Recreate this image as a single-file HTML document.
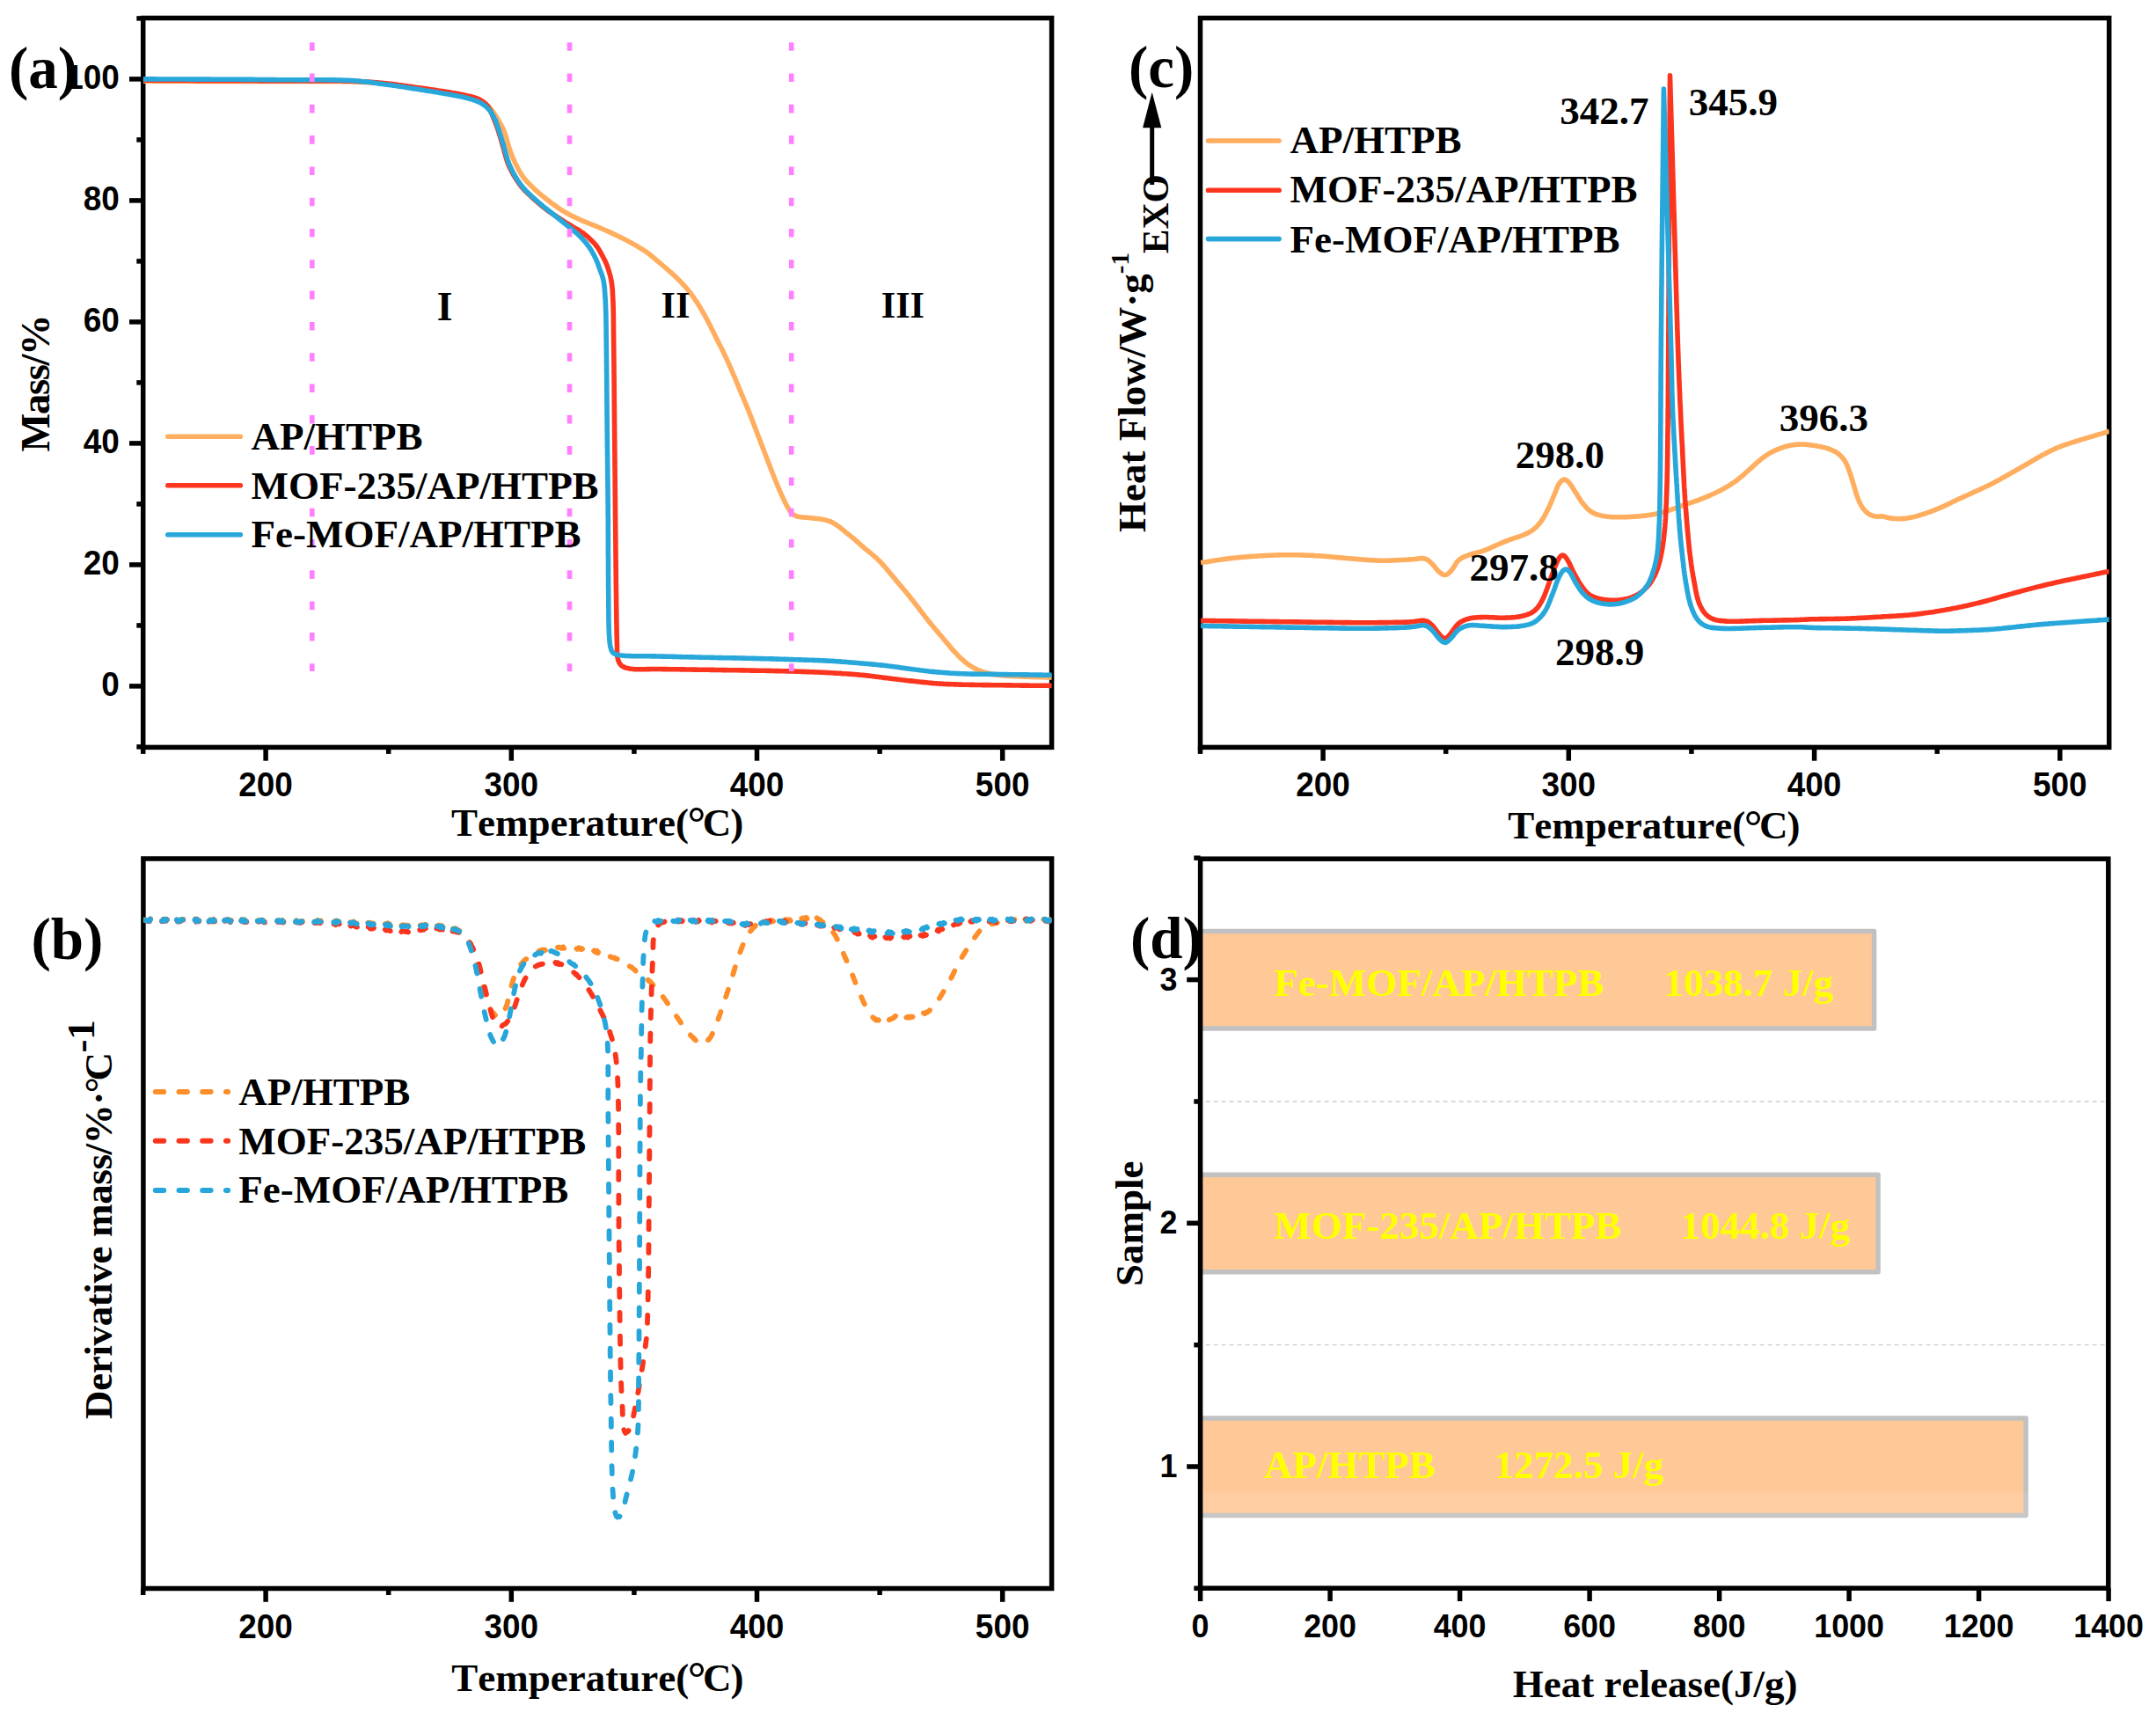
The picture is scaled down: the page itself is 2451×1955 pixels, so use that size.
<!DOCTYPE html>
<html lang="en"><head><meta charset="utf-8"><title>TG / DTG / DSC / heat release</title>
<style>
html,body{margin:0;padding:0;background:#fff}
svg{display:block}
.se{font-family:"Liberation Serif","Noto Serif CJK SC",serif;font-weight:bold;font-kerning:none}
.sa{font-family:"Liberation Sans",sans-serif;font-weight:bold;font-kerning:none}
</style></head>
<body>
<svg width="2451" height="1955" viewBox="0 0 2451 1955">
<rect width="2451" height="1955" fill="#fff"/>
<clipPath id="cd"><rect x="1364.6" y="900" width="1100" height="1000"/></clipPath>
<g id="pa">
<rect x="162.7" y="20.5" width="1032.9" height="828.9" fill="none" stroke="#000" stroke-width="5.5"/>
<line x1="302.1" y1="849.4" x2="302.1" y2="864.7" stroke="#000" stroke-width="5.5"/>
<line x1="581.3" y1="849.4" x2="581.3" y2="864.7" stroke="#000" stroke-width="5.5"/>
<line x1="860.5" y1="849.4" x2="860.5" y2="864.7" stroke="#000" stroke-width="5.5"/>
<line x1="1139.7" y1="849.4" x2="1139.7" y2="864.7" stroke="#000" stroke-width="5.5"/>
<line x1="441.7" y1="849.4" x2="441.7" y2="856.9" stroke="#000" stroke-width="5.5"/>
<line x1="720.9" y1="849.4" x2="720.9" y2="856.9" stroke="#000" stroke-width="5.5"/>
<line x1="1000.1" y1="849.4" x2="1000.1" y2="856.9" stroke="#000" stroke-width="5.5"/>
<text class="sa" transform="translate(302.1 905.0) scale(0.955 1)" font-size="38.7" text-anchor="middle">200</text>
<text class="sa" transform="translate(581.3 905.0) scale(0.955 1)" font-size="38.7" text-anchor="middle">300</text>
<text class="sa" transform="translate(860.5 905.0) scale(0.955 1)" font-size="38.7" text-anchor="middle">400</text>
<text class="sa" transform="translate(1139.7 905.0) scale(0.955 1)" font-size="38.7" text-anchor="middle">500</text>
<line x1="162.7" y1="849.4" x2="162.7" y2="856.9" stroke="#000" stroke-width="5.5"/>
<line x1="147.0" y1="779.9" x2="162.7" y2="779.9" stroke="#000" stroke-width="5.5"/>
<text class="sa" transform="translate(135.8 791.0) scale(0.955 1)" font-size="38.7" text-anchor="end">0</text>
<line x1="147.0" y1="641.9" x2="162.7" y2="641.9" stroke="#000" stroke-width="5.5"/>
<text class="sa" transform="translate(135.8 653.0) scale(0.955 1)" font-size="38.7" text-anchor="end">20</text>
<line x1="147.0" y1="503.9" x2="162.7" y2="503.9" stroke="#000" stroke-width="5.5"/>
<text class="sa" transform="translate(135.8 515.0) scale(0.955 1)" font-size="38.7" text-anchor="end">40</text>
<line x1="147.0" y1="365.9" x2="162.7" y2="365.9" stroke="#000" stroke-width="5.5"/>
<text class="sa" transform="translate(135.8 377.0) scale(0.955 1)" font-size="38.7" text-anchor="end">60</text>
<line x1="147.0" y1="227.9" x2="162.7" y2="227.9" stroke="#000" stroke-width="5.5"/>
<text class="sa" transform="translate(135.8 239.0) scale(0.955 1)" font-size="38.7" text-anchor="end">80</text>
<line x1="147.0" y1="89.9" x2="162.7" y2="89.9" stroke="#000" stroke-width="5.5"/>
<text class="sa" transform="translate(135.8 101.0) scale(0.955 1)" font-size="38.7" text-anchor="end">100</text>
<line x1="155.3" y1="848.9" x2="162.7" y2="848.9" stroke="#000" stroke-width="5.5"/>
<line x1="155.3" y1="710.9" x2="162.7" y2="710.9" stroke="#000" stroke-width="5.5"/>
<line x1="155.3" y1="572.9" x2="162.7" y2="572.9" stroke="#000" stroke-width="5.5"/>
<line x1="155.3" y1="434.9" x2="162.7" y2="434.9" stroke="#000" stroke-width="5.5"/>
<line x1="155.3" y1="296.9" x2="162.7" y2="296.9" stroke="#000" stroke-width="5.5"/>
<line x1="155.3" y1="158.9" x2="162.7" y2="158.9" stroke="#000" stroke-width="5.5"/>
<line x1="155.3" y1="20.9" x2="162.7" y2="20.9" stroke="#000" stroke-width="5.5"/>
<clipPath id="ca"><rect x="162.7" y="0" width="1032.8999999999999" height="900"/></clipPath>
<g clip-path="url(#ca)">
<path d="M162.6 92.3L164.6 92.3L166.6 92.3L168.6 92.3L170.6 92.3L172.6 92.3L174.6 92.3L176.6 92.3L178.6 92.3L180.6 92.3L182.6 92.3L184.6 92.3L186.6 92.3L188.6 92.3L190.6 92.3L192.6 92.3L194.6 92.3L196.6 92.3L198.6 92.3L200.6 92.3L202.6 92.3L204.6 92.3L206.6 92.3L208.6 92.3L210.6 92.3L212.6 92.3L214.6 92.3L216.6 92.4L218.6 92.4L220.6 92.4L222.6 92.4L224.6 92.4L226.6 92.4L228.6 92.4L230.6 92.4L232.6 92.4L234.6 92.4L236.6 92.4L238.6 92.4L240.6 92.4L242.6 92.4L244.6 92.4L246.6 92.4L248.6 92.4L250.6 92.4L252.6 92.4L254.6 92.4L256.6 92.4L258.6 92.4L260.6 92.4L262.6 92.4L264.6 92.4L266.6 92.4L268.6 92.4L270.6 92.4L272.6 92.4L274.6 92.4L276.6 92.4L278.6 92.4L280.6 92.4L282.6 92.4L284.6 92.4L286.6 92.4L288.6 92.4L290.6 92.4L292.6 92.4L294.6 92.4L296.6 92.4L298.6 92.4L300.6 92.4L302.6 92.4L304.6 92.4L306.6 92.4L308.6 92.5L310.6 92.5L312.6 92.5L314.6 92.5L316.6 92.5L318.6 92.5L320.6 92.5L322.6 92.5L324.6 92.5L326.6 92.5L328.6 92.5L330.6 92.5L332.6 92.5L334.6 92.5L336.6 92.5L338.6 92.5L340.6 92.5L342.6 92.5L344.6 92.5L346.6 92.5L348.6 92.5L350.6 92.5L352.6 92.5L354.6 92.5L356.6 92.5L358.6 92.5L360.6 92.4L362.6 92.4L364.6 92.4L366.6 92.4L368.6 92.4L370.6 92.4L372.6 92.4L374.6 92.4L376.6 92.4L378.6 92.4L380.6 92.4L382.6 92.5L384.6 92.5L386.6 92.5L388.6 92.5L390.6 92.6L392.6 92.6L394.6 92.6L396.6 92.7L398.6 92.8L400.6 92.8L402.6 92.9L404.6 93.0L406.6 93.1L408.6 93.1L410.6 93.2L412.6 93.3L414.6 93.4L416.6 93.6L418.6 93.7L420.6 93.8L422.6 93.9L424.6 94.1L426.6 94.2L428.5 94.4L430.5 94.6L432.5 94.8L434.5 94.9L436.5 95.1L438.5 95.3L440.5 95.6L442.5 95.8L444.5 96.0L446.4 96.3L448.4 96.5L450.4 96.8L452.4 97.1L454.4 97.3L456.4 97.6L458.3 97.9L460.3 98.2L462.3 98.5L464.3 98.8L466.2 99.1L468.2 99.4L470.2 99.7L472.2 100.0L474.2 100.3L476.1 100.6L478.1 100.8L480.1 101.1L482.1 101.4L484.1 101.7L486.0 102.0L488.0 102.3L490.0 102.6L492.0 102.9L493.9 103.2L495.9 103.5L497.9 103.8L499.9 104.1L501.9 104.4L503.8 104.7L505.8 105.0L507.8 105.4L509.7 105.7L511.7 106.0L513.7 106.4L515.7 106.7L517.6 107.0L519.6 107.4L521.6 107.7L523.5 108.1L525.5 108.5L527.5 108.9L529.4 109.3L531.4 109.8L533.3 110.3L535.2 110.7L537.2 111.2L539.1 111.8L541.0 112.4L542.9 113.1L544.7 113.9L546.5 114.8L548.3 115.7L550.0 116.8L551.6 117.9L553.2 119.1L554.7 120.4L556.2 121.8L557.5 123.2L558.8 124.8L560.0 126.4L561.2 128.0L562.3 129.7L563.3 131.3L564.4 133.0L565.5 134.7L566.5 136.4L567.5 138.2L568.5 139.9L569.5 141.6L570.4 143.4L571.3 145.2L572.2 147.0L573.0 148.8L573.7 150.7L574.3 152.6L574.9 154.5L575.5 156.4L576.0 158.4L576.5 160.3L577.0 162.2L577.6 164.1L578.2 166.1L578.8 167.9L579.5 169.8L580.1 171.7L580.8 173.6L581.5 175.5L582.2 177.3L583.0 179.2L583.8 181.0L584.6 182.9L585.4 184.7L586.3 186.5L587.2 188.3L588.1 190.1L589.0 191.8L590.0 193.6L591.0 195.3L592.0 197.0L593.1 198.7L594.2 200.3L595.4 202.0L596.6 203.5L597.9 205.1L599.2 206.6L600.6 208.0L602.0 209.4L603.4 210.9L604.9 212.3L606.3 213.6L607.8 215.0L609.2 216.4L610.7 217.7L612.2 219.0L613.8 220.3L615.3 221.6L616.8 222.8L618.4 224.1L620.0 225.3L621.6 226.6L623.1 227.8L624.7 229.0L626.3 230.2L627.9 231.4L629.5 232.6L631.2 233.8L632.8 234.9L634.4 236.1L636.1 237.2L637.7 238.3L639.4 239.4L641.1 240.4L642.9 241.4L644.6 242.4L646.4 243.3L648.1 244.3L649.9 245.2L651.7 246.1L653.5 246.9L655.3 247.8L657.1 248.6L658.9 249.5L660.8 250.3L662.6 251.1L664.4 251.9L666.3 252.6L668.2 253.4L670.0 254.1L671.9 254.8L673.8 255.5L675.6 256.3L677.5 257.0L679.3 257.8L681.2 258.6L683.0 259.4L684.8 260.2L686.7 261.0L688.5 261.8L690.3 262.6L692.1 263.4L694.0 264.3L695.8 265.1L697.6 265.9L699.4 266.8L701.2 267.7L703.0 268.5L704.8 269.4L706.6 270.3L708.4 271.2L710.2 272.1L711.9 273.0L713.7 273.9L715.5 274.9L717.2 275.8L719.0 276.8L720.7 277.8L722.5 278.7L724.2 279.7L725.9 280.8L727.6 281.8L729.3 282.8L731.0 283.9L732.7 285.0L734.4 286.1L736.0 287.3L737.6 288.5L739.2 289.7L740.7 291.0L742.3 292.2L743.8 293.5L745.3 294.8L746.8 296.1L748.4 297.4L749.9 298.7L751.4 300.0L752.9 301.3L754.5 302.6L756.0 303.9L757.5 305.2L759.0 306.5L760.5 307.8L762.1 309.1L763.5 310.4L765.0 311.8L766.5 313.1L767.9 314.5L769.4 315.9L770.8 317.3L772.2 318.7L773.6 320.2L775.0 321.6L776.4 323.1L777.7 324.5L779.1 326.0L780.4 327.5L781.7 329.1L782.9 330.6L784.2 332.2L785.4 333.8L786.6 335.4L787.7 337.0L788.9 338.6L790.0 340.3L791.1 341.9L792.2 343.6L793.3 345.3L794.4 347.0L795.5 348.7L796.5 350.4L797.5 352.1L798.5 353.8L799.5 355.6L800.5 357.3L801.5 359.1L802.4 360.8L803.4 362.6L804.3 364.3L805.2 366.1L806.1 367.9L807.1 369.7L808.0 371.5L808.8 373.3L809.7 375.0L810.6 376.8L811.5 378.6L812.4 380.4L813.3 382.2L814.2 384.0L815.1 385.8L816.0 387.6L816.9 389.4L817.8 391.2L818.7 392.9L819.6 394.7L820.5 396.5L821.4 398.3L822.2 400.1L823.1 401.9L824.0 403.7L824.8 405.5L825.7 407.3L826.5 409.1L827.3 411.0L828.2 412.8L829.0 414.6L829.8 416.4L830.6 418.3L831.4 420.1L832.2 421.9L833.0 423.8L833.8 425.6L834.6 427.4L835.4 429.3L836.1 431.1L836.9 433.0L837.7 434.8L838.4 436.7L839.2 438.5L839.9 440.4L840.7 442.2L841.5 444.1L842.2 445.9L843.0 447.8L843.8 449.6L844.6 451.4L845.3 453.3L846.1 455.1L846.9 457.0L847.7 458.8L848.4 460.7L849.2 462.5L850.0 464.4L850.7 466.2L851.5 468.1L852.2 469.9L852.9 471.8L853.7 473.7L854.4 475.5L855.1 477.4L855.8 479.3L856.5 481.1L857.2 483.0L857.9 484.9L858.6 486.7L859.4 488.6L860.1 490.5L860.8 492.3L861.5 494.2L862.2 496.1L862.9 497.9L863.7 499.8L864.4 501.7L865.1 503.5L865.8 505.4L866.5 507.3L867.2 509.1L868.0 511.0L868.7 512.9L869.4 514.7L870.1 516.6L870.8 518.5L871.5 520.3L872.2 522.2L873.0 524.1L873.7 526.0L874.4 527.8L875.1 529.7L875.8 531.6L876.5 533.4L877.2 535.3L878.0 537.2L878.7 539.0L879.5 540.9L880.2 542.7L880.9 544.6L881.7 546.4L882.4 548.3L883.2 550.1L884.0 552.0L884.7 553.8L885.5 555.7L886.3 557.5L887.1 559.4L887.9 561.2L888.7 563.0L889.6 564.8L890.4 566.6L891.3 568.4L892.1 570.2L893.0 572.0L893.9 573.8L894.9 575.6L895.9 577.3L896.9 579.0L897.9 580.7L899.1 582.3L900.5 583.8L902.0 585.0L903.8 585.9L905.6 586.7L907.5 587.2L909.5 587.6L911.5 587.9L913.5 588.0L915.4 588.2L917.4 588.3L919.4 588.5L921.4 588.7L923.4 588.9L925.4 589.1L927.4 589.3L929.4 589.5L931.4 589.8L933.3 590.1L935.3 590.4L937.3 590.8L939.2 591.2L941.1 591.8L943.0 592.4L944.9 593.2L946.7 594.1L948.4 595.1L950.1 596.2L951.7 597.3L953.4 598.4L955.0 599.6L956.5 600.9L958.1 602.1L959.6 603.4L961.1 604.7L962.7 606.0L964.3 607.2L965.8 608.4L967.4 609.7L969.0 610.9L970.5 612.2L972.0 613.5L973.5 614.8L975.0 616.1L976.5 617.5L978.0 618.9L979.4 620.2L980.9 621.5L982.5 622.8L984.0 624.1L985.6 625.4L987.1 626.6L988.7 627.9L990.2 629.1L991.8 630.4L993.3 631.7L994.8 633.0L996.3 634.3L997.7 635.7L999.2 637.1L1000.6 638.5L1002.0 640.0L1003.3 641.5L1004.6 642.9L1006.0 644.5L1007.3 646.0L1008.6 647.5L1009.8 649.0L1011.1 650.6L1012.4 652.1L1013.7 653.6L1015.0 655.2L1016.2 656.7L1017.5 658.2L1018.8 659.8L1020.1 661.3L1021.4 662.8L1022.7 664.4L1024.0 665.9L1025.3 667.4L1026.5 669.0L1027.8 670.5L1029.1 672.0L1030.4 673.6L1031.6 675.1L1032.9 676.7L1034.2 678.2L1035.4 679.8L1036.7 681.3L1037.9 682.9L1039.1 684.5L1040.4 686.1L1041.6 687.7L1042.8 689.2L1044.0 690.8L1045.2 692.4L1046.4 694.0L1047.6 695.6L1048.9 697.2L1050.1 698.8L1051.3 700.4L1052.5 701.9L1053.8 703.5L1055.0 705.1L1056.3 706.6L1057.5 708.2L1058.8 709.7L1060.1 711.3L1061.4 712.8L1062.6 714.4L1063.9 715.9L1065.2 717.4L1066.5 718.9L1067.8 720.5L1069.1 722.0L1070.4 723.5L1071.7 725.1L1072.9 726.6L1074.2 728.1L1075.5 729.6L1076.8 731.2L1078.1 732.7L1079.4 734.2L1080.7 735.8L1082.0 737.3L1083.3 738.8L1084.6 740.3L1086.0 741.7L1087.4 743.2L1088.7 744.6L1090.1 746.1L1091.6 747.5L1093.0 748.9L1094.5 750.2L1096.0 751.5L1097.6 752.8L1099.1 754.0L1100.7 755.2L1102.4 756.3L1104.1 757.4L1105.8 758.4L1107.5 759.4L1109.3 760.3L1111.1 761.2L1112.9 762.0L1114.8 762.7L1116.7 763.4L1118.6 764.0L1120.5 764.5L1122.4 765.0L1124.4 765.5L1126.3 765.9L1128.3 766.3L1130.3 766.6L1132.3 766.9L1134.2 767.2L1136.2 767.4L1138.2 767.6L1140.2 767.8L1142.2 768.0L1144.2 768.1L1146.2 768.2L1148.2 768.3L1150.2 768.4L1152.2 768.5L1154.2 768.7L1156.2 768.8L1158.2 768.9L1160.2 769.0L1162.2 769.0L1164.2 769.1L1166.2 769.2L1168.2 769.3L1170.2 769.3L1172.2 769.4L1174.2 769.5L1176.2 769.5L1178.2 769.6L1180.2 769.6L1182.2 769.7L1184.2 769.7L1186.2 769.8L1188.2 769.9L1190.2 769.9L1192.2 770.0L1194.2 770.0L1196.0 770.1" fill="none" stroke="#FFAE5F" stroke-width="5.6" stroke-linejoin="round"/>
<path d="M162.6 91.3L164.6 91.3L166.6 91.3L168.6 91.3L170.6 91.3L172.6 91.3L174.6 91.4L176.6 91.4L178.6 91.4L180.6 91.4L182.6 91.4L184.6 91.4L186.6 91.4L188.6 91.4L190.6 91.4L192.6 91.4L194.6 91.4L196.6 91.4L198.6 91.5L200.6 91.5L202.6 91.5L204.6 91.5L206.6 91.5L208.6 91.5L210.6 91.5L212.6 91.5L214.6 91.5L216.6 91.5L218.6 91.5L220.6 91.5L222.6 91.6L224.6 91.6L226.6 91.6L228.6 91.6L230.6 91.6L232.6 91.6L234.6 91.6L236.6 91.6L238.6 91.6L240.6 91.6L242.6 91.6L244.6 91.6L246.6 91.7L248.6 91.7L250.6 91.7L252.6 91.7L254.6 91.7L256.6 91.7L258.6 91.7L260.6 91.7L262.6 91.7L264.6 91.7L266.6 91.7L268.6 91.7L270.6 91.8L272.6 91.8L274.6 91.8L276.6 91.8L278.6 91.8L280.6 91.8L282.6 91.8L284.6 91.8L286.6 91.8L288.6 91.8L290.6 91.8L292.6 91.8L294.6 91.9L296.6 91.9L298.6 91.9L300.6 91.9L302.6 91.9L304.6 91.9L306.6 91.9L308.6 91.9L310.6 91.9L312.6 91.9L314.6 91.9L316.6 91.9L318.6 92.0L320.6 92.0L322.6 92.0L324.6 92.0L326.6 92.0L328.6 92.0L330.6 92.0L332.6 92.0L334.6 92.0L336.6 92.0L338.6 92.0L340.6 92.0L342.6 92.0L344.6 92.0L346.6 92.0L348.6 92.0L350.6 92.0L352.6 92.0L354.6 92.0L356.6 92.0L358.6 92.0L360.6 92.0L362.6 92.0L364.6 92.0L366.6 92.0L368.6 92.0L370.6 91.9L372.6 91.9L374.6 91.9L376.6 92.0L378.6 92.0L380.6 92.0L382.6 92.0L384.6 92.0L386.6 92.0L388.6 92.0L390.6 92.1L392.6 92.1L394.6 92.2L396.6 92.2L398.6 92.3L400.6 92.3L402.6 92.4L404.6 92.5L406.6 92.5L408.6 92.6L410.6 92.7L412.6 92.8L414.6 92.9L416.6 93.0L418.6 93.1L420.6 93.3L422.6 93.4L424.6 93.5L426.6 93.7L428.6 93.8L430.5 94.0L432.5 94.2L434.5 94.4L436.5 94.5L438.5 94.7L440.5 94.9L442.5 95.2L444.5 95.4L446.5 95.6L448.4 95.9L450.4 96.1L452.4 96.4L454.4 96.7L456.4 96.9L458.4 97.2L460.3 97.5L462.3 97.8L464.3 98.1L466.3 98.3L468.3 98.6L470.2 98.9L472.2 99.2L474.2 99.5L476.2 99.7L478.2 100.0L480.1 100.3L482.1 100.6L484.1 100.9L486.1 101.1L488.1 101.4L490.0 101.7L492.0 102.0L494.0 102.3L496.0 102.6L498.0 102.9L499.9 103.2L501.9 103.5L503.9 103.8L505.9 104.1L507.8 104.4L509.8 104.7L511.8 105.0L513.8 105.4L515.7 105.7L517.7 106.1L519.7 106.4L521.6 106.8L523.6 107.2L525.6 107.6L527.5 108.0L529.5 108.4L531.4 108.9L533.4 109.3L535.3 109.8L537.2 110.3L539.2 110.8L541.1 111.4L542.9 112.1L544.8 112.9L546.5 113.9L548.2 114.9L549.8 116.1L551.4 117.4L552.8 118.8L554.1 120.3L555.3 121.9L556.3 123.6L557.3 125.3L558.1 127.1L558.9 129.0L559.7 130.8L560.4 132.7L561.2 134.5L562.0 136.4L562.7 138.2L563.4 140.1L564.1 142.0L564.8 143.8L565.5 145.7L566.1 147.6L566.7 149.5L567.3 151.4L567.9 153.3L568.5 155.2L569.1 157.2L569.6 159.1L570.2 161.0L570.7 162.9L571.3 164.9L571.8 166.8L572.4 168.7L572.9 170.6L573.4 172.6L573.9 174.5L574.5 176.4L575.0 178.3L575.6 180.3L576.2 182.2L576.8 184.1L577.5 185.9L578.3 187.8L579.1 189.6L579.9 191.4L580.8 193.2L581.7 195.0L582.6 196.8L583.6 198.5L584.6 200.2L585.7 202.0L586.7 203.6L587.8 205.3L589.0 207.0L590.1 208.6L591.3 210.2L592.5 211.8L593.8 213.3L595.1 214.9L596.4 216.3L597.8 217.8L599.3 219.2L600.7 220.5L602.2 221.9L603.7 223.3L605.1 224.6L606.6 226.0L608.1 227.3L609.6 228.6L611.1 229.9L612.6 231.3L614.1 232.5L615.7 233.8L617.2 235.1L618.8 236.4L620.3 237.6L621.9 238.8L623.5 240.0L625.2 241.1L626.8 242.2L628.5 243.3L630.2 244.4L631.9 245.5L633.5 246.6L635.2 247.7L636.9 248.8L638.6 249.9L640.3 251.0L641.9 252.0L643.6 253.1L645.3 254.1L647.0 255.2L648.8 256.2L650.5 257.3L652.2 258.3L653.9 259.3L655.6 260.3L657.4 261.3L659.1 262.4L660.7 263.5L662.4 264.6L664.0 265.8L665.5 267.1L667.1 268.3L668.6 269.6L670.1 271.0L671.5 272.4L672.9 273.8L674.3 275.2L675.7 276.7L677.0 278.2L678.2 279.8L679.4 281.4L680.5 283.0L681.5 284.7L682.5 286.5L683.5 288.2L684.4 290.0L685.4 291.8L686.3 293.6L687.2 295.3L688.1 297.1L688.9 298.9L689.7 300.8L690.4 302.7L691.0 304.5L691.7 306.4L692.3 308.4L692.8 310.3L693.4 312.2L693.9 314.1L694.3 316.1L694.8 318.0L695.1 320.0L695.4 322.0L695.7 324.0L695.9 325.9L696.1 327.9L696.3 329.9L696.4 331.9L696.5 333.9L696.6 335.9L696.7 337.9L696.8 339.9L696.9 341.9L697.0 343.9L697.1 345.9L697.1 347.9L697.2 349.9L697.2 351.9L697.3 353.9L697.3 355.9L697.3 357.9L697.4 359.9L697.4 361.9L697.4 363.9L697.4 365.9L697.4 367.9L697.5 369.9L697.5 371.9L697.5 373.9L697.5 375.9L697.5 377.9L697.6 379.9L697.6 381.9L697.6 383.9L697.6 385.9L697.6 387.9L697.7 389.9L697.7 391.9L697.7 393.9L697.7 395.9L697.8 397.9L697.8 399.9L697.8 401.9L697.8 403.9L697.9 405.9L697.9 407.9L697.9 409.9L697.9 411.9L697.9 413.9L698.0 415.9L698.0 417.9L698.0 419.9L698.0 421.9L698.0 423.9L698.1 425.9L698.1 427.9L698.1 429.9L698.1 431.9L698.1 433.9L698.2 435.9L698.2 437.9L698.2 439.9L698.2 441.9L698.2 443.9L698.2 445.9L698.3 447.9L698.3 449.9L698.3 451.9L698.3 453.9L698.3 455.9L698.3 457.9L698.4 459.9L698.4 461.9L698.4 463.9L698.4 465.9L698.4 467.9L698.5 469.9L698.5 471.9L698.5 473.9L698.5 475.9L698.5 477.9L698.5 479.9L698.6 481.9L698.6 483.9L698.6 485.9L698.6 487.9L698.6 489.9L698.7 491.9L698.7 493.9L698.7 495.9L698.7 497.9L698.7 499.9L698.8 501.9L698.8 503.9L698.8 505.9L698.8 507.9L698.8 509.9L698.8 511.9L698.9 513.9L698.9 515.9L698.9 517.9L698.9 519.9L698.9 521.9L699.0 523.9L699.0 525.9L699.0 527.9L699.0 529.9L699.0 531.9L699.1 533.9L699.1 535.9L699.1 537.9L699.1 539.9L699.1 541.9L699.2 543.9L699.2 545.9L699.2 547.9L699.2 549.9L699.2 551.9L699.3 553.9L699.3 555.9L699.3 557.9L699.3 559.9L699.3 561.9L699.3 563.9L699.4 565.9L699.4 567.9L699.4 569.9L699.4 571.9L699.4 573.9L699.5 575.9L699.5 577.9L699.5 579.9L699.5 581.9L699.5 583.9L699.6 585.9L699.6 587.9L699.6 589.9L699.6 591.9L699.6 593.9L699.7 595.9L699.7 597.9L699.7 599.9L699.7 601.9L699.7 603.9L699.8 605.9L699.8 607.9L699.8 609.9L699.8 611.9L699.8 613.9L699.9 615.9L699.9 617.9L699.9 619.9L699.9 621.9L699.9 623.9L700.0 625.9L700.0 627.9L700.0 629.9L700.0 631.9L700.0 633.9L700.1 635.9L700.1 637.9L700.1 639.9L700.1 641.9L700.1 643.9L700.2 645.9L700.2 647.9L700.2 649.9L700.2 651.9L700.3 653.9L700.3 655.9L700.3 657.9L700.3 659.9L700.3 661.9L700.4 663.9L700.4 665.9L700.4 667.9L700.4 669.9L700.5 671.9L700.5 673.9L700.5 675.9L700.5 677.9L700.6 679.9L700.6 681.9L700.6 683.9L700.6 685.9L700.7 687.9L700.7 689.9L700.7 691.9L700.7 693.9L700.8 695.9L700.8 697.9L700.8 699.9L700.8 701.9L700.9 703.9L700.9 705.9L700.9 707.9L701.0 709.9L701.0 711.9L701.0 713.9L701.1 715.9L701.1 717.9L701.1 719.9L701.2 721.9L701.2 723.9L701.3 725.9L701.3 727.9L701.4 729.9L701.4 731.9L701.5 733.9L701.5 735.9L701.5 737.9L701.5 739.9L701.5 741.9L701.6 743.9L701.8 745.9L702.2 747.8L702.6 749.8L703.3 751.7L704.1 753.5L705.2 755.1L706.5 756.5L708.1 757.6L709.9 758.5L711.8 759.1L713.7 759.6L715.7 760.0L717.7 760.3L719.7 760.5L721.6 760.7L723.6 760.7L725.6 760.8L727.6 760.8L729.6 760.7L731.6 760.7L733.6 760.7L735.6 760.6L737.6 760.6L739.6 760.5L741.6 760.5L743.6 760.5L745.6 760.5L747.6 760.5L749.6 760.5L751.6 760.5L753.6 760.6L755.6 760.6L757.6 760.6L759.6 760.7L761.6 760.7L763.6 760.7L765.6 760.7L767.6 760.8L769.6 760.8L771.6 760.8L773.6 760.9L775.6 760.9L777.6 760.9L779.6 761.0L781.6 761.0L783.6 761.0L785.6 761.0L787.6 761.1L789.6 761.1L791.6 761.1L793.6 761.2L795.6 761.2L797.6 761.2L799.6 761.3L801.6 761.3L803.6 761.3L805.6 761.3L807.6 761.4L809.6 761.4L811.6 761.4L813.6 761.5L815.6 761.5L817.6 761.5L819.6 761.5L821.6 761.6L823.6 761.6L825.6 761.6L827.6 761.7L829.6 761.7L831.6 761.7L833.6 761.7L835.6 761.8L837.6 761.8L839.6 761.8L841.6 761.9L843.6 761.9L845.6 761.9L847.6 762.0L849.6 762.0L851.6 762.0L853.6 762.1L855.6 762.1L857.6 762.1L859.6 762.2L861.6 762.2L863.6 762.2L865.6 762.3L867.6 762.3L869.6 762.3L871.6 762.4L873.6 762.4L875.6 762.4L877.6 762.5L879.6 762.5L881.6 762.6L883.6 762.6L885.6 762.6L887.6 762.7L889.6 762.7L891.6 762.8L893.6 762.8L895.6 762.9L897.6 762.9L899.6 763.0L901.6 763.0L903.6 763.1L905.6 763.2L907.6 763.2L909.6 763.3L911.6 763.4L913.6 763.4L915.6 763.5L917.6 763.6L919.6 763.6L921.6 763.7L923.6 763.8L925.6 763.9L927.6 764.0L929.6 764.0L931.6 764.1L933.6 764.2L935.6 764.3L937.6 764.4L939.6 764.5L941.6 764.6L943.6 764.7L945.6 764.8L947.6 765.0L949.6 765.1L951.6 765.2L953.6 765.3L955.6 765.4L957.6 765.6L959.6 765.7L961.6 765.8L963.5 766.0L965.5 766.1L967.5 766.2L969.5 766.4L971.5 766.5L973.5 766.7L975.5 766.9L977.5 767.1L979.5 767.2L981.5 767.4L983.5 767.6L985.5 767.9L987.5 768.1L989.4 768.3L991.4 768.6L993.4 768.8L995.4 769.1L997.4 769.3L999.4 769.6L1001.3 769.8L1003.3 770.1L1005.3 770.4L1007.3 770.6L1009.3 770.8L1011.3 771.1L1013.2 771.3L1015.2 771.6L1017.2 771.8L1019.2 772.0L1021.2 772.3L1023.2 772.5L1025.2 772.8L1027.1 773.0L1029.1 773.2L1031.1 773.5L1033.1 773.7L1035.1 773.9L1037.1 774.1L1039.1 774.3L1041.1 774.6L1043.0 774.8L1045.0 775.0L1047.0 775.2L1049.0 775.4L1051.0 775.6L1053.0 775.8L1055.0 776.0L1057.0 776.2L1059.0 776.4L1061.0 776.6L1063.0 776.7L1064.9 776.9L1066.9 777.0L1068.9 777.1L1070.9 777.2L1072.9 777.4L1074.9 777.5L1076.9 777.6L1078.9 777.6L1080.9 777.7L1082.9 777.8L1084.9 777.9L1086.9 777.9L1088.9 778.0L1090.9 778.1L1092.9 778.1L1094.9 778.2L1096.9 778.2L1098.9 778.3L1100.9 778.3L1102.9 778.4L1104.9 778.4L1106.9 778.4L1108.9 778.5L1110.9 778.5L1112.9 778.5L1114.9 778.5L1116.9 778.6L1118.9 778.6L1120.9 778.6L1122.9 778.6L1124.9 778.6L1126.9 778.7L1128.9 778.7L1130.9 778.7L1132.9 778.8L1134.9 778.8L1136.9 778.8L1138.9 778.8L1140.9 778.8L1142.9 778.9L1144.9 778.9L1146.9 778.9L1148.9 778.9L1150.9 779.0L1152.9 779.0L1154.9 779.0L1156.9 779.0L1158.9 779.0L1160.9 779.1L1162.9 779.1L1164.9 779.1L1166.9 779.1L1168.9 779.1L1170.9 779.2L1172.9 779.2L1174.9 779.2L1176.9 779.2L1178.9 779.2L1180.9 779.2L1182.9 779.3L1184.9 779.3L1186.9 779.3L1188.9 779.3L1190.9 779.3L1192.9 779.4L1194.9 779.4L1196.0 779.4" fill="none" stroke="#FC351E" stroke-width="5.6" stroke-linejoin="round"/>
<path d="M162.6 89.9L164.6 89.9L166.6 89.9L168.6 89.9L170.6 89.9L172.6 89.9L174.6 89.9L176.6 89.9L178.6 90.0L180.6 90.0L182.6 90.0L184.6 90.0L186.6 90.0L188.6 90.0L190.6 90.0L192.6 90.0L194.6 90.0L196.6 90.0L198.6 90.0L200.6 90.0L202.6 90.0L204.6 90.0L206.6 90.0L208.6 90.0L210.6 90.0L212.6 90.0L214.6 90.1L216.6 90.1L218.6 90.1L220.6 90.1L222.6 90.1L224.6 90.1L226.6 90.1L228.6 90.1L230.6 90.1L232.6 90.1L234.6 90.1L236.6 90.1L238.6 90.1L240.6 90.2L242.6 90.2L244.6 90.2L246.6 90.2L248.6 90.2L250.6 90.2L252.6 90.2L254.6 90.2L256.6 90.2L258.6 90.2L260.6 90.3L262.6 90.3L264.6 90.3L266.6 90.3L268.6 90.3L270.6 90.3L272.6 90.3L274.6 90.4L276.6 90.4L278.6 90.4L280.6 90.4L282.6 90.4L284.6 90.4L286.6 90.4L288.6 90.4L290.6 90.5L292.6 90.5L294.6 90.5L296.6 90.5L298.6 90.5L300.6 90.5L302.6 90.6L304.6 90.6L306.6 90.6L308.6 90.6L310.6 90.6L312.6 90.6L314.6 90.7L316.6 90.7L318.6 90.7L320.6 90.7L322.6 90.7L324.6 90.7L326.6 90.8L328.6 90.8L330.6 90.8L332.6 90.8L334.6 90.8L336.6 90.8L338.6 90.8L340.6 90.9L342.6 90.9L344.6 90.9L346.6 90.9L348.6 90.8L350.6 90.8L352.6 90.8L354.6 90.8L356.6 90.8L358.6 90.8L360.6 90.8L362.6 90.8L364.6 90.8L366.6 90.8L368.6 90.8L370.6 90.8L372.6 90.9L374.6 90.9L376.6 90.9L378.6 90.9L380.6 90.9L382.6 91.0L384.6 91.0L386.6 91.1L388.6 91.1L390.6 91.2L392.6 91.2L394.6 91.3L396.6 91.4L398.6 91.5L400.6 91.6L402.6 91.8L404.6 91.9L406.6 92.1L408.6 92.3L410.5 92.4L412.5 92.7L414.5 92.9L416.5 93.1L418.5 93.3L420.5 93.6L422.5 93.8L424.5 94.1L426.4 94.3L428.4 94.6L430.4 94.9L432.4 95.2L434.4 95.4L436.3 95.7L438.3 96.0L440.3 96.2L442.3 96.5L444.3 96.8L446.2 97.1L448.2 97.3L450.2 97.6L452.2 97.9L454.2 98.2L456.1 98.5L458.1 98.8L460.1 99.1L462.1 99.5L464.0 99.8L466.0 100.1L468.0 100.4L470.0 100.7L471.9 101.0L473.9 101.3L475.9 101.6L477.9 101.9L479.8 102.3L481.8 102.6L483.8 102.9L485.8 103.2L487.8 103.5L489.7 103.8L491.7 104.1L493.7 104.5L495.7 104.8L497.6 105.1L499.6 105.4L501.6 105.8L503.5 106.1L505.5 106.4L507.5 106.8L509.5 107.1L511.4 107.5L513.4 107.8L515.4 108.2L517.3 108.5L519.3 108.9L521.3 109.3L523.2 109.7L525.2 110.1L527.1 110.5L529.1 111.0L531.0 111.5L532.9 112.0L534.9 112.6L536.8 113.2L538.7 113.8L540.6 114.4L542.4 115.1L544.3 115.9L546.0 116.8L547.8 117.8L549.5 118.9L551.1 120.0L552.7 121.3L554.1 122.6L555.5 124.1L556.7 125.6L557.9 127.2L559.0 128.9L560.0 130.6L561.0 132.4L561.9 134.2L562.8 136.0L563.6 137.8L564.3 139.7L565.0 141.5L565.6 143.4L566.3 145.3L566.9 147.2L567.5 149.1L568.1 151.0L568.7 152.9L569.3 154.9L569.9 156.8L570.4 158.7L571.0 160.6L571.6 162.5L572.1 164.4L572.7 166.4L573.3 168.3L573.8 170.2L574.3 172.1L574.9 174.1L575.4 176.0L576.0 177.9L576.5 179.8L577.1 181.7L577.8 183.6L578.4 185.5L579.2 187.4L580.0 189.2L580.8 191.0L581.6 192.8L582.5 194.6L583.5 196.4L584.4 198.2L585.4 199.9L586.4 201.6L587.5 203.3L588.6 205.0L589.7 206.6L590.9 208.3L592.0 209.9L593.3 211.5L594.5 213.0L595.8 214.5L597.2 216.0L598.5 217.5L600.0 218.9L601.4 220.2L602.9 221.6L604.3 223.0L605.8 224.3L607.3 225.7L608.8 227.0L610.3 228.4L611.8 229.7L613.3 231.0L614.8 232.3L616.4 233.5L617.9 234.8L619.5 236.1L621.0 237.3L622.6 238.5L624.2 239.8L625.7 241.0L627.3 242.3L628.9 243.5L630.4 244.8L632.0 246.0L633.6 247.3L635.1 248.5L636.7 249.8L638.2 251.0L639.8 252.3L641.3 253.5L642.9 254.8L644.5 256.0L646.0 257.3L647.6 258.5L649.2 259.7L650.7 261.0L652.3 262.3L653.8 263.6L655.3 264.9L656.8 266.2L658.2 267.6L659.7 269.0L661.1 270.4L662.4 271.9L663.8 273.4L665.1 274.9L666.4 276.4L667.6 278.0L668.8 279.6L670.0 281.2L671.1 282.9L672.1 284.6L673.2 286.3L674.1 288.0L675.1 289.8L676.0 291.6L676.9 293.4L677.7 295.2L678.5 297.0L679.3 298.9L680.0 300.7L680.6 302.6L681.3 304.5L682.0 306.4L682.7 308.3L683.4 310.1L684.1 312.0L684.7 313.9L685.3 315.8L685.8 317.8L686.2 319.7L686.5 321.7L686.8 323.7L687.0 325.7L687.3 327.6L687.4 329.6L687.6 331.6L687.7 333.6L687.8 335.6L687.9 337.6L688.1 339.6L688.2 341.6L688.3 343.6L688.4 345.6L688.5 347.6L688.5 349.6L688.6 351.6L688.7 353.6L688.8 355.6L688.8 357.6L688.9 359.6L688.9 361.6L688.9 363.6L689.0 365.6L689.0 367.6L689.0 369.6L689.1 371.6L689.1 373.6L689.1 375.6L689.1 377.6L689.1 379.6L689.2 381.6L689.2 383.6L689.2 385.6L689.2 387.6L689.3 389.6L689.3 391.6L689.3 393.6L689.3 395.6L689.4 397.6L689.4 399.6L689.4 401.6L689.4 403.6L689.5 405.6L689.5 407.6L689.5 409.6L689.5 411.6L689.5 413.6L689.6 415.6L689.6 417.6L689.6 419.6L689.6 421.6L689.6 423.6L689.7 425.6L689.7 427.6L689.7 429.6L689.7 431.6L689.7 433.6L689.8 435.6L689.8 437.6L689.8 439.6L689.8 441.6L689.8 443.6L689.8 445.6L689.9 447.6L689.9 449.6L689.9 451.6L689.9 453.6L689.9 455.6L689.9 457.6L690.0 459.6L690.0 461.6L690.0 463.6L690.0 465.6L690.0 467.6L690.0 469.6L690.1 471.6L690.1 473.6L690.1 475.6L690.1 477.6L690.1 479.6L690.2 481.6L690.2 483.6L690.2 485.6L690.2 487.6L690.2 489.6L690.3 491.6L690.3 493.6L690.3 495.6L690.3 497.6L690.3 499.6L690.4 501.6L690.4 503.6L690.4 505.6L690.4 507.6L690.5 509.6L690.5 511.6L690.5 513.6L690.5 515.6L690.6 517.6L690.6 519.6L690.6 521.6L690.6 523.6L690.6 525.6L690.7 527.6L690.7 529.6L690.7 531.6L690.7 533.6L690.8 535.6L690.8 537.6L690.8 539.6L690.8 541.6L690.9 543.6L690.9 545.6L690.9 547.6L690.9 549.6L690.9 551.6L691.0 553.6L691.0 555.6L691.0 557.6L691.0 559.6L691.0 561.6L691.1 563.6L691.1 565.6L691.1 567.6L691.1 569.6L691.1 571.6L691.2 573.6L691.2 575.6L691.2 577.6L691.2 579.6L691.2 581.6L691.2 583.6L691.2 585.6L691.3 587.6L691.3 589.6L691.3 591.6L691.3 593.6L691.3 595.6L691.3 597.6L691.3 599.6L691.3 601.6L691.3 603.6L691.4 605.6L691.4 607.6L691.4 609.6L691.4 611.6L691.4 613.6L691.4 615.6L691.4 617.6L691.4 619.6L691.4 621.6L691.4 623.6L691.4 625.6L691.4 627.6L691.4 629.6L691.4 631.6L691.5 633.6L691.5 635.6L691.5 637.6L691.5 639.6L691.5 641.6L691.5 643.6L691.5 645.6L691.5 647.6L691.5 649.6L691.5 651.6L691.5 653.6L691.5 655.6L691.6 657.6L691.6 659.6L691.6 661.6L691.6 663.6L691.6 665.6L691.6 667.6L691.7 669.6L691.7 671.6L691.7 673.6L691.7 675.6L691.7 677.6L691.8 679.6L691.8 681.6L691.8 683.6L691.8 685.6L691.8 687.6L691.8 689.6L691.8 691.6L691.9 693.6L691.9 695.6L691.9 697.6L691.9 699.6L691.9 701.6L692.0 703.6L692.0 705.6L692.0 707.6L692.1 709.6L692.1 711.6L692.2 713.6L692.3 715.6L692.3 717.6L692.4 719.6L692.5 721.6L692.6 723.6L692.8 725.6L692.9 727.6L693.1 729.5L693.3 731.5L693.6 733.5L694.0 735.5L694.5 737.4L695.1 739.3L696.0 741.0L697.3 742.4L699.0 743.4L700.8 744.0L702.8 744.4L704.7 744.8L706.7 745.0L708.7 745.2L710.7 745.4L712.7 745.5L714.7 745.5L716.7 745.6L718.7 745.7L720.7 745.7L722.7 745.7L724.7 745.7L726.7 745.8L728.7 745.8L730.7 745.8L732.7 745.8L734.7 745.8L736.7 745.8L738.7 745.8L740.7 745.9L742.7 745.9L744.7 745.9L746.7 746.0L748.7 746.0L750.7 746.0L752.7 746.1L754.7 746.1L756.7 746.2L758.7 746.2L760.7 746.3L762.7 746.3L764.7 746.4L766.7 746.4L768.7 746.5L770.7 746.5L772.7 746.6L774.7 746.6L776.7 746.7L778.7 746.7L780.7 746.8L782.7 746.8L784.7 746.9L786.7 746.9L788.7 746.9L790.7 747.0L792.7 747.0L794.7 747.1L796.7 747.1L798.7 747.2L800.7 747.2L802.7 747.3L804.7 747.3L806.7 747.3L808.7 747.4L810.7 747.4L812.7 747.5L814.7 747.5L816.7 747.6L818.7 747.6L820.7 747.6L822.7 747.7L824.7 747.7L826.7 747.8L828.7 747.8L830.7 747.8L832.7 747.9L834.7 747.9L836.7 747.9L838.7 748.0L840.7 748.0L842.7 748.0L844.7 748.1L846.7 748.1L848.7 748.2L850.7 748.2L852.7 748.3L854.7 748.3L856.7 748.4L858.7 748.4L860.7 748.5L862.7 748.5L864.7 748.6L866.7 748.6L868.7 748.7L870.7 748.7L872.7 748.8L874.7 748.8L876.7 748.9L878.7 748.9L880.7 749.0L882.7 749.1L884.7 749.1L886.7 749.2L888.7 749.2L890.7 749.3L892.7 749.4L894.7 749.4L896.7 749.5L898.6 749.6L900.6 749.6L902.6 749.7L904.6 749.7L906.6 749.8L908.6 749.9L910.6 749.9L912.6 750.0L914.6 750.1L916.6 750.1L918.6 750.2L920.6 750.2L922.6 750.3L924.6 750.4L926.6 750.5L928.6 750.5L930.6 750.6L932.6 750.7L934.6 750.8L936.6 750.9L938.6 751.0L940.6 751.1L942.6 751.2L944.6 751.3L946.6 751.4L948.6 751.5L950.6 751.7L952.6 751.8L954.6 751.9L956.6 752.1L958.6 752.2L960.6 752.4L962.6 752.5L964.6 752.7L966.6 752.9L968.6 753.0L970.5 753.2L972.5 753.3L974.5 753.5L976.5 753.7L978.5 753.9L980.5 754.0L982.5 754.2L984.5 754.4L986.5 754.5L988.5 754.7L990.5 754.9L992.5 755.1L994.5 755.3L996.4 755.5L998.4 755.7L1000.4 755.9L1002.4 756.1L1004.4 756.3L1006.4 756.5L1008.4 756.7L1010.4 757.0L1012.3 757.2L1014.3 757.5L1016.3 757.8L1018.3 758.0L1020.3 758.3L1022.3 758.6L1024.2 758.9L1026.2 759.2L1028.2 759.4L1030.2 759.7L1032.2 760.0L1034.1 760.3L1036.1 760.5L1038.1 760.8L1040.1 761.0L1042.1 761.3L1044.1 761.5L1046.0 761.8L1048.0 762.0L1050.0 762.3L1052.0 762.5L1054.0 762.7L1056.0 763.0L1058.0 763.2L1059.9 763.4L1061.9 763.6L1063.9 763.8L1065.9 764.0L1067.9 764.1L1069.9 764.3L1071.9 764.5L1073.9 764.6L1075.9 764.8L1077.9 764.9L1079.9 765.1L1081.9 765.2L1083.9 765.3L1085.9 765.4L1087.9 765.5L1089.9 765.6L1091.9 765.7L1093.9 765.8L1095.9 765.8L1097.9 765.9L1099.9 766.0L1101.9 766.0L1103.9 766.1L1105.9 766.1L1107.9 766.1L1109.9 766.2L1111.9 766.2L1113.9 766.2L1115.9 766.2L1117.9 766.3L1119.9 766.3L1121.9 766.3L1123.9 766.3L1125.9 766.4L1127.8 766.4L1129.8 766.4L1131.8 766.4L1133.8 766.5L1135.8 766.5L1137.8 766.5L1139.8 766.6L1141.8 766.6L1143.8 766.6L1145.8 766.6L1147.8 766.7L1149.8 766.7L1151.8 766.7L1153.8 766.8L1155.8 766.8L1157.8 766.8L1159.8 766.8L1161.8 766.9L1163.8 766.9L1165.8 766.9L1167.8 766.9L1169.8 767.0L1171.8 767.0L1173.8 767.0L1175.8 767.0L1177.8 767.1L1179.8 767.1L1181.8 767.1L1183.8 767.1L1185.8 767.2L1187.8 767.2L1189.8 767.2L1191.8 767.2L1193.8 767.3L1195.8 767.3L1196.0 767.3" fill="none" stroke="#28A7DB" stroke-width="5.6" stroke-linejoin="round"/>
</g>
<line x1="354.8" y1="48.2" x2="354.8" y2="763" stroke="#FF80FF" stroke-width="5.6" stroke-dasharray="9.6 25.7"/>
<line x1="647.5" y1="48.2" x2="647.5" y2="763" stroke="#FF80FF" stroke-width="5.6" stroke-dasharray="9.6 25.7"/>
<line x1="899.7" y1="48.2" x2="899.7" y2="763" stroke="#FF80FF" stroke-width="5.6" stroke-dasharray="9.6 25.7"/>
<text class="se" x="513.0" y="949.7" font-size="45">Temperature(<tspan font-size="52" dx="-1.35" dy="3.3">°</tspan><tspan dx="-3.55" dy="-3.3">C</tspan><tspan dx="-1">)</tspan></text>
<text class="se" transform="translate(55.9 513.6) rotate(-90)" font-size="46.5" textLength="156.2" lengthAdjust="spacing">Mass/%</text>
<text class="se" x="10.0" y="99.5" font-size="67">(a)</text>
<text class="se" x="505.5" y="363.6" font-size="45.5" text-anchor="middle">I</text>
<text class="se" x="768.0" y="360.8" font-size="42.3" text-anchor="middle">II</text>
<text class="se" x="1026.4" y="360.8" font-size="42.3" text-anchor="middle">III</text>
<line x1="190.8" y1="496.3" x2="273.3" y2="496.3" stroke="#FFAE5F" stroke-width="5.6" stroke-linecap="round"/>
<text class="se" x="285.6" y="511.0" font-size="45">AP/HTPB</text>
<line x1="190.8" y1="551.7" x2="273.3" y2="551.7" stroke="#FC351E" stroke-width="5.6" stroke-linecap="round"/>
<text class="se" x="285.6" y="567.0" font-size="45">MOF-235/AP/HTPB</text>
<line x1="190.8" y1="607.7" x2="273.3" y2="607.7" stroke="#28A7DB" stroke-width="5.6" stroke-linecap="round"/>
<text class="se" x="285.6" y="622.3" font-size="45">Fe-MOF/AP/HTPB</text>
</g>
<g id="pb">
<rect x="162.9" y="976.0" width="1032.7" height="829.5" fill="none" stroke="#000" stroke-width="5.5"/>
<line x1="302.1" y1="1805.5" x2="302.1" y2="1820.8" stroke="#000" stroke-width="5.5"/>
<line x1="581.3" y1="1805.5" x2="581.3" y2="1820.8" stroke="#000" stroke-width="5.5"/>
<line x1="860.5" y1="1805.5" x2="860.5" y2="1820.8" stroke="#000" stroke-width="5.5"/>
<line x1="1139.7" y1="1805.5" x2="1139.7" y2="1820.8" stroke="#000" stroke-width="5.5"/>
<line x1="441.7" y1="1805.5" x2="441.7" y2="1813.0" stroke="#000" stroke-width="5.5"/>
<line x1="720.9" y1="1805.5" x2="720.9" y2="1813.0" stroke="#000" stroke-width="5.5"/>
<line x1="1000.1" y1="1805.5" x2="1000.1" y2="1813.0" stroke="#000" stroke-width="5.5"/>
<text class="sa" transform="translate(302.1 1861.6) scale(0.955 1)" font-size="38.7" text-anchor="middle">200</text>
<text class="sa" transform="translate(581.3 1861.6) scale(0.955 1)" font-size="38.7" text-anchor="middle">300</text>
<text class="sa" transform="translate(860.5 1861.6) scale(0.955 1)" font-size="38.7" text-anchor="middle">400</text>
<text class="sa" transform="translate(1139.7 1861.6) scale(0.955 1)" font-size="38.7" text-anchor="middle">500</text>
<line x1="162.7" y1="1805.5" x2="162.7" y2="1813.0" stroke="#000" stroke-width="5.5"/>
<clipPath id="cb"><rect x="162.9" y="976.0" width="1032.6999999999998" height="829.5"/></clipPath>
<g clip-path="url(#cb)">
<path d="M163.9 1045.4L164.9 1045.7L165.9 1046.0L166.9 1046.1L167.9 1046.5L168.9 1046.0L169.9 1046.4L170.9 1044.3L171.9 1045.4L172.9 1046.5L173.9 1045.8L174.9 1046.4L175.9 1044.5L176.9 1045.4L177.9 1044.9L178.9 1045.6L179.9 1045.7L180.9 1044.3L181.9 1044.8L182.9 1045.0L183.9 1046.5L184.9 1046.2L185.9 1044.7L186.9 1046.2L187.9 1044.7L188.9 1045.8L189.9 1044.6L190.9 1044.4L191.9 1046.4L192.9 1044.9L193.9 1044.9L194.9 1046.7L195.9 1046.5L196.9 1045.1L197.9 1046.7L198.9 1045.7L199.9 1046.0L200.9 1044.9L201.9 1046.7L202.9 1046.1L203.9 1046.7L204.9 1046.6L205.9 1045.1L206.9 1045.3L207.9 1044.8L208.9 1044.8L209.9 1044.6L210.9 1045.2L211.9 1045.9L212.9 1044.5L213.9 1046.1L214.9 1045.3L215.9 1045.2L216.9 1046.4L217.9 1045.6L218.9 1045.2L219.9 1045.7L220.9 1046.2L221.9 1044.6L222.9 1046.9L223.9 1044.6L224.9 1046.3L225.9 1046.6L226.9 1044.6L227.9 1046.4L228.9 1045.4L229.9 1045.9L230.9 1044.6L231.9 1044.7L232.9 1045.0L233.9 1046.9L234.9 1045.1L235.9 1046.4L236.9 1046.8L237.9 1046.9L238.9 1045.4L239.9 1045.5L240.9 1045.9L241.9 1046.5L242.9 1044.9L243.9 1046.4L244.9 1046.6L245.9 1046.7L246.9 1044.7L247.9 1046.9L248.9 1044.9L249.9 1045.5L250.9 1046.2L251.9 1046.9L252.9 1045.5L253.9 1046.9L254.9 1046.0L255.9 1045.5L256.9 1045.5L257.9 1045.2L258.9 1044.9L259.9 1045.1L260.9 1046.4L261.9 1047.2L262.9 1045.2L263.9 1044.9L264.9 1047.2L265.9 1046.1L266.9 1045.8L267.9 1045.4L268.9 1046.2L269.9 1046.8L270.9 1045.9L271.9 1045.9L272.9 1045.0L273.9 1047.1L274.9 1045.0L275.9 1046.1L276.9 1046.9L277.9 1045.2L278.9 1046.7L279.9 1047.2L280.9 1046.4L281.9 1046.8L282.9 1045.2L283.9 1046.0L284.9 1045.3L285.9 1047.0L286.9 1045.7L287.9 1046.1L288.9 1047.4L289.9 1047.0L290.9 1047.3L291.9 1046.1L292.9 1046.2L293.9 1046.8L294.9 1046.2L295.9 1045.7L296.9 1046.0L297.9 1045.4L298.9 1046.0L299.9 1047.4L300.9 1047.4L301.9 1046.6L302.9 1046.3L303.9 1045.9L304.9 1045.3L305.9 1045.8L306.9 1047.0L307.9 1047.2L308.9 1046.0L309.9 1047.0L310.9 1047.0L311.9 1046.8L312.9 1046.8L313.9 1047.0L314.9 1046.1L315.9 1046.9L316.9 1045.9L317.9 1046.4L318.9 1047.1L319.9 1046.9L320.9 1046.0L321.9 1047.5L322.9 1046.8L323.9 1046.7L324.9 1045.3L325.9 1046.6L326.9 1045.9L327.9 1046.9L328.9 1046.4L329.9 1047.3L330.9 1046.9L331.9 1047.3L332.9 1046.2L333.9 1046.9L334.9 1047.2L335.9 1047.4L336.9 1046.3L337.9 1047.5L338.9 1047.5L339.9 1047.1L340.9 1047.8L341.9 1047.8L342.9 1046.8L343.9 1046.8L344.9 1045.9L345.9 1047.6L346.9 1047.8L347.9 1046.7L348.9 1047.3L349.9 1047.4L350.9 1047.4L351.9 1046.1L352.9 1047.6L353.9 1047.1L354.9 1047.3L355.9 1046.8L356.9 1047.3L357.9 1047.6L358.9 1047.3L359.9 1047.6L360.9 1045.9L361.9 1046.3L362.9 1047.0L363.9 1047.5L364.9 1046.5L365.9 1047.6L366.9 1047.5L367.9 1046.1L368.9 1047.2L369.9 1046.6L370.9 1046.2L371.9 1046.4L372.9 1046.9L373.9 1046.6L374.9 1046.7L375.9 1046.3L376.9 1047.4L377.9 1047.2L378.9 1047.8L379.9 1047.8L380.9 1046.9L381.9 1048.6L382.9 1046.4L383.9 1047.4L384.9 1047.2L385.9 1047.5L386.9 1046.9L387.9 1048.6L388.9 1047.5L389.9 1046.8L390.9 1048.2L391.9 1047.0L392.9 1048.1L393.9 1047.6L394.9 1048.3L395.9 1049.2L396.9 1048.9L397.9 1048.0L398.9 1049.0L399.9 1048.6L400.9 1048.0L401.9 1047.5L402.9 1048.6L403.9 1048.6L404.9 1049.6L405.9 1049.7L406.9 1048.8L407.9 1048.3L408.9 1049.6L409.9 1047.5L410.9 1047.8L411.9 1049.0L412.9 1049.2L413.9 1048.1L414.9 1049.3L415.9 1050.0L416.9 1048.8L417.8 1049.0L418.8 1048.6L419.8 1048.8L420.8 1050.5L421.8 1049.1L422.8 1050.6L423.8 1050.5L424.8 1049.8L425.8 1049.1L426.8 1050.8L427.8 1049.7L428.8 1049.6L429.8 1049.4L430.8 1051.1L431.8 1050.0L432.8 1049.5L433.8 1050.1L434.8 1049.3L435.8 1050.5L436.8 1050.2L437.8 1049.9L438.8 1051.1L439.8 1051.3L440.8 1049.4L441.8 1050.7L442.8 1050.2L443.8 1051.8L444.8 1051.5L445.8 1050.3L446.8 1050.4L447.8 1050.2L448.8 1052.3L449.8 1050.7L450.8 1051.6L451.8 1051.3L452.8 1051.8L453.8 1051.8L454.8 1052.2L455.8 1050.7L456.8 1052.4L457.8 1051.3L458.8 1051.9L459.8 1051.5L460.8 1051.4L461.8 1052.0L462.8 1051.9L463.8 1051.7L464.8 1052.6L465.8 1052.2L466.8 1050.9L467.8 1051.4L468.8 1051.8L469.8 1052.9L470.8 1052.8L471.8 1051.9L472.8 1050.6L473.8 1052.3L474.7 1051.5L475.7 1051.8L476.7 1052.1L477.7 1051.8L478.7 1051.5L479.7 1052.5L480.7 1051.2L481.7 1051.3L482.7 1052.4L483.7 1050.8L484.7 1051.1L485.7 1052.4L486.7 1050.6L487.7 1052.5L488.7 1052.3L489.7 1051.7L490.7 1051.4L491.7 1052.6L492.7 1053.0L493.7 1051.3L494.7 1052.1L495.7 1052.4L496.7 1052.4L497.7 1052.1L498.7 1051.7L499.7 1052.9L500.7 1053.5L501.7 1051.9L502.7 1052.4L503.7 1053.9L504.7 1053.9L505.7 1053.7L506.7 1052.3L507.7 1054.1L508.6 1054.8L509.6 1055.0L510.6 1054.4L511.6 1052.9L512.6 1055.0L513.6 1053.7L514.6 1054.9L515.5 1055.9L516.5 1055.7L517.4 1055.1L518.3 1055.6L519.2 1056.8L520.1 1056.4L521.0 1057.5L521.8 1057.8L522.6 1058.0L523.4 1059.2L524.2 1059.1L524.9 1059.9L525.6 1060.9L526.4 1061.7L527.0 1062.5L527.7 1063.2L528.4 1064.0L529.0 1064.8L529.6 1065.6L530.2 1066.4L530.7 1067.2L531.2 1068.1L531.7 1068.9L532.2 1069.8L532.6 1070.7L533.0 1071.6L533.4 1072.6L533.7 1073.5L534.1 1074.4L534.4 1075.4L534.8 1076.3L535.1 1077.3L535.4 1078.2L535.7 1079.2L536.0 1080.1L536.3 1081.1L536.7 1082.0L537.0 1082.9L537.3 1083.9L537.6 1084.8L538.0 1085.8L538.4 1086.7L538.7 1087.6L539.1 1088.6L539.5 1089.5L539.9 1090.4L540.2 1091.3L540.6 1092.3L541.0 1093.2L541.4 1094.1L541.7 1095.0L542.1 1096.0L542.4 1096.9L542.8 1097.9L543.1 1098.8L543.4 1099.7L543.8 1100.7L544.1 1101.6L544.4 1102.6L544.7 1103.6L544.9 1104.5L545.2 1105.5L545.5 1106.4L545.7 1107.4L545.9 1108.4L546.2 1109.4L546.4 1110.3L546.6 1111.3L546.9 1112.3L547.1 1113.2L547.3 1114.2L547.5 1115.2L547.7 1116.2L548.0 1117.2L548.2 1118.1L548.4 1119.1L548.6 1120.1L548.9 1121.0L549.1 1122.0L549.3 1123.0L549.6 1124.0L549.8 1124.9L550.1 1125.9L550.3 1126.9L550.6 1127.8L550.9 1128.8L551.2 1129.7L551.5 1130.7L551.7 1131.7L552.0 1132.6L552.3 1133.6L552.6 1134.5L552.9 1135.5L553.2 1136.4L553.5 1137.4L553.8 1138.3L554.2 1139.3L554.5 1140.2L554.8 1141.2L555.2 1142.1L555.5 1143.0L555.9 1144.0L556.3 1144.9L556.8 1145.8L557.2 1146.7L557.7 1147.5L558.2 1148.4L558.8 1149.2L559.4 1150.0L560.0 1150.8L560.6 1151.6L561.3 1151.8L562.0 1153.5L562.8 1153.5L563.6 1154.7L564.5 1154.9L565.4 1155.1L566.4 1154.5L567.3 1155.4L568.2 1153.5L569.0 1153.6L569.8 1152.5L570.5 1152.3L571.2 1151.4L571.9 1150.7L572.5 1149.9L573.0 1149.1L573.5 1148.2L574.0 1147.3L574.4 1146.4L574.9 1145.5L575.3 1144.6L575.6 1143.7L576.0 1142.7L576.3 1141.8L576.6 1140.8L576.8 1139.9L577.1 1138.9L577.3 1137.9L577.6 1136.9L577.8 1136.0L578.0 1135.0L578.2 1134.0L578.4 1133.0L578.6 1132.0L578.8 1131.1L579.0 1130.1L579.2 1129.1L579.5 1128.1L579.7 1127.2L579.9 1126.2L580.2 1125.2L580.5 1124.3L580.7 1123.3L581.0 1122.3L581.2 1121.4L581.5 1120.4L581.8 1119.4L582.0 1118.5L582.3 1117.5L582.6 1116.6L582.9 1115.6L583.2 1114.6L583.4 1113.7L583.7 1112.7L584.1 1111.8L584.4 1110.8L584.7 1109.9L585.1 1109.0L585.5 1108.0L585.8 1107.1L586.2 1106.2L586.7 1105.3L587.1 1104.4L587.6 1103.5L588.0 1102.6L588.5 1101.7L589.0 1100.9L589.5 1100.0L590.0 1099.2L590.6 1098.3L591.2 1097.5L591.8 1096.7L592.4 1095.9L593.0 1095.1L593.7 1094.4L594.3 1093.6L595.0 1092.9L595.7 1092.7L596.4 1091.3L597.2 1090.8L597.9 1090.6L598.7 1089.2L599.5 1088.5L600.3 1088.1L601.1 1087.3L601.9 1087.5L602.8 1087.0L603.6 1085.9L604.5 1085.1L605.3 1084.6L606.2 1084.3L607.1 1083.6L608.0 1083.6L608.9 1083.3L609.8 1082.5L610.7 1081.9L611.6 1082.3L612.6 1081.1L613.5 1080.6L614.4 1080.5L615.4 1080.4L616.4 1079.5L617.3 1080.0L618.3 1079.5L619.3 1080.4L620.3 1079.7L621.2 1080.4L622.2 1079.6L623.2 1079.7L624.2 1079.2L625.2 1078.7L626.2 1079.5L627.2 1078.9L628.2 1079.5L629.2 1078.8L630.2 1078.7L631.1 1077.5L632.1 1078.7L633.1 1077.6L634.1 1076.8L635.1 1076.6L636.1 1076.8L637.1 1076.9L638.1 1077.8L639.1 1076.8L640.1 1076.3L641.1 1077.9L642.1 1077.4L643.1 1076.1L644.1 1076.1L645.1 1076.3L646.1 1076.9L647.1 1078.1L648.1 1078.4L649.1 1077.6L650.1 1076.8L651.1 1077.3L652.1 1077.3L653.1 1077.3L654.1 1076.6L655.1 1078.1L656.1 1078.8L657.1 1078.7L658.1 1077.3L659.1 1078.4L660.1 1077.7L661.0 1079.1L662.0 1078.6L663.0 1080.0L664.0 1079.7L665.0 1078.3L666.0 1078.9L667.0 1080.5L668.0 1079.6L669.0 1079.6L669.9 1079.8L670.9 1080.8L671.9 1081.4L672.9 1080.6L673.9 1081.8L674.8 1081.1L675.8 1080.2L676.8 1082.1L677.8 1081.4L678.7 1080.8L679.7 1083.2L680.7 1081.2L681.6 1082.8L682.6 1082.9L683.5 1084.1L684.5 1083.2L685.5 1083.1L686.4 1083.6L687.3 1084.1L688.3 1084.9L689.2 1085.0L690.2 1085.8L691.1 1085.6L692.0 1086.0L692.9 1086.3L693.9 1087.6L694.8 1087.8L695.7 1088.2L696.6 1088.3L697.5 1088.5L698.5 1088.6L699.4 1089.8L700.3 1089.8L701.2 1089.7L702.1 1090.3L703.0 1090.7L703.8 1091.9L704.7 1092.6L705.6 1092.2L706.5 1093.4L707.4 1093.3L708.2 1094.2L709.1 1094.9L710.0 1095.1L710.8 1095.9L711.7 1095.9L712.6 1095.9L713.4 1097.1L714.3 1097.7L715.1 1097.7L716.0 1098.5L716.8 1098.9L717.6 1099.1L718.5 1100.0L719.3 1100.6L720.2 1101.3L721.0 1102.1L721.8 1102.3L722.6 1103.6L723.5 1104.0L724.3 1104.7L725.1 1105.0L725.9 1105.5L726.7 1105.9L727.6 1106.8L728.4 1106.9L729.2 1107.8L730.0 1108.5L730.8 1108.9L731.5 1109.2L732.3 1109.6L733.1 1110.2L733.9 1111.2L734.7 1112.1L735.4 1113.0L736.2 1113.6L736.9 1113.7L737.7 1115.2L738.4 1115.1L739.1 1116.3L739.8 1116.2L740.5 1117.4L741.2 1118.1L741.9 1118.9L742.6 1119.6L743.3 1120.3L744.0 1121.1L744.6 1121.8L745.3 1122.6L745.9 1123.3L746.6 1124.1L747.2 1124.8L747.9 1125.6L748.5 1126.4L749.1 1127.2L749.8 1127.9L750.4 1128.7L751.0 1129.5L751.6 1130.3L752.2 1131.1L752.8 1131.9L753.4 1132.7L754.0 1133.5L754.6 1134.3L755.2 1135.1L755.8 1135.9L756.4 1136.7L757.0 1137.5L757.5 1138.4L758.1 1139.2L758.7 1140.0L759.2 1140.8L759.8 1141.6L760.4 1142.5L760.9 1143.3L761.5 1144.1L762.1 1144.9L762.6 1145.8L763.2 1146.6L763.8 1147.4L764.3 1148.2L764.9 1149.1L765.5 1149.9L766.1 1150.7L766.6 1151.5L767.2 1152.3L767.8 1153.2L768.3 1154.0L768.9 1154.8L769.4 1155.6L770.0 1156.5L770.6 1157.3L771.1 1158.1L771.7 1159.0L772.2 1159.8L772.8 1160.6L773.4 1161.4L773.9 1162.3L774.5 1163.1L775.1 1163.9L775.6 1164.7L776.2 1165.6L776.8 1166.4L777.4 1167.2L778.0 1168.0L778.6 1168.8L779.2 1169.6L779.8 1170.4L780.4 1171.1L781.0 1171.9L781.7 1172.7L782.3 1173.5L782.9 1174.3L783.6 1175.0L784.2 1175.8L784.9 1176.5L785.5 1177.3L786.2 1178.0L786.9 1178.7L787.6 1179.0L788.4 1180.3L789.1 1180.3L789.9 1181.7L790.6 1182.3L791.5 1183.0L792.3 1183.5L793.2 1183.9L794.1 1184.6L795.0 1185.5L796.0 1184.9L797.0 1185.9L797.9 1183.9L798.9 1183.8L799.9 1183.6L800.9 1183.7L801.8 1184.0L802.7 1183.7L803.6 1183.5L804.4 1183.0L805.2 1181.6L805.9 1181.4L806.5 1180.6L807.1 1179.8L807.7 1179.0L808.2 1178.1L808.7 1177.3L809.1 1176.4L809.6 1175.5L810.0 1174.6L810.4 1173.7L810.8 1172.7L811.2 1171.8L811.6 1170.9L812.0 1170.0L812.4 1169.1L812.8 1168.2L813.2 1167.2L813.6 1166.3L814.0 1165.4L814.3 1164.5L814.7 1163.5L815.0 1162.6L815.4 1161.7L815.7 1160.7L816.1 1159.8L816.4 1158.8L816.7 1157.9L817.1 1156.9L817.4 1156.0L817.7 1155.0L818.0 1154.1L818.3 1153.2L818.7 1152.2L819.0 1151.3L819.3 1150.3L819.6 1149.4L819.9 1148.4L820.2 1147.5L820.6 1146.5L820.9 1145.6L821.2 1144.6L821.5 1143.7L821.8 1142.7L822.2 1141.8L822.5 1140.8L822.8 1139.9L823.1 1138.9L823.4 1138.0L823.8 1137.0L824.1 1136.1L824.4 1135.1L824.7 1134.2L825.1 1133.2L825.4 1132.3L825.7 1131.4L826.0 1130.4L826.3 1129.5L826.6 1128.5L827.0 1127.6L827.3 1126.6L827.6 1125.7L827.9 1124.7L828.2 1123.8L828.5 1122.8L828.8 1121.9L829.1 1120.9L829.5 1120.0L829.8 1119.0L830.1 1118.1L830.4 1117.1L830.7 1116.2L831.0 1115.2L831.3 1114.2L831.6 1113.3L831.9 1112.3L832.2 1111.4L832.4 1110.4L832.7 1109.5L833.0 1108.5L833.3 1107.5L833.6 1106.6L833.9 1105.6L834.1 1104.7L834.4 1103.7L834.7 1102.7L835.0 1101.8L835.3 1100.8L835.5 1099.9L835.8 1098.9L836.1 1097.9L836.4 1097.0L836.7 1096.0L837.0 1095.1L837.3 1094.1L837.6 1093.2L837.9 1092.2L838.2 1091.3L838.5 1090.3L838.9 1089.4L839.2 1088.4L839.5 1087.5L839.9 1086.6L840.2 1085.6L840.5 1084.7L840.9 1083.7L841.2 1082.8L841.6 1081.8L841.9 1080.9L842.3 1080.0L842.6 1079.0L843.0 1078.1L843.3 1077.2L843.7 1076.2L844.0 1075.3L844.4 1074.4L844.8 1073.5L845.2 1072.5L845.6 1071.6L846.0 1070.7L846.4 1069.8L846.8 1068.9L847.2 1068.0L847.7 1067.1L848.1 1066.2L848.6 1065.3L849.1 1064.4L849.6 1063.6L850.1 1062.7L850.7 1061.9L851.2 1061.1L851.8 1060.2L852.4 1059.4L853.0 1058.6L853.6 1057.8L854.2 1057.1L854.9 1056.3L855.5 1055.5L856.2 1054.8L856.9 1054.1L857.6 1053.3L858.3 1053.0L859.0 1051.4L859.8 1051.3L860.5 1050.1L861.4 1050.0L862.3 1049.5L863.2 1048.8L864.1 1048.6L865.1 1048.7L866.1 1049.0L867.1 1049.5L868.1 1048.1L869.1 1048.3L870.0 1048.6L871.0 1048.9L872.0 1048.8L873.0 1048.7L874.0 1046.9L875.0 1046.4L875.9 1048.1L876.9 1045.9L877.9 1046.6L878.9 1047.2L879.9 1046.6L880.9 1046.2L881.9 1047.4L882.9 1045.8L883.9 1046.4L884.9 1047.0L885.9 1045.3L886.9 1045.8L887.9 1046.1L888.9 1046.3L889.9 1045.4L890.9 1046.0L891.9 1045.0L892.9 1045.1L893.9 1045.7L894.9 1045.2L895.9 1047.2L896.9 1045.4L897.9 1045.5L898.9 1046.7L899.9 1046.5L900.9 1045.3L901.9 1046.7L902.9 1046.1L903.9 1045.5L904.9 1046.0L905.9 1045.0L906.9 1044.9L907.9 1046.3L908.9 1045.1L909.9 1046.1L910.8 1044.2L911.8 1043.9L912.8 1043.5L913.8 1045.0L914.8 1044.4L915.8 1042.9L916.7 1042.8L917.7 1044.5L918.7 1043.5L919.7 1044.3L920.7 1042.2L921.7 1043.5L922.7 1042.3L923.7 1043.8L924.7 1043.6L925.7 1043.7L926.6 1043.0L927.6 1045.0L928.6 1043.3L929.5 1044.1L930.4 1045.2L931.3 1044.9L932.2 1045.4L933.0 1046.3L933.9 1047.1L934.7 1047.9L935.6 1048.3L936.4 1048.1L937.2 1049.4L937.9 1050.2L938.7 1050.0L939.5 1051.5L940.2 1051.6L940.9 1052.6L941.6 1053.3L942.2 1054.0L942.9 1054.8L943.6 1055.5L944.2 1056.3L944.9 1057.0L945.5 1057.8L946.2 1058.5L946.8 1059.3L947.4 1060.1L948.0 1060.9L948.5 1061.8L949.1 1062.6L949.6 1063.5L950.1 1064.3L950.5 1065.2L951.0 1066.1L951.4 1067.0L951.9 1067.9L952.3 1068.8L952.7 1069.7L953.1 1070.6L953.5 1071.6L953.9 1072.5L954.3 1073.4L954.7 1074.3L955.1 1075.2L955.5 1076.2L955.9 1077.1L956.3 1078.0L956.7 1078.9L957.1 1079.8L957.5 1080.7L957.9 1081.7L958.3 1082.6L958.7 1083.5L959.1 1084.4L959.5 1085.3L959.9 1086.2L960.3 1087.2L960.7 1088.1L961.1 1089.0L961.5 1089.9L961.9 1090.8L962.3 1091.7L962.7 1092.7L963.1 1093.6L963.5 1094.5L963.8 1095.4L964.2 1096.3L964.6 1097.3L965.0 1098.2L965.4 1099.1L965.8 1100.0L966.2 1100.9L966.6 1101.9L967.0 1102.8L967.3 1103.7L967.7 1104.6L968.1 1105.6L968.5 1106.5L968.8 1107.4L969.2 1108.4L969.6 1109.3L969.9 1110.2L970.3 1111.1L970.6 1112.1L971.0 1113.0L971.4 1114.0L971.7 1114.9L972.1 1115.8L972.4 1116.8L972.8 1117.7L973.1 1118.6L973.5 1119.6L973.9 1120.5L974.2 1121.4L974.6 1122.3L975.0 1123.3L975.4 1124.2L975.7 1125.1L976.1 1126.0L976.5 1127.0L976.9 1127.9L977.3 1128.8L977.7 1129.7L978.1 1130.6L978.5 1131.6L978.9 1132.5L979.3 1133.4L979.7 1134.3L980.1 1135.2L980.5 1136.1L980.9 1137.1L981.3 1138.0L981.7 1138.9L982.1 1139.8L982.6 1140.7L983.0 1141.6L983.5 1142.5L983.9 1143.4L984.4 1144.3L984.8 1145.1L985.3 1146.0L985.8 1146.9L986.3 1147.8L986.8 1148.6L987.3 1149.5L987.8 1150.4L988.3 1151.2L988.8 1152.1L989.4 1152.9L989.9 1153.7L990.5 1154.5L991.1 1155.3L991.8 1156.1L992.5 1156.4L993.3 1157.6L994.1 1158.3L994.9 1158.1L995.8 1159.6L996.7 1159.0L997.6 1159.4L998.5 1159.1L999.5 1160.3L1000.5 1160.9L1001.5 1161.6L1002.5 1160.0L1003.5 1161.3L1004.4 1159.8L1005.4 1160.8L1006.4 1159.8L1007.4 1159.8L1008.3 1158.8L1009.3 1160.1L1010.2 1158.8L1011.2 1159.2L1012.1 1158.3L1013.0 1158.2L1013.9 1157.8L1014.8 1157.2L1015.6 1157.1L1016.5 1156.6L1017.3 1155.3L1018.1 1154.8L1018.9 1154.9L1019.7 1153.5L1020.6 1153.3L1021.6 1153.1L1022.5 1154.3L1023.5 1152.4L1024.4 1153.9L1025.4 1154.5L1026.3 1154.5L1027.2 1154.1L1028.1 1155.6L1029.0 1155.0L1030.0 1156.6L1031.0 1156.3L1031.9 1155.8L1032.9 1156.9L1033.9 1156.4L1034.9 1155.5L1035.9 1156.3L1036.9 1155.6L1037.9 1155.9L1038.8 1155.4L1039.8 1155.6L1040.8 1153.9L1041.8 1154.4L1042.7 1153.0L1043.7 1154.6L1044.6 1154.3L1045.6 1154.2L1046.6 1152.0L1047.5 1152.9L1048.5 1152.5L1049.5 1151.3L1050.4 1151.6L1051.3 1152.2L1052.3 1151.6L1053.2 1150.5L1054.1 1150.7L1054.9 1150.0L1055.8 1149.2L1056.6 1148.9L1057.3 1147.8L1058.1 1147.1L1058.8 1146.1L1059.5 1146.0L1060.2 1145.3L1060.8 1144.5L1061.5 1143.8L1062.1 1143.0L1062.7 1142.2L1063.4 1141.4L1064.0 1140.6L1064.5 1139.8L1065.1 1139.0L1065.7 1138.2L1066.2 1137.3L1066.8 1136.5L1067.3 1135.7L1067.9 1134.8L1068.4 1134.0L1068.9 1133.1L1069.4 1132.3L1070.0 1131.4L1070.5 1130.6L1071.0 1129.7L1071.5 1128.8L1072.0 1128.0L1072.5 1127.1L1073.0 1126.3L1073.5 1125.4L1074.0 1124.5L1074.5 1123.7L1075.1 1122.8L1075.6 1121.9L1076.1 1121.1L1076.6 1120.2L1077.0 1119.3L1077.5 1118.5L1078.0 1117.6L1078.5 1116.7L1079.0 1115.8L1079.5 1115.0L1079.9 1114.1L1080.4 1113.2L1080.9 1112.3L1081.4 1111.4L1081.8 1110.6L1082.3 1109.7L1082.7 1108.8L1083.2 1107.9L1083.6 1107.0L1084.0 1106.1L1084.5 1105.2L1084.9 1104.3L1085.3 1103.4L1085.8 1102.5L1086.2 1101.6L1086.6 1100.7L1087.1 1099.8L1087.5 1098.9L1088.0 1098.0L1088.4 1097.1L1088.9 1096.2L1089.3 1095.3L1089.8 1094.4L1090.3 1093.5L1090.8 1092.7L1091.3 1091.8L1091.8 1090.9L1092.3 1090.1L1092.8 1089.2L1093.3 1088.4L1093.8 1087.5L1094.3 1086.7L1094.9 1085.8L1095.4 1084.9L1095.9 1084.1L1096.4 1083.3L1097.0 1082.4L1097.5 1081.6L1098.0 1080.7L1098.6 1079.9L1099.1 1079.0L1099.7 1078.2L1100.2 1077.3L1100.7 1076.5L1101.3 1075.7L1101.8 1074.8L1102.4 1074.0L1102.9 1073.1L1103.4 1072.3L1104.0 1071.5L1104.6 1070.6L1105.1 1069.8L1105.7 1069.0L1106.2 1068.1L1106.8 1067.3L1107.4 1066.5L1108.0 1065.7L1108.6 1064.9L1109.2 1064.1L1109.7 1063.3L1110.3 1062.5L1110.9 1061.7L1111.5 1060.9L1112.1 1060.1L1112.7 1059.3L1113.4 1058.5L1114.0 1057.7L1114.7 1057.0L1115.4 1056.8L1116.2 1055.8L1116.9 1055.1L1117.7 1054.0L1118.6 1053.8L1119.4 1053.3L1120.3 1053.3L1121.2 1052.1L1122.1 1051.8L1123.0 1052.0L1124.0 1050.8L1124.9 1051.0L1125.8 1050.2L1126.8 1050.4L1127.7 1050.1L1128.7 1048.6L1129.6 1049.9L1130.6 1048.8L1131.5 1048.3L1132.5 1049.4L1133.5 1049.0L1134.5 1047.6L1135.4 1048.3L1136.4 1046.8L1137.4 1047.6L1138.4 1046.3L1139.4 1047.5L1140.4 1048.1L1141.4 1047.3L1142.4 1045.7L1143.4 1046.7L1144.3 1046.5L1145.3 1046.4L1146.3 1045.6L1147.3 1045.9L1148.3 1046.2L1149.3 1045.2L1150.3 1046.6L1151.3 1045.5L1152.3 1045.6L1153.3 1045.1L1154.3 1045.5L1155.3 1047.0L1156.3 1045.4L1157.3 1044.9L1158.3 1045.5L1159.3 1046.9L1160.3 1044.8L1161.3 1045.4L1162.3 1045.0L1163.3 1046.2L1164.3 1045.6L1165.3 1044.7L1166.3 1046.5L1167.3 1045.2L1168.3 1046.1L1169.3 1045.5L1170.3 1046.5L1171.3 1044.6L1172.3 1045.0L1173.3 1045.1L1174.3 1045.1L1175.3 1046.4L1176.3 1045.7L1177.3 1045.3L1178.3 1045.7L1179.3 1046.6L1180.3 1045.9L1181.3 1045.7L1182.3 1046.2L1183.3 1046.1L1184.3 1045.6L1185.3 1045.7L1186.3 1045.0L1187.3 1045.7L1188.3 1046.8L1189.3 1045.5L1190.3 1045.6L1191.3 1046.2L1192.3 1046.2L1193.3 1045.2L1193.8 1046.0" fill="none" stroke="#FD8E2A" stroke-width="5.8" stroke-linejoin="round" stroke-dasharray="9 17.7" stroke-linecap="round"/>
<path d="M163.9 1046.0L164.9 1046.3L165.9 1046.6L166.9 1046.7L167.9 1047.1L168.9 1046.6L169.9 1047.1L170.9 1044.9L171.9 1046.0L172.9 1047.1L173.9 1046.5L174.9 1047.1L175.9 1045.2L176.9 1046.0L177.9 1045.5L178.9 1046.2L179.9 1046.3L180.9 1045.0L181.9 1045.5L182.9 1045.6L183.9 1047.2L184.9 1046.8L185.9 1045.4L186.9 1046.9L187.9 1045.4L188.9 1046.5L189.9 1045.3L190.9 1045.1L191.9 1047.1L192.9 1045.6L193.9 1045.6L194.9 1047.4L195.9 1047.2L196.9 1045.8L197.9 1047.4L198.9 1046.4L199.9 1046.8L200.9 1045.6L201.9 1047.4L202.9 1046.8L203.9 1047.5L204.9 1047.3L205.9 1045.9L206.9 1046.1L207.9 1045.6L208.9 1045.6L209.9 1045.4L210.9 1045.9L211.9 1046.7L212.9 1045.3L213.9 1046.9L214.9 1046.1L215.9 1046.0L216.9 1047.2L217.9 1046.4L218.9 1046.1L219.9 1046.5L220.9 1047.0L221.9 1045.5L222.9 1047.7L223.9 1045.4L224.9 1047.2L225.9 1047.4L226.9 1045.4L227.9 1047.3L228.9 1046.3L229.9 1046.8L230.9 1045.4L231.9 1045.5L232.9 1045.9L233.9 1047.7L234.9 1045.9L235.9 1047.3L236.9 1047.7L237.9 1047.7L238.9 1046.3L239.9 1046.4L240.9 1046.8L241.9 1047.4L242.9 1045.8L243.9 1047.3L244.9 1047.5L245.9 1047.6L246.9 1045.7L247.9 1047.9L248.9 1045.8L249.9 1046.4L250.9 1047.1L251.9 1047.8L252.9 1046.5L253.9 1047.9L254.9 1047.0L255.9 1046.4L256.9 1046.4L257.9 1046.1L258.9 1045.9L259.9 1046.1L260.9 1047.4L261.9 1048.1L262.9 1046.1L263.9 1045.9L264.9 1048.2L265.9 1047.1L266.9 1046.8L267.9 1046.4L268.9 1047.3L269.9 1047.8L270.9 1047.0L271.9 1046.9L272.9 1046.0L273.9 1048.1L274.9 1046.0L275.9 1047.1L276.9 1047.9L277.9 1046.2L278.9 1047.7L279.9 1048.2L280.9 1047.5L281.9 1047.8L282.9 1046.2L283.9 1047.0L284.9 1046.3L285.9 1048.0L286.9 1046.7L287.9 1047.1L288.9 1048.4L289.9 1048.0L290.9 1048.3L291.9 1047.1L292.9 1047.2L293.9 1047.8L294.9 1047.2L295.9 1046.7L296.9 1047.0L297.9 1046.4L298.9 1047.0L299.9 1048.4L300.9 1048.4L301.9 1047.6L302.9 1047.3L303.9 1046.9L304.9 1046.3L305.9 1046.7L306.9 1048.0L307.9 1048.2L308.9 1047.0L309.9 1048.0L310.9 1048.0L311.9 1047.8L312.9 1047.7L313.9 1048.0L314.9 1047.0L315.9 1047.9L316.9 1046.9L317.9 1047.4L318.9 1048.1L319.9 1047.9L320.9 1046.9L321.9 1048.5L322.9 1047.8L323.9 1047.7L324.9 1046.3L325.9 1047.6L326.9 1046.9L327.9 1047.9L328.9 1047.5L329.9 1048.3L330.9 1047.9L331.9 1048.3L332.9 1047.2L333.9 1048.0L334.9 1048.2L335.9 1048.5L336.9 1047.3L337.9 1048.5L338.9 1048.6L339.9 1048.2L340.9 1048.9L341.9 1048.9L342.9 1047.9L343.9 1048.0L344.9 1047.1L345.9 1048.8L346.9 1049.0L347.9 1048.0L348.9 1048.5L349.9 1048.6L350.9 1048.7L351.9 1047.4L352.9 1048.9L353.9 1048.5L354.9 1048.7L355.9 1048.2L356.9 1048.7L357.9 1049.1L358.9 1048.8L359.9 1049.1L360.9 1047.5L361.9 1047.9L362.9 1048.6L363.9 1049.2L364.9 1048.2L365.9 1049.4L366.9 1049.3L367.9 1048.0L368.9 1049.1L369.9 1048.6L370.8 1048.2L371.8 1048.5L372.8 1049.0L373.8 1048.7L374.8 1048.9L375.8 1048.6L376.8 1049.7L377.8 1049.6L378.8 1050.2L379.8 1050.2L380.8 1049.5L381.8 1051.1L382.8 1049.1L383.8 1050.1L384.8 1049.9L385.8 1050.3L386.8 1049.7L387.8 1051.5L388.8 1050.5L389.8 1049.8L390.8 1051.3L391.8 1050.2L392.8 1051.3L393.8 1050.9L394.8 1051.6L395.7 1052.6L396.7 1052.4L397.7 1051.5L398.7 1052.6L399.7 1052.3L400.7 1051.7L401.7 1051.3L402.7 1052.5L403.7 1052.5L404.7 1053.6L405.7 1053.7L406.7 1053.0L407.7 1052.4L408.7 1053.9L409.7 1051.8L410.7 1052.2L411.7 1053.4L412.6 1053.6L413.6 1052.6L414.6 1053.9L415.6 1054.6L416.6 1053.5L417.6 1053.7L418.6 1053.4L419.6 1053.6L420.6 1055.4L421.6 1054.1L422.6 1055.6L423.6 1055.6L424.6 1055.0L425.6 1054.3L426.5 1056.2L427.5 1055.2L428.5 1055.1L429.5 1055.0L430.5 1056.7L431.5 1055.7L432.5 1055.3L433.5 1055.9L434.5 1055.2L435.5 1056.5L436.5 1056.2L437.4 1056.0L438.4 1057.3L439.4 1057.5L440.4 1055.7L441.4 1057.0L442.4 1056.5L443.4 1058.2L444.4 1058.0L445.4 1056.8L446.4 1057.0L447.4 1056.8L448.4 1058.9L449.4 1057.3L450.4 1058.2L451.4 1057.9L452.4 1058.4L453.4 1058.4L454.4 1058.8L455.4 1057.4L456.3 1059.1L457.3 1058.0L458.3 1058.7L459.3 1058.3L460.3 1058.3L461.3 1059.0L462.3 1058.9L463.3 1058.7L464.3 1059.7L465.3 1059.4L466.3 1058.1L467.3 1058.6L468.3 1059.1L469.3 1060.1L470.3 1059.9L471.3 1058.9L472.2 1057.3L473.2 1058.9L474.1 1057.8L475.0 1057.6L476.0 1057.6L476.9 1057.1L477.9 1056.5L478.8 1057.2L479.8 1055.8L480.8 1055.7L481.8 1056.6L482.8 1055.0L483.8 1055.1L484.8 1056.4L485.8 1054.5L486.8 1056.3L487.8 1055.9L488.8 1055.3L489.8 1055.0L490.8 1056.1L491.8 1056.5L492.8 1054.6L493.8 1055.5L494.8 1055.7L495.8 1055.6L496.8 1055.2L497.8 1054.9L498.8 1055.9L499.8 1056.5L500.8 1054.8L501.8 1055.2L502.8 1056.7L503.8 1056.7L504.8 1056.5L505.8 1055.0L506.8 1056.8L507.7 1057.5L508.7 1057.6L509.7 1057.0L510.7 1055.6L511.7 1057.7L512.7 1056.4L513.7 1057.6L514.6 1058.6L515.6 1058.3L516.5 1057.2L517.5 1058.2L518.4 1059.2L519.4 1058.7L520.3 1059.6L521.2 1059.8L522.1 1059.9L523.0 1060.9L523.9 1060.7L524.7 1061.3L525.6 1062.1L526.4 1062.3L527.2 1062.9L528.0 1064.1L528.8 1065.0L529.5 1065.8L530.2 1066.1L530.9 1066.8L531.5 1067.6L532.1 1068.3L532.7 1069.1L533.3 1070.0L533.8 1070.8L534.4 1071.7L534.9 1072.5L535.4 1073.4L535.8 1074.3L536.3 1075.2L536.7 1076.1L537.2 1077.0L537.6 1077.9L538.0 1078.8L538.4 1079.7L538.8 1080.6L539.2 1081.5L539.6 1082.4L540.0 1083.4L540.4 1084.3L540.8 1085.2L541.1 1086.1L541.5 1087.1L541.9 1088.0L542.2 1088.9L542.6 1089.9L542.9 1090.8L543.2 1091.8L543.5 1092.7L543.8 1093.7L544.1 1094.6L544.4 1095.6L544.7 1096.5L544.9 1097.5L545.2 1098.5L545.4 1099.4L545.7 1100.4L545.9 1101.4L546.2 1102.4L546.4 1103.3L546.6 1104.3L546.9 1105.3L547.1 1106.2L547.3 1107.2L547.6 1108.2L547.8 1109.2L548.0 1110.1L548.3 1111.1L548.5 1112.1L548.8 1113.0L549.0 1114.0L549.3 1115.0L549.5 1116.0L549.7 1116.9L550.0 1117.9L550.2 1118.9L550.5 1119.8L550.7 1120.8L550.9 1121.8L551.2 1122.8L551.4 1123.7L551.6 1124.7L551.9 1125.7L552.1 1126.6L552.3 1127.6L552.5 1128.6L552.8 1129.6L553.0 1130.5L553.2 1131.5L553.5 1132.5L553.7 1133.5L554.0 1134.4L554.2 1135.4L554.4 1136.4L554.7 1137.3L554.9 1138.3L555.2 1139.3L555.5 1140.2L555.7 1141.2L556.0 1142.2L556.2 1143.1L556.5 1144.1L556.8 1145.1L557.0 1146.0L557.3 1147.0L557.6 1148.0L557.8 1148.9L558.1 1149.9L558.4 1150.8L558.6 1151.8L558.9 1152.8L559.2 1153.7L559.5 1154.7L559.8 1155.6L560.2 1156.6L560.5 1157.5L560.9 1158.4L561.3 1159.3L561.7 1160.2L562.2 1161.1L562.6 1162.0L563.1 1162.9L563.6 1163.8L564.2 1164.6L564.8 1164.9L565.6 1165.5L566.5 1165.1L567.4 1165.8L568.3 1165.4L569.3 1166.0L570.2 1167.0L571.2 1165.4L572.0 1164.9L572.9 1164.6L573.8 1163.8L574.5 1163.8L575.3 1163.1L576.0 1162.1L576.6 1161.4L577.3 1160.6L577.8 1159.8L578.4 1158.9L578.9 1158.1L579.4 1157.2L579.9 1156.4L580.4 1155.5L580.9 1154.6L581.3 1153.7L581.7 1152.8L582.1 1151.9L582.5 1150.9L582.9 1150.0L583.3 1149.1L583.6 1148.2L584.0 1147.2L584.3 1146.3L584.7 1145.4L585.0 1144.4L585.3 1143.5L585.7 1142.5L586.0 1141.6L586.3 1140.6L586.6 1139.7L586.9 1138.7L587.2 1137.8L587.5 1136.8L587.8 1135.9L588.1 1134.9L588.4 1133.9L588.7 1133.0L589.0 1132.0L589.3 1131.1L589.7 1130.2L590.0 1129.2L590.4 1128.3L590.7 1127.3L591.1 1126.4L591.4 1125.5L591.8 1124.5L592.1 1123.6L592.5 1122.7L592.9 1121.7L593.2 1120.8L593.6 1119.9L594.0 1119.0L594.4 1118.0L594.8 1117.1L595.2 1116.2L595.6 1115.3L596.0 1114.4L596.4 1113.5L596.9 1112.6L597.4 1111.7L597.9 1110.9L598.4 1110.0L598.9 1109.1L599.4 1108.3L600.0 1107.5L600.6 1106.6L601.1 1105.8L601.8 1105.0L602.4 1104.3L603.1 1103.5L603.7 1102.8L604.5 1102.2L605.2 1101.1L606.0 1100.3L606.8 1100.4L607.6 1099.1L608.4 1098.7L609.2 1098.3L610.1 1097.9L611.0 1097.1L611.9 1097.0L612.8 1096.4L613.7 1096.6L614.6 1096.0L615.6 1096.0L616.5 1095.6L617.5 1095.6L618.4 1094.9L619.4 1094.3L620.4 1095.0L621.4 1094.4L622.4 1095.0L623.3 1094.4L624.3 1094.3L625.3 1093.2L626.3 1094.5L627.3 1093.5L628.3 1093.0L629.3 1093.0L630.3 1093.4L631.3 1093.9L632.3 1095.1L633.2 1094.4L634.2 1094.2L635.1 1096.1L636.1 1095.9L637.0 1095.6L637.9 1096.0L638.9 1096.5L639.8 1097.1L640.7 1098.2L641.6 1098.7L642.5 1098.7L643.4 1098.8L644.2 1099.5L645.1 1099.9L646.0 1100.4L646.8 1100.5L647.7 1101.7L648.5 1102.6L649.3 1103.1L650.1 1102.9L650.9 1104.0L651.7 1104.2L652.5 1105.5L653.2 1105.8L654.0 1107.1L654.7 1107.6L655.4 1107.5L656.1 1108.6L656.8 1109.3L657.5 1110.1L658.2 1110.8L658.9 1111.5L659.5 1112.3L660.2 1113.0L660.8 1113.8L661.5 1114.6L662.1 1115.4L662.7 1116.1L663.3 1116.9L664.0 1117.7L664.6 1118.5L665.2 1119.3L665.8 1120.1L666.4 1120.9L667.0 1121.7L667.5 1122.5L668.1 1123.3L668.7 1124.1L669.3 1125.0L669.8 1125.8L670.4 1126.6L670.9 1127.5L671.5 1128.3L672.0 1129.2L672.5 1130.0L673.0 1130.9L673.5 1131.7L674.0 1132.6L674.5 1133.5L675.0 1134.3L675.5 1135.2L676.0 1136.1L676.5 1137.0L676.9 1137.9L677.4 1138.7L677.9 1139.6L678.3 1140.5L678.8 1141.4L679.2 1142.3L679.7 1143.2L680.2 1144.1L680.6 1145.0L681.1 1145.8L681.5 1146.7L682.0 1147.6L682.5 1148.5L682.9 1149.4L683.4 1150.3L683.8 1151.2L684.3 1152.1L684.7 1153.0L685.2 1153.9L685.6 1154.8L686.0 1155.7L686.5 1156.6L686.9 1157.5L687.3 1158.4L687.7 1159.3L688.2 1160.2L688.6 1161.1L689.0 1162.0L689.4 1162.9L689.8 1163.9L690.1 1164.8L690.5 1165.7L690.9 1166.6L691.2 1167.6L691.6 1168.5L691.9 1169.4L692.3 1170.4L692.6 1171.3L693.0 1172.3L693.3 1173.2L693.6 1174.2L693.9 1175.1L694.2 1176.1L694.5 1177.0L694.8 1178.0L695.1 1178.9L695.4 1179.9L695.7 1180.8L696.0 1181.8L696.2 1182.8L696.5 1183.7L696.8 1184.7L697.0 1185.7L697.3 1186.6L697.5 1187.6L697.7 1188.6L698.0 1189.5L698.2 1190.5L698.4 1191.5L698.6 1192.5L698.8 1193.5L699.0 1194.4L699.1 1195.4L699.3 1196.4L699.5 1197.4L699.6 1198.4L699.8 1199.4L699.9 1200.4L700.0 1201.4L700.2 1202.4L700.3 1203.3L700.4 1204.3L700.5 1205.3L700.6 1206.3L700.7 1207.3L700.8 1208.3L700.9 1209.3L701.0 1210.3L701.1 1211.3L701.1 1212.3L701.2 1213.3L701.3 1214.3L701.4 1215.3L701.4 1216.3L701.5 1217.3L701.6 1218.3L701.7 1219.3L701.7 1220.3L701.8 1221.3L701.9 1222.3L702.0 1223.3L702.0 1224.3L702.1 1225.3L702.1 1226.3L702.2 1227.3L702.2 1228.3L702.3 1229.3L702.3 1230.3L702.4 1231.3L702.4 1232.3L702.5 1233.3L702.5 1234.3L702.5 1235.3L702.6 1236.3L702.6 1237.3L702.6 1238.3L702.6 1239.3L702.7 1240.3L702.7 1241.3L702.7 1242.3L702.7 1243.3L702.8 1244.3L702.8 1245.3L702.8 1246.3L702.8 1247.3L702.9 1248.3L702.9 1249.3L702.9 1250.3L702.9 1251.3L702.9 1252.3L703.0 1253.3L703.0 1254.3L703.0 1255.3L703.0 1256.3L703.0 1257.3L703.0 1258.3L703.1 1259.3L703.1 1260.3L703.1 1261.3L703.1 1262.3L703.1 1263.3L703.1 1264.3L703.1 1265.3L703.1 1266.3L703.1 1267.3L703.2 1268.3L703.2 1269.3L703.2 1270.3L703.2 1271.3L703.2 1272.3L703.2 1273.3L703.2 1274.3L703.2 1275.3L703.2 1276.3L703.2 1277.3L703.2 1278.3L703.2 1279.3L703.2 1280.3L703.2 1281.3L703.2 1282.3L703.2 1283.3L703.3 1284.3L703.3 1285.3L703.3 1286.3L703.3 1287.3L703.3 1288.3L703.3 1289.3L703.3 1290.3L703.3 1291.3L703.3 1292.3L703.3 1293.3L703.3 1294.3L703.3 1295.3L703.3 1296.3L703.3 1297.3L703.3 1298.3L703.3 1299.3L703.3 1300.3L703.3 1301.3L703.3 1302.3L703.3 1303.3L703.3 1304.3L703.3 1305.3L703.3 1306.3L703.3 1307.3L703.3 1308.3L703.3 1309.3L703.3 1310.3L703.3 1311.3L703.3 1312.3L703.3 1313.3L703.3 1314.3L703.3 1315.3L703.3 1316.3L703.3 1317.3L703.3 1318.3L703.3 1319.3L703.3 1320.3L703.3 1321.3L703.3 1322.3L703.3 1323.3L703.3 1324.3L703.3 1325.3L703.3 1326.3L703.3 1327.3L703.3 1328.3L703.3 1329.3L703.3 1330.3L703.3 1331.3L703.3 1332.3L703.3 1333.3L703.3 1334.3L703.3 1335.3L703.3 1336.3L703.3 1337.3L703.3 1338.3L703.3 1339.3L703.3 1340.3L703.3 1341.3L703.4 1342.3L703.4 1343.3L703.4 1344.3L703.4 1345.3L703.4 1346.3L703.4 1347.3L703.4 1348.3L703.4 1349.3L703.4 1350.3L703.4 1351.3L703.4 1352.3L703.4 1353.3L703.4 1354.3L703.4 1355.3L703.4 1356.3L703.4 1357.3L703.4 1358.3L703.4 1359.3L703.4 1360.3L703.4 1361.3L703.4 1362.3L703.4 1363.3L703.4 1364.3L703.4 1365.3L703.4 1366.3L703.4 1367.3L703.4 1368.3L703.4 1369.3L703.4 1370.3L703.4 1371.3L703.4 1372.3L703.4 1373.3L703.4 1374.3L703.4 1375.3L703.4 1376.3L703.4 1377.3L703.4 1378.3L703.4 1379.3L703.4 1380.3L703.5 1381.3L703.5 1382.3L703.5 1383.3L703.5 1384.3L703.5 1385.3L703.5 1386.3L703.5 1387.3L703.5 1388.3L703.5 1389.3L703.5 1390.3L703.5 1391.3L703.5 1392.3L703.5 1393.3L703.5 1394.3L703.5 1395.3L703.5 1396.3L703.6 1397.3L703.6 1398.3L703.6 1399.3L703.6 1400.3L703.6 1401.3L703.6 1402.3L703.6 1403.3L703.6 1404.3L703.6 1405.3L703.6 1406.3L703.6 1407.3L703.7 1408.3L703.7 1409.2L703.7 1410.2L703.7 1411.2L703.7 1412.2L703.7 1413.2L703.7 1414.2L703.7 1415.2L703.7 1416.2L703.7 1417.2L703.7 1418.2L703.8 1419.2L703.8 1420.2L703.8 1421.2L703.8 1422.2L703.8 1423.2L703.8 1424.2L703.8 1425.2L703.8 1426.2L703.8 1427.2L703.8 1428.2L703.9 1429.2L703.9 1430.2L703.9 1431.2L703.9 1432.2L703.9 1433.2L703.9 1434.2L703.9 1435.2L703.9 1436.2L703.9 1437.2L703.9 1438.2L704.0 1439.2L704.0 1440.2L704.0 1441.2L704.0 1442.2L704.0 1443.2L704.0 1444.2L704.0 1445.2L704.0 1446.2L704.0 1447.2L704.0 1448.2L704.1 1449.2L704.1 1450.2L704.1 1451.2L704.1 1452.2L704.1 1453.2L704.1 1454.2L704.1 1455.2L704.1 1456.2L704.1 1457.2L704.1 1458.2L704.2 1459.2L704.2 1460.2L704.2 1461.2L704.2 1462.2L704.2 1463.2L704.2 1464.2L704.2 1465.2L704.2 1466.2L704.2 1467.2L704.3 1468.2L704.3 1469.2L704.3 1470.2L704.3 1471.2L704.3 1472.2L704.3 1473.2L704.3 1474.2L704.3 1475.2L704.4 1476.2L704.4 1477.2L704.4 1478.2L704.4 1479.2L704.4 1480.2L704.4 1481.2L704.4 1482.2L704.4 1483.2L704.4 1484.2L704.5 1485.2L704.5 1486.2L704.5 1487.2L704.5 1488.2L704.5 1489.2L704.5 1490.2L704.5 1491.2L704.5 1492.2L704.6 1493.2L704.6 1494.2L704.6 1495.2L704.6 1496.2L704.6 1497.2L704.6 1498.2L704.6 1499.2L704.7 1500.2L704.7 1501.2L704.7 1502.2L704.7 1503.2L704.7 1504.2L704.7 1505.2L704.7 1506.2L704.7 1507.2L704.8 1508.2L704.8 1509.2L704.8 1510.2L704.8 1511.2L704.8 1512.2L704.8 1513.2L704.8 1514.2L704.9 1515.2L704.9 1516.2L704.9 1517.2L704.9 1518.2L704.9 1519.2L704.9 1520.2L705.0 1521.2L705.0 1522.2L705.0 1523.2L705.0 1524.2L705.0 1525.2L705.0 1526.2L705.1 1527.2L705.1 1528.2L705.1 1529.2L705.1 1530.2L705.1 1531.2L705.1 1532.2L705.2 1533.2L705.2 1534.2L705.2 1535.2L705.2 1536.2L705.2 1537.2L705.2 1538.2L705.3 1539.2L705.3 1540.2L705.3 1541.2L705.3 1542.2L705.3 1543.2L705.4 1544.2L705.4 1545.2L705.4 1546.2L705.4 1547.2L705.5 1548.2L705.5 1549.2L705.5 1550.2L705.5 1551.2L705.5 1552.2L705.6 1553.2L705.6 1554.2L705.6 1555.2L705.6 1556.2L705.7 1557.2L705.7 1558.2L705.7 1559.2L705.7 1560.2L705.8 1561.2L705.8 1562.2L705.8 1563.2L705.9 1564.2L705.9 1565.2L705.9 1566.2L706.0 1567.2L706.0 1568.2L706.0 1569.2L706.1 1570.2L706.1 1571.2L706.1 1572.2L706.2 1573.2L706.2 1574.2L706.3 1575.2L706.3 1576.2L706.3 1577.2L706.4 1578.2L706.4 1579.2L706.5 1580.2L706.5 1581.2L706.6 1582.2L706.6 1583.2L706.7 1584.2L706.7 1585.2L706.8 1586.2L706.9 1587.2L706.9 1588.2L707.0 1589.2L707.0 1590.2L707.1 1591.2L707.1 1592.2L707.2 1593.2L707.3 1594.2L707.3 1595.2L707.4 1596.2L707.4 1597.2L707.5 1598.2L707.5 1599.2L707.6 1600.2L707.6 1601.2L707.7 1602.2L707.7 1603.2L707.7 1604.2L707.7 1605.2L707.8 1606.2L707.8 1607.2L707.8 1608.2L707.8 1609.2L707.9 1610.2L707.9 1611.2L707.9 1612.2L708.0 1613.2L708.0 1614.2L708.0 1615.2L708.1 1616.2L708.1 1617.2L708.2 1618.2L708.3 1619.2L708.4 1620.2L708.5 1621.2L708.7 1622.1L708.9 1623.1L709.1 1624.1L709.3 1625.1L709.7 1626.0L710.0 1626.9L710.5 1627.7L711.1 1628.9L711.8 1627.7L712.5 1627.7L713.1 1627.5L713.8 1627.3L714.3 1626.5L714.9 1625.6L715.3 1624.8L715.8 1623.9L716.2 1622.9L716.5 1622.0L716.9 1621.1L717.2 1620.1L717.5 1619.2L717.8 1618.2L718.1 1617.3L718.4 1616.3L718.6 1615.3L718.9 1614.4L719.1 1613.4L719.4 1612.4L719.6 1611.5L719.8 1610.5L720.1 1609.5L720.3 1608.5L720.5 1607.6L720.7 1606.6L720.9 1605.6L721.1 1604.6L721.3 1603.7L721.5 1602.7L721.7 1601.7L721.9 1600.7L722.1 1599.7L722.3 1598.8L722.5 1597.8L722.7 1596.8L722.9 1595.8L723.1 1594.8L723.3 1593.9L723.5 1592.9L723.7 1591.9L723.9 1590.9L724.1 1589.9L724.3 1588.9L724.4 1588.0L724.6 1587.0L724.8 1586.0L725.0 1585.0L725.1 1584.0L725.3 1583.0L725.5 1582.1L725.7 1581.1L725.8 1580.1L726.0 1579.1L726.2 1578.1L726.3 1577.1L726.5 1576.1L726.7 1575.2L726.8 1574.2L727.0 1573.2L727.2 1572.2L727.3 1571.2L727.5 1570.2L727.7 1569.2L727.8 1568.3L728.0 1567.3L728.2 1566.3L728.3 1565.3L728.5 1564.3L728.7 1563.3L728.8 1562.3L729.0 1561.4L729.2 1560.4L729.3 1559.4L729.5 1558.4L729.6 1557.4L729.8 1556.4L730.0 1555.4L730.1 1554.4L730.3 1553.5L730.4 1552.5L730.6 1551.5L730.8 1550.5L730.9 1549.5L731.1 1548.5L731.2 1547.5L731.4 1546.5L731.5 1545.6L731.7 1544.6L731.8 1543.6L731.9 1542.6L732.1 1541.6L732.2 1540.6L732.4 1539.6L732.5 1538.6L732.7 1537.6L732.8 1536.6L733.0 1535.7L733.1 1534.7L733.3 1533.7L733.4 1532.7L733.5 1531.7L733.7 1530.7L733.8 1529.7L733.9 1528.7L734.1 1527.7L734.2 1526.7L734.3 1525.7L734.4 1524.8L734.5 1523.8L734.6 1522.8L734.8 1521.8L734.9 1520.8L734.9 1519.8L735.0 1518.8L735.1 1517.8L735.2 1516.8L735.3 1515.8L735.4 1514.8L735.4 1513.8L735.5 1512.8L735.6 1511.8L735.6 1510.8L735.7 1509.8L735.7 1508.8L735.8 1507.8L735.8 1506.8L735.9 1505.8L735.9 1504.8L736.0 1503.8L736.0 1502.8L736.0 1501.8L736.1 1500.8L736.1 1499.8L736.1 1498.8L736.2 1497.8L736.2 1496.8L736.2 1495.8L736.2 1494.8L736.3 1493.8L736.3 1492.8L736.3 1491.8L736.3 1490.8L736.4 1489.8L736.4 1488.8L736.4 1487.8L736.4 1486.8L736.5 1485.8L736.5 1484.8L736.5 1483.8L736.5 1482.8L736.5 1481.8L736.5 1480.8L736.6 1479.8L736.6 1478.8L736.6 1477.8L736.6 1476.8L736.6 1475.8L736.7 1474.8L736.7 1473.8L736.7 1472.8L736.7 1471.8L736.7 1470.8L736.8 1469.8L736.8 1468.8L736.8 1467.8L736.8 1466.8L736.8 1465.8L736.9 1464.8L736.9 1463.8L736.9 1462.8L736.9 1461.8L736.9 1460.8L737.0 1459.8L737.0 1458.8L737.0 1457.8L737.0 1456.8L737.0 1455.8L737.0 1454.8L737.1 1453.8L737.1 1452.8L737.1 1451.8L737.1 1450.8L737.1 1449.8L737.1 1448.8L737.1 1447.8L737.1 1446.8L737.2 1445.8L737.2 1444.8L737.2 1443.8L737.2 1442.8L737.2 1441.8L737.2 1440.8L737.2 1439.8L737.2 1438.8L737.3 1437.8L737.3 1436.8L737.3 1435.8L737.3 1434.8L737.3 1433.8L737.3 1432.8L737.3 1431.8L737.3 1430.8L737.3 1429.8L737.3 1428.8L737.4 1427.8L737.4 1426.8L737.4 1425.8L737.4 1424.8L737.4 1423.8L737.4 1422.8L737.4 1421.8L737.4 1420.8L737.4 1419.8L737.4 1418.8L737.4 1417.8L737.4 1416.8L737.5 1415.8L737.5 1414.8L737.5 1413.8L737.5 1412.8L737.5 1411.8L737.5 1410.8L737.5 1409.8L737.5 1408.8L737.5 1407.8L737.5 1406.8L737.5 1405.8L737.5 1404.8L737.5 1403.8L737.5 1402.8L737.6 1401.8L737.6 1400.8L737.6 1399.8L737.6 1398.8L737.6 1397.8L737.6 1396.8L737.6 1395.8L737.6 1394.8L737.6 1393.8L737.6 1392.8L737.6 1391.8L737.6 1390.8L737.6 1389.8L737.6 1388.8L737.7 1387.8L737.7 1386.8L737.7 1385.8L737.7 1384.8L737.7 1383.8L737.7 1382.8L737.7 1381.8L737.7 1380.8L737.7 1379.8L737.7 1378.8L737.7 1377.8L737.7 1376.8L737.8 1375.8L737.8 1374.8L737.8 1373.8L737.8 1372.8L737.8 1371.8L737.8 1370.8L737.8 1369.8L737.8 1368.8L737.8 1367.8L737.8 1366.8L737.8 1365.8L737.8 1364.8L737.9 1363.8L737.9 1362.8L737.9 1361.8L737.9 1360.8L737.9 1359.8L737.9 1358.8L737.9 1357.8L737.9 1356.8L737.9 1355.8L737.9 1354.8L737.9 1353.8L738.0 1352.8L738.0 1351.8L738.0 1350.8L738.0 1349.8L738.0 1348.8L738.0 1347.8L738.0 1346.8L738.0 1345.8L738.0 1344.8L738.0 1343.8L738.0 1342.8L738.0 1341.8L738.0 1340.8L738.1 1339.8L738.1 1338.8L738.1 1337.8L738.1 1336.8L738.1 1335.8L738.1 1334.8L738.1 1333.8L738.1 1332.8L738.1 1331.8L738.1 1330.8L738.1 1329.8L738.1 1328.8L738.2 1327.8L738.2 1326.8L738.2 1325.8L738.2 1324.8L738.2 1323.8L738.2 1322.8L738.2 1321.8L738.2 1320.8L738.2 1319.8L738.2 1318.8L738.2 1317.8L738.2 1316.8L738.2 1315.8L738.3 1314.8L738.3 1313.8L738.3 1312.8L738.3 1311.8L738.3 1310.8L738.3 1309.8L738.3 1308.8L738.3 1307.8L738.3 1306.8L738.3 1305.8L738.3 1304.8L738.3 1303.8L738.3 1302.8L738.4 1301.8L738.4 1300.8L738.4 1299.8L738.4 1298.8L738.4 1297.8L738.4 1296.8L738.4 1295.8L738.4 1294.8L738.4 1293.8L738.4 1292.8L738.4 1291.8L738.4 1290.8L738.4 1289.8L738.4 1288.8L738.5 1287.8L738.5 1286.8L738.5 1285.8L738.5 1284.8L738.5 1283.8L738.5 1282.8L738.5 1281.8L738.5 1280.8L738.5 1279.8L738.5 1278.8L738.5 1277.8L738.5 1276.8L738.5 1275.8L738.6 1274.8L738.6 1273.8L738.6 1272.8L738.6 1271.8L738.6 1270.8L738.6 1269.8L738.6 1268.8L738.6 1267.8L738.6 1266.8L738.6 1265.8L738.6 1264.8L738.6 1263.8L738.6 1262.8L738.6 1261.8L738.7 1260.8L738.7 1259.8L738.7 1258.8L738.7 1257.8L738.7 1256.8L738.7 1255.8L738.7 1254.8L738.7 1253.8L738.7 1252.8L738.7 1251.8L738.7 1250.8L738.7 1249.8L738.7 1248.8L738.7 1247.8L738.8 1246.8L738.8 1245.8L738.8 1244.8L738.8 1243.8L738.8 1242.8L738.8 1241.8L738.8 1240.8L738.8 1239.8L738.8 1238.8L738.8 1237.8L738.8 1236.8L738.8 1235.8L738.8 1234.8L738.8 1233.8L738.8 1232.8L738.9 1231.8L738.9 1230.8L738.9 1229.8L738.9 1228.8L738.9 1227.8L738.9 1226.8L738.9 1225.8L738.9 1224.8L738.9 1223.8L738.9 1222.8L738.9 1221.8L738.9 1220.8L738.9 1219.8L738.9 1218.8L738.9 1217.8L738.9 1216.8L738.9 1215.8L738.9 1214.8L738.9 1213.8L738.9 1212.8L738.9 1211.8L738.9 1210.8L738.9 1209.8L739.0 1208.8L739.0 1207.8L739.0 1206.8L739.0 1205.8L739.0 1204.8L739.0 1203.8L739.0 1202.8L739.0 1201.8L739.0 1200.8L739.0 1199.8L739.0 1198.8L739.0 1197.8L739.1 1196.8L739.1 1195.8L739.1 1194.8L739.1 1193.8L739.1 1192.8L739.1 1191.8L739.1 1190.8L739.1 1189.8L739.2 1188.8L739.2 1187.8L739.2 1186.8L739.2 1185.8L739.2 1184.8L739.2 1183.8L739.3 1182.8L739.3 1181.8L739.3 1180.8L739.3 1179.8L739.3 1178.8L739.3 1177.8L739.4 1176.8L739.4 1175.8L739.4 1174.8L739.4 1173.8L739.4 1172.8L739.5 1171.8L739.5 1170.8L739.5 1169.8L739.5 1168.8L739.5 1167.8L739.6 1166.8L739.6 1165.8L739.6 1164.8L739.6 1163.8L739.7 1162.8L739.7 1161.8L739.7 1160.8L739.7 1159.8L739.7 1158.8L739.8 1157.8L739.8 1156.8L739.8 1155.8L739.8 1154.8L739.9 1153.8L739.9 1152.8L739.9 1151.8L739.9 1150.8L740.0 1149.8L740.0 1148.8L740.0 1147.8L740.0 1146.8L740.1 1145.8L740.1 1144.8L740.1 1143.8L740.1 1142.8L740.2 1141.8L740.2 1140.8L740.2 1139.9L740.3 1138.9L740.3 1137.9L740.3 1136.9L740.3 1135.9L740.4 1134.9L740.4 1133.9L740.4 1132.9L740.5 1131.9L740.5 1130.9L740.5 1129.9L740.6 1128.9L740.6 1127.9L740.6 1126.9L740.7 1125.9L740.7 1124.9L740.7 1123.9L740.8 1122.9L740.8 1121.9L740.8 1120.9L740.9 1119.9L740.9 1118.9L740.9 1117.9L741.0 1116.9L741.0 1115.9L741.0 1114.9L741.1 1113.9L741.1 1112.9L741.1 1111.9L741.2 1110.9L741.2 1109.9L741.3 1108.9L741.3 1107.9L741.3 1106.9L741.4 1105.9L741.4 1104.9L741.5 1103.9L741.5 1102.9L741.5 1101.9L741.6 1100.9L741.6 1099.9L741.7 1098.9L741.7 1097.9L741.8 1096.9L741.8 1095.9L741.8 1094.9L741.9 1093.9L741.9 1092.9L742.0 1091.9L742.0 1090.9L742.1 1089.9L742.1 1088.9L742.1 1087.9L742.2 1086.9L742.2 1085.9L742.2 1084.9L742.3 1083.9L742.3 1082.9L742.3 1081.9L742.3 1080.9L742.3 1079.9L742.3 1078.9L742.4 1077.9L742.4 1076.9L742.4 1075.9L742.4 1074.9L742.5 1073.9L742.5 1072.9L742.5 1071.9L742.6 1070.9L742.6 1069.9L742.7 1068.9L742.8 1067.9L742.9 1066.9L743.0 1065.9L743.1 1064.9L743.3 1063.9L743.5 1063.0L743.7 1062.0L743.9 1061.0L744.2 1060.0L744.5 1059.1L744.8 1058.1L745.2 1057.2L745.6 1056.3L746.0 1055.4L746.4 1054.5L746.9 1053.6L747.4 1052.8L748.0 1051.9L748.6 1051.1L749.2 1049.9L750.0 1049.4L750.7 1049.7L751.6 1048.8L752.5 1048.3L753.4 1048.4L754.4 1048.1L755.4 1047.6L756.4 1047.1L757.4 1046.4L758.4 1046.1L759.4 1046.2L760.4 1046.8L761.4 1045.7L762.4 1047.3L763.4 1046.4L764.4 1046.1L765.4 1046.3L766.4 1046.7L767.4 1046.0L768.4 1047.5L769.4 1046.6L770.4 1045.6L771.4 1045.6L772.4 1047.5L773.4 1046.8L774.4 1046.1L775.4 1047.1L776.4 1045.5L777.4 1047.5L778.4 1047.6L779.4 1047.0L780.4 1045.5L781.4 1046.4L782.4 1047.4L783.4 1046.8L784.4 1045.9L785.4 1046.0L786.4 1045.6L787.4 1046.7L788.4 1045.9L789.4 1046.6L790.4 1047.7L791.4 1047.7L792.4 1046.7L793.4 1047.5L794.4 1045.9L795.4 1047.9L796.4 1047.7L797.4 1046.8L798.4 1047.8L799.3 1046.4L800.3 1048.1L801.3 1046.6L802.3 1048.0L803.3 1047.9L804.3 1048.1L805.3 1047.7L806.3 1046.1L807.3 1046.7L808.3 1047.6L809.3 1048.3L810.3 1047.8L811.3 1046.3L812.3 1047.1L813.3 1047.1L814.3 1046.8L815.3 1047.0L816.3 1047.7L817.3 1047.5L818.3 1047.3L819.3 1047.7L820.3 1049.1L821.3 1048.3L822.3 1048.7L823.3 1049.3L824.3 1047.2L825.3 1049.3L826.3 1047.5L827.3 1047.8L828.3 1049.2L829.3 1049.3L830.3 1049.1L831.3 1048.9L832.3 1049.6L833.3 1049.0L834.3 1048.6L835.2 1048.8L836.2 1048.7L837.2 1048.6L838.2 1051.0L839.2 1051.2L840.2 1049.9L841.2 1050.2L842.2 1050.0L843.1 1051.4L844.1 1050.8L845.1 1050.1L846.1 1051.9L847.1 1052.0L848.1 1049.9L849.1 1050.8L850.1 1050.2L851.1 1051.2L852.1 1050.4L853.1 1050.2L854.1 1050.1L855.1 1050.7L856.1 1050.4L857.1 1050.2L858.1 1050.5L859.1 1049.9L860.1 1050.9L861.1 1049.5L862.0 1050.2L863.0 1050.4L864.0 1049.5L865.0 1049.3L866.0 1049.6L867.0 1049.3L868.0 1047.9L869.0 1048.4L870.0 1047.6L871.0 1047.1L871.9 1048.6L872.9 1047.6L873.9 1047.3L874.9 1046.6L875.9 1046.4L876.9 1047.9L877.9 1047.1L878.9 1047.2L879.9 1047.7L880.9 1048.3L881.9 1047.8L882.9 1046.6L883.9 1048.5L884.9 1046.6L885.9 1047.6L886.9 1047.8L887.9 1047.0L888.9 1048.5L889.9 1047.9L890.9 1048.2L891.9 1046.8L892.9 1048.6L893.9 1047.3L894.9 1048.2L895.9 1048.6L896.9 1047.6L897.9 1047.6L898.9 1047.8L899.9 1049.4L900.9 1048.8L901.9 1048.4L902.9 1048.7L903.8 1049.0L904.8 1048.1L905.8 1047.8L906.8 1048.0L907.8 1049.2L908.8 1049.3L909.8 1050.3L910.8 1049.6L911.8 1050.2L912.8 1050.6L913.8 1049.6L914.8 1049.5L915.8 1049.7L916.8 1049.6L917.8 1050.6L918.8 1050.3L919.8 1049.3L920.8 1051.4L921.8 1050.5L922.8 1051.1L923.7 1050.8L924.7 1051.0L925.7 1051.1L926.7 1050.1L927.7 1050.3L928.7 1051.8L929.7 1051.1L930.7 1050.7L931.7 1052.5L932.7 1052.5L933.6 1052.7L934.6 1051.9L935.6 1051.5L936.6 1053.1L937.6 1052.0L938.6 1053.3L939.6 1053.5L940.6 1052.6L941.5 1052.2L942.5 1053.7L943.5 1054.4L944.5 1054.1L945.5 1055.2L946.5 1053.5L947.5 1054.9L948.4 1054.3L949.4 1054.8L950.4 1054.3L951.4 1054.3L952.4 1055.2L953.4 1055.5L954.4 1056.4L955.4 1055.9L956.3 1055.8L957.3 1056.3L958.3 1056.5L959.3 1056.1L960.3 1056.0L961.2 1057.2L962.2 1056.7L963.2 1056.0L964.2 1056.6L965.2 1057.3L966.1 1058.3L967.1 1058.5L968.0 1058.4L969.0 1059.4L970.0 1058.6L970.9 1058.9L971.8 1060.2L972.8 1060.4L973.7 1060.1L974.7 1061.5L975.6 1059.8L976.6 1061.4L977.5 1062.5L978.5 1062.8L979.4 1061.5L980.4 1063.3L981.3 1062.9L982.3 1064.1L983.3 1062.9L984.2 1064.0L985.2 1064.1L986.2 1065.1L987.2 1063.8L988.2 1064.0L989.1 1063.5L990.1 1065.0L991.1 1063.6L992.1 1065.6L993.1 1064.0L994.1 1064.2L995.1 1066.1L996.1 1065.1L997.1 1065.7L998.1 1064.8L999.1 1064.6L1000.1 1064.9L1001.1 1066.4L1002.1 1064.6L1003.1 1066.3L1004.1 1066.3L1005.1 1065.8L1006.1 1064.8L1007.1 1066.0L1008.1 1066.4L1009.1 1065.6L1010.1 1064.7L1011.1 1065.6L1012.1 1066.5L1013.1 1065.5L1014.1 1064.5L1015.1 1064.5L1016.1 1065.5L1017.1 1064.1L1018.1 1063.9L1019.1 1064.8L1020.1 1064.4L1021.1 1065.0L1022.1 1063.9L1023.1 1065.0L1024.1 1065.2L1025.1 1064.3L1026.1 1064.9L1027.1 1064.8L1028.1 1065.4L1029.1 1064.8L1030.1 1065.0L1031.1 1064.8L1032.1 1065.4L1033.1 1063.6L1034.1 1063.6L1035.1 1065.4L1036.1 1065.3L1037.1 1063.3L1038.1 1065.4L1039.1 1064.7L1040.1 1065.2L1041.1 1064.7L1042.1 1063.8L1043.1 1063.1L1044.1 1064.5L1045.0 1064.2L1046.0 1063.4L1047.0 1062.8L1048.0 1062.8L1048.9 1063.9L1049.9 1062.5L1050.9 1061.7L1051.8 1063.3L1052.8 1063.0L1053.8 1060.8L1054.7 1060.5L1055.7 1061.5L1056.6 1060.4L1057.6 1060.3L1058.6 1060.5L1059.5 1059.2L1060.5 1059.7L1061.4 1058.5L1062.4 1058.2L1063.3 1058.7L1064.3 1058.1L1065.2 1058.9L1066.2 1056.8L1067.1 1058.4L1068.1 1056.5L1069.0 1056.4L1070.0 1055.5L1070.9 1055.7L1071.9 1057.0L1072.8 1055.1L1073.8 1056.0L1074.7 1056.0L1075.7 1055.0L1076.6 1053.4L1077.6 1053.7L1078.5 1052.8L1079.5 1052.6L1080.4 1052.5L1081.4 1051.8L1082.3 1052.8L1083.3 1052.1L1084.2 1051.2L1085.2 1050.9L1086.1 1050.3L1087.1 1049.9L1088.1 1050.4L1089.0 1049.2L1090.0 1050.0L1090.9 1049.1L1091.9 1050.0L1092.8 1048.6L1093.8 1049.7L1094.8 1049.7L1095.7 1049.4L1096.7 1047.5L1097.7 1048.9L1098.7 1047.6L1099.6 1048.4L1100.6 1047.3L1101.6 1047.3L1102.6 1046.5L1103.6 1047.6L1104.6 1046.5L1105.6 1047.7L1106.6 1047.2L1107.6 1046.5L1108.6 1045.5L1109.6 1046.0L1110.6 1046.3L1111.6 1046.2L1112.6 1046.7L1113.6 1045.3L1114.6 1046.4L1115.6 1047.4L1116.6 1047.6L1117.6 1046.9L1118.6 1046.9L1119.6 1046.7L1120.6 1047.7L1121.6 1047.2L1122.6 1046.4L1123.6 1046.5L1124.6 1047.6L1125.6 1046.8L1126.6 1046.9L1127.6 1046.3L1128.6 1047.2L1129.6 1046.9L1130.6 1048.0L1131.6 1048.2L1132.6 1048.3L1133.6 1048.2L1134.6 1046.1L1135.6 1046.2L1136.6 1046.9L1137.6 1048.1L1138.6 1047.4L1139.6 1046.7L1140.6 1046.3L1141.6 1046.6L1142.6 1046.3L1143.6 1046.2L1144.6 1047.6L1145.5 1046.1L1146.5 1046.0L1147.5 1046.9L1148.5 1045.6L1149.5 1047.2L1150.5 1046.6L1151.5 1047.0L1152.5 1046.5L1153.5 1046.4L1154.5 1045.1L1155.5 1045.4L1156.5 1045.2L1157.4 1045.1L1158.4 1046.2L1159.4 1045.0L1160.4 1045.8L1161.4 1045.3L1162.4 1043.9L1163.4 1044.2L1164.4 1045.1L1165.4 1045.7L1166.4 1044.4L1167.4 1044.6L1168.4 1045.0L1169.4 1045.4L1170.4 1045.4L1171.4 1046.8L1172.3 1046.2L1173.3 1045.6L1174.3 1045.9L1175.3 1046.4L1176.3 1045.6L1177.3 1046.3L1178.3 1045.5L1179.3 1047.0L1180.3 1047.5L1181.3 1047.6L1182.3 1046.9L1183.3 1046.4L1184.3 1046.8L1185.3 1046.8L1186.3 1045.8L1187.3 1046.7L1188.3 1046.6L1189.3 1045.8L1190.3 1046.4L1191.3 1047.3L1192.3 1046.9L1193.3 1046.1L1193.8 1046.5" fill="none" stroke="#FA351C" stroke-width="5.8" stroke-linejoin="round" stroke-dasharray="9 17.7" stroke-linecap="round"/>
<path d="M163.9 1045.7L164.9 1046.0L165.9 1046.3L166.9 1046.4L167.9 1046.8L168.9 1046.3L169.9 1046.8L170.9 1044.6L171.9 1045.7L172.9 1046.8L173.9 1046.1L174.9 1046.7L175.9 1044.9L176.9 1045.7L177.9 1045.2L178.9 1045.9L179.9 1046.0L180.9 1044.6L181.9 1045.1L182.9 1045.3L183.9 1046.8L184.9 1046.5L185.9 1045.0L186.9 1046.6L187.9 1045.0L188.9 1046.1L189.9 1045.0L190.9 1044.7L191.9 1046.8L192.9 1045.2L193.9 1045.2L194.9 1047.1L195.9 1046.8L196.9 1045.4L197.9 1047.0L198.9 1046.0L199.9 1046.4L200.9 1045.2L201.9 1047.0L202.9 1046.4L203.9 1047.1L204.9 1046.9L205.9 1045.5L206.9 1045.6L207.9 1045.2L208.9 1045.1L209.9 1044.9L210.9 1045.5L211.9 1046.2L212.9 1044.8L213.9 1046.4L214.9 1045.6L215.9 1045.6L216.9 1046.8L217.9 1046.0L218.9 1045.6L219.9 1046.0L220.9 1046.5L221.9 1045.0L222.9 1047.2L223.9 1044.9L224.9 1046.7L225.9 1046.9L226.9 1044.9L227.9 1046.8L228.9 1045.8L229.9 1046.3L230.9 1044.9L231.9 1045.0L232.9 1045.4L233.9 1047.2L234.9 1045.4L235.9 1046.8L236.9 1047.2L237.9 1047.2L238.9 1045.8L239.9 1045.8L240.9 1046.3L241.9 1046.9L242.9 1045.3L243.9 1046.8L244.9 1046.9L245.9 1047.1L246.9 1045.1L247.9 1047.3L248.9 1045.3L249.9 1045.9L250.9 1046.5L251.9 1047.3L252.9 1045.9L253.9 1047.3L254.9 1046.4L255.9 1045.9L256.9 1045.9L257.9 1045.6L258.9 1045.3L259.9 1045.5L260.9 1046.8L261.9 1047.6L262.9 1045.6L263.9 1045.3L264.9 1047.6L265.9 1046.5L266.9 1046.2L267.9 1045.8L268.9 1046.7L269.9 1047.2L270.9 1046.3L271.9 1046.3L272.9 1045.4L273.9 1047.5L274.9 1045.4L275.9 1046.5L276.9 1047.3L277.9 1045.6L278.9 1047.1L279.9 1047.6L280.9 1046.8L281.9 1047.2L282.9 1045.6L283.9 1046.4L284.9 1045.7L285.9 1047.4L286.9 1046.1L287.9 1046.5L288.9 1047.8L289.9 1047.5L290.9 1047.8L291.9 1046.5L292.9 1046.6L293.9 1047.2L294.9 1046.6L295.9 1046.2L296.9 1046.4L297.9 1045.8L298.9 1046.4L299.9 1047.9L300.9 1047.8L301.9 1047.0L302.9 1046.7L303.9 1046.3L304.9 1045.8L305.9 1046.2L306.9 1047.4L307.9 1047.6L308.9 1046.4L309.9 1047.5L310.9 1047.5L311.9 1047.3L312.9 1047.2L313.9 1047.4L314.9 1046.5L315.9 1047.3L316.9 1046.3L317.9 1046.8L318.9 1047.5L319.9 1047.3L320.9 1046.4L321.9 1048.0L322.9 1047.3L323.9 1047.1L324.9 1045.8L325.9 1047.1L326.9 1046.4L327.9 1047.4L328.9 1046.9L329.9 1047.8L330.9 1047.4L331.9 1047.7L332.9 1046.7L333.9 1047.4L334.9 1047.6L335.9 1047.9L336.9 1046.7L337.9 1047.9L338.9 1048.0L339.9 1047.6L340.9 1048.3L341.9 1048.3L342.9 1047.2L343.9 1047.3L344.9 1046.4L345.9 1048.0L346.9 1048.3L347.9 1047.2L348.9 1047.8L349.9 1047.8L350.9 1047.9L351.9 1046.6L352.9 1048.0L353.9 1047.6L354.9 1047.8L355.9 1047.2L356.9 1047.8L357.9 1048.1L358.9 1047.8L359.9 1048.1L360.9 1046.4L361.9 1046.8L362.9 1047.5L363.9 1048.0L364.9 1047.0L365.9 1048.1L366.9 1048.0L367.9 1046.6L368.9 1047.7L369.9 1047.1L370.9 1046.8L371.9 1047.0L372.9 1047.4L373.9 1047.2L374.9 1047.2L375.9 1046.9L376.9 1047.9L377.9 1047.8L378.9 1048.4L379.9 1048.3L380.9 1047.5L381.9 1049.2L382.9 1047.0L383.9 1048.0L384.9 1047.8L385.9 1048.1L386.9 1047.5L387.9 1049.2L388.9 1048.2L389.9 1047.4L390.9 1048.8L391.9 1047.6L392.9 1048.7L393.9 1048.3L394.9 1048.9L395.9 1049.9L396.9 1049.6L397.9 1048.7L398.9 1049.6L399.9 1049.3L400.9 1048.7L401.9 1048.2L402.9 1049.3L403.9 1049.3L404.9 1050.3L405.9 1050.4L406.9 1049.6L407.9 1049.0L408.9 1050.3L409.9 1048.3L410.8 1048.6L411.8 1049.7L412.8 1049.9L413.8 1048.8L414.8 1050.1L415.8 1050.8L416.8 1049.6L417.8 1049.8L418.8 1049.4L419.8 1049.6L420.8 1051.3L421.8 1050.0L422.8 1051.4L423.8 1051.4L424.8 1050.7L425.8 1049.9L426.8 1051.8L427.8 1050.7L428.8 1050.5L429.8 1050.4L430.8 1052.0L431.8 1050.9L432.8 1050.5L433.8 1051.0L434.8 1050.3L435.8 1051.5L436.8 1051.2L437.8 1050.9L438.8 1052.1L439.8 1052.3L440.8 1050.4L441.8 1051.7L442.8 1051.2L443.8 1052.8L444.8 1052.5L445.8 1051.3L446.8 1051.4L447.8 1051.2L448.8 1053.3L449.8 1051.7L450.8 1052.5L451.8 1052.3L452.7 1052.8L453.7 1052.7L454.7 1053.1L455.7 1051.7L456.7 1053.3L457.7 1052.2L458.7 1052.8L459.7 1052.4L460.7 1052.4L461.7 1052.9L462.7 1052.8L463.7 1052.6L464.7 1053.5L465.7 1053.1L466.7 1051.7L467.7 1052.2L468.7 1052.6L469.7 1053.7L470.7 1053.6L471.7 1052.7L472.7 1051.3L473.7 1053.1L474.7 1052.2L475.7 1052.5L476.7 1052.8L477.7 1052.6L478.7 1052.2L479.7 1053.2L480.7 1051.9L481.7 1052.0L482.7 1053.1L483.7 1051.5L484.7 1051.8L485.7 1053.1L486.7 1051.3L487.7 1053.2L488.7 1053.0L489.7 1052.4L490.7 1052.1L491.7 1053.4L492.7 1053.8L493.7 1052.0L494.7 1052.9L495.7 1053.2L496.7 1053.1L497.7 1052.8L498.7 1052.5L499.7 1053.7L500.7 1054.3L501.7 1052.7L502.6 1053.2L503.6 1054.7L504.6 1054.7L505.6 1054.5L506.6 1053.1L507.6 1054.9L508.6 1055.6L509.6 1055.8L510.6 1055.2L511.6 1053.7L512.6 1055.8L513.6 1054.5L514.5 1055.7L515.5 1056.7L516.4 1056.5L517.4 1055.8L518.3 1056.4L519.2 1057.6L520.1 1057.2L520.9 1058.2L521.8 1058.5L522.6 1058.8L523.4 1060.0L524.1 1059.9L524.9 1060.6L525.6 1061.7L526.3 1062.5L527.0 1063.2L527.7 1064.0L528.3 1064.7L529.0 1065.5L529.6 1066.3L530.1 1067.1L530.7 1068.0L531.2 1068.8L531.7 1069.7L532.1 1070.6L532.6 1071.5L533.0 1072.4L533.3 1073.3L533.7 1074.3L534.0 1075.2L534.4 1076.2L534.7 1077.1L535.0 1078.1L535.3 1079.0L535.6 1080.0L535.8 1080.9L536.1 1081.9L536.4 1082.8L536.7 1083.8L537.0 1084.8L537.3 1085.7L537.6 1086.7L537.8 1087.6L538.1 1088.6L538.4 1089.6L538.7 1090.5L538.9 1091.5L539.2 1092.5L539.4 1093.4L539.6 1094.4L539.9 1095.4L540.1 1096.3L540.3 1097.3L540.6 1098.3L540.8 1099.3L541.0 1100.2L541.2 1101.2L541.4 1102.2L541.6 1103.2L541.8 1104.1L542.0 1105.1L542.3 1106.1L542.5 1107.1L542.6 1108.1L542.8 1109.0L543.0 1110.0L543.2 1111.0L543.4 1112.0L543.6 1113.0L543.7 1114.0L543.9 1115.0L544.1 1115.9L544.3 1116.9L544.4 1117.9L544.6 1118.9L544.8 1119.9L544.9 1120.9L545.1 1121.8L545.3 1122.8L545.5 1123.8L545.6 1124.8L545.8 1125.8L546.0 1126.8L546.2 1127.8L546.4 1128.7L546.6 1129.7L546.8 1130.7L546.9 1131.7L547.1 1132.7L547.3 1133.6L547.5 1134.6L547.7 1135.6L547.9 1136.6L548.1 1137.6L548.3 1138.5L548.5 1139.5L548.7 1140.5L548.9 1141.5L549.1 1142.5L549.3 1143.4L549.5 1144.4L549.7 1145.4L549.9 1146.4L550.1 1147.4L550.3 1148.3L550.5 1149.3L550.7 1150.3L550.9 1151.3L551.1 1152.3L551.4 1153.2L551.6 1154.2L551.8 1155.2L552.0 1156.2L552.3 1157.1L552.5 1158.1L552.7 1159.1L553.0 1160.0L553.2 1161.0L553.4 1162.0L553.6 1163.0L553.8 1163.9L554.1 1164.9L554.3 1165.9L554.5 1166.9L554.8 1167.8L555.0 1168.8L555.2 1169.8L555.5 1170.7L555.8 1171.7L556.0 1172.7L556.3 1173.6L556.6 1174.6L557.0 1175.5L557.3 1176.5L557.7 1177.4L558.1 1178.3L558.5 1179.2L558.9 1180.1L559.4 1181.0L559.8 1181.9L560.3 1182.8L560.8 1183.7L561.3 1184.5L561.8 1185.4L562.4 1186.1L563.1 1186.3L563.8 1186.9L564.7 1188.5L565.5 1187.6L566.4 1186.5L567.2 1187.2L567.9 1187.1L568.6 1185.8L569.3 1185.1L569.9 1184.3L570.4 1183.5L571.0 1182.6L571.5 1181.8L572.0 1180.9L572.5 1180.1L573.0 1179.2L573.4 1178.3L573.7 1177.3L574.1 1176.4L574.4 1175.4L574.7 1174.5L575.0 1173.5L575.3 1172.6L575.5 1171.6L575.8 1170.6L576.0 1169.7L576.3 1168.7L576.5 1167.7L576.8 1166.8L577.0 1165.8L577.2 1164.8L577.5 1163.8L577.7 1162.9L577.9 1161.9L578.1 1160.9L578.3 1159.9L578.5 1159.0L578.7 1158.0L578.9 1157.0L579.1 1156.0L579.3 1155.0L579.5 1154.0L579.6 1153.1L579.8 1152.1L580.0 1151.1L580.2 1150.1L580.4 1149.1L580.6 1148.1L580.7 1147.2L580.9 1146.2L581.1 1145.2L581.3 1144.2L581.5 1143.2L581.7 1142.3L581.9 1141.3L582.1 1140.3L582.3 1139.3L582.5 1138.3L582.6 1137.3L582.8 1136.4L583.0 1135.4L583.2 1134.4L583.4 1133.4L583.6 1132.4L583.7 1131.4L583.9 1130.5L584.1 1129.5L584.3 1128.5L584.5 1127.5L584.7 1126.5L584.9 1125.6L585.1 1124.6L585.3 1123.6L585.5 1122.6L585.8 1121.7L586.0 1120.7L586.2 1119.7L586.4 1118.7L586.7 1117.8L586.9 1116.8L587.1 1115.8L587.4 1114.8L587.6 1113.9L587.8 1112.9L588.1 1111.9L588.4 1111.0L588.6 1110.0L588.9 1109.0L589.2 1108.1L589.6 1107.1L589.9 1106.2L590.3 1105.3L590.6 1104.4L591.0 1103.4L591.5 1102.5L591.9 1101.6L592.3 1100.7L592.8 1099.9L593.3 1099.0L593.8 1098.1L594.3 1097.3L594.9 1096.4L595.4 1095.6L596.0 1094.8L596.6 1094.0L597.3 1093.2L597.9 1092.5L598.6 1091.9L599.4 1091.5L600.1 1090.7L600.9 1089.3L601.6 1089.2L602.5 1088.2L603.3 1088.3L604.1 1087.4L605.0 1087.5L605.8 1086.8L606.7 1085.5L607.6 1085.2L608.5 1085.5L609.4 1084.5L610.3 1084.1L611.2 1083.7L612.1 1083.7L613.1 1083.6L614.0 1082.8L615.0 1083.6L615.9 1082.4L616.9 1081.0L617.9 1082.5L618.9 1081.4L619.8 1080.4L620.8 1082.5L621.8 1080.2L622.8 1081.5L623.8 1081.3L624.8 1082.3L625.8 1081.2L626.8 1080.9L627.8 1081.2L628.8 1081.3L629.7 1082.4L630.7 1082.4L631.6 1083.3L632.5 1083.1L633.3 1083.7L634.2 1084.2L635.0 1085.6L635.8 1086.0L636.6 1086.6L637.4 1086.9L638.3 1087.2L639.1 1087.5L639.9 1088.9L640.7 1089.0L641.6 1089.0L642.4 1089.7L643.3 1090.1L644.1 1091.4L645.0 1092.2L645.8 1091.8L646.7 1093.1L647.5 1093.1L648.4 1094.1L649.2 1094.8L650.0 1095.1L650.8 1095.9L651.6 1096.0L652.4 1096.1L653.2 1097.4L654.0 1098.1L654.8 1098.2L655.5 1099.1L656.3 1099.7L657.0 1100.0L657.7 1101.1L658.4 1101.9L659.1 1102.7L659.8 1103.4L660.5 1104.1L661.2 1104.9L661.9 1105.6L662.6 1106.3L663.2 1107.1L663.9 1107.8L664.6 1108.6L665.2 1109.4L665.8 1110.1L666.5 1110.9L667.1 1111.7L667.7 1112.5L668.3 1113.3L668.9 1114.1L669.5 1114.9L670.0 1115.7L670.6 1116.6L671.1 1117.4L671.7 1118.2L672.2 1119.1L672.7 1119.9L673.2 1120.8L673.7 1121.7L674.2 1122.5L674.7 1123.4L675.1 1124.3L675.6 1125.2L676.0 1126.1L676.4 1127.0L676.8 1127.9L677.2 1128.9L677.6 1129.8L678.0 1130.7L678.4 1131.6L678.8 1132.5L679.1 1133.5L679.5 1134.4L679.9 1135.3L680.2 1136.3L680.5 1137.2L680.9 1138.2L681.2 1139.1L681.6 1140.0L681.9 1141.0L682.2 1141.9L682.5 1142.9L682.8 1143.8L683.2 1144.8L683.5 1145.7L683.8 1146.7L684.0 1147.6L684.3 1148.6L684.6 1149.6L684.9 1150.5L685.2 1151.5L685.4 1152.5L685.7 1153.4L685.9 1154.4L686.2 1155.4L686.4 1156.3L686.7 1157.3L686.9 1158.3L687.1 1159.2L687.3 1160.2L687.6 1161.2L687.8 1162.2L688.0 1163.2L688.2 1164.1L688.4 1165.1L688.5 1166.1L688.7 1167.1L688.9 1168.1L689.1 1169.1L689.2 1170.0L689.4 1171.0L689.5 1172.0L689.7 1173.0L689.8 1174.0L689.9 1175.0L690.0 1176.0L690.1 1177.0L690.2 1178.0L690.3 1179.0L690.3 1180.0L690.4 1181.0L690.5 1182.0L690.5 1183.0L690.6 1184.0L690.6 1185.0L690.7 1186.0L690.7 1187.0L690.8 1188.0L690.8 1189.0L690.9 1190.0L690.9 1191.0L691.0 1192.0L691.0 1193.0L691.0 1194.0L691.1 1195.0L691.1 1196.0L691.1 1197.0L691.2 1198.0L691.2 1199.0L691.2 1199.9L691.2 1200.9L691.3 1201.9L691.3 1202.9L691.3 1203.9L691.3 1204.9L691.3 1205.9L691.3 1206.9L691.3 1207.9L691.3 1208.9L691.3 1209.9L691.3 1210.9L691.3 1211.9L691.3 1212.9L691.3 1213.9L691.3 1214.9L691.3 1215.9L691.3 1216.9L691.3 1217.9L691.3 1218.9L691.3 1219.9L691.3 1220.9L691.3 1221.9L691.3 1222.9L691.3 1223.9L691.3 1224.9L691.3 1225.9L691.3 1226.9L691.3 1227.9L691.3 1228.9L691.3 1229.9L691.3 1230.9L691.3 1231.9L691.3 1232.9L691.3 1233.9L691.3 1234.9L691.3 1235.9L691.3 1236.9L691.3 1237.9L691.3 1238.9L691.3 1239.9L691.3 1240.9L691.3 1241.9L691.3 1242.9L691.3 1243.9L691.3 1244.9L691.3 1245.9L691.3 1246.9L691.3 1247.9L691.3 1248.9L691.3 1249.9L691.3 1250.9L691.3 1251.9L691.3 1252.9L691.3 1253.9L691.3 1254.9L691.3 1255.9L691.3 1256.9L691.4 1257.9L691.4 1258.9L691.4 1259.9L691.4 1260.9L691.4 1261.9L691.4 1262.9L691.4 1263.9L691.4 1264.9L691.4 1265.9L691.4 1266.9L691.4 1267.9L691.4 1268.9L691.4 1269.9L691.4 1270.9L691.5 1271.9L691.5 1272.9L691.5 1273.9L691.5 1274.9L691.5 1275.9L691.5 1276.9L691.5 1277.9L691.5 1278.9L691.5 1279.9L691.5 1280.9L691.5 1281.9L691.5 1282.9L691.5 1283.9L691.5 1284.9L691.6 1285.9L691.6 1286.9L691.6 1287.9L691.6 1288.9L691.6 1289.9L691.6 1290.9L691.6 1291.9L691.6 1292.9L691.6 1293.9L691.6 1294.9L691.6 1295.9L691.6 1296.9L691.6 1297.9L691.7 1298.9L691.7 1299.9L691.7 1300.9L691.7 1301.9L691.7 1302.9L691.7 1303.9L691.7 1304.9L691.7 1305.9L691.7 1306.9L691.7 1307.9L691.7 1308.9L691.7 1309.9L691.7 1310.9L691.8 1311.9L691.8 1312.9L691.8 1313.9L691.8 1314.9L691.8 1315.9L691.8 1316.9L691.8 1317.9L691.8 1318.9L691.8 1319.9L691.8 1320.9L691.8 1321.9L691.8 1322.9L691.8 1323.9L691.9 1324.9L691.9 1325.9L691.9 1326.9L691.9 1327.9L691.9 1328.9L691.9 1329.9L691.9 1330.9L691.9 1331.9L691.9 1332.9L691.9 1333.9L691.9 1334.9L691.9 1335.9L692.0 1336.9L692.0 1337.9L692.0 1338.9L692.0 1339.9L692.0 1340.9L692.0 1341.9L692.0 1342.9L692.0 1343.9L692.0 1344.9L692.0 1345.9L692.0 1346.9L692.0 1347.9L692.1 1348.9L692.1 1349.9L692.1 1350.9L692.1 1351.9L692.1 1352.9L692.1 1353.9L692.1 1354.9L692.1 1355.9L692.1 1356.9L692.1 1357.9L692.1 1358.9L692.1 1359.9L692.2 1360.9L692.2 1361.9L692.2 1362.9L692.2 1363.9L692.2 1364.9L692.2 1365.9L692.2 1366.9L692.2 1367.9L692.2 1368.9L692.2 1369.9L692.2 1370.9L692.2 1371.9L692.3 1372.9L692.3 1373.9L692.3 1374.9L692.3 1375.9L692.3 1376.9L692.3 1377.9L692.3 1378.9L692.3 1379.9L692.3 1380.9L692.3 1381.9L692.3 1382.9L692.3 1383.9L692.4 1384.9L692.4 1385.9L692.4 1386.9L692.4 1387.9L692.4 1388.9L692.4 1389.9L692.4 1390.9L692.4 1391.9L692.4 1392.9L692.4 1393.9L692.4 1394.9L692.4 1395.9L692.5 1396.9L692.5 1397.9L692.5 1398.9L692.5 1399.9L692.5 1400.9L692.5 1401.9L692.5 1402.9L692.5 1403.9L692.5 1404.9L692.5 1405.9L692.5 1406.9L692.6 1407.9L692.6 1408.9L692.6 1409.9L692.6 1410.9L692.6 1411.9L692.6 1412.9L692.6 1413.9L692.6 1414.9L692.6 1415.9L692.6 1416.9L692.6 1417.9L692.6 1418.9L692.7 1419.9L692.7 1420.9L692.7 1421.9L692.7 1422.9L692.7 1423.9L692.7 1424.9L692.7 1425.9L692.7 1426.9L692.7 1427.9L692.7 1428.9L692.7 1429.9L692.8 1430.9L692.8 1431.9L692.8 1432.9L692.8 1433.9L692.8 1434.9L692.8 1435.9L692.8 1436.9L692.8 1437.9L692.8 1438.9L692.8 1439.9L692.9 1440.9L692.9 1441.9L692.9 1442.9L692.9 1443.9L692.9 1444.9L692.9 1445.9L692.9 1446.9L692.9 1447.9L692.9 1448.9L692.9 1449.9L692.9 1450.9L692.9 1451.9L693.0 1452.9L693.0 1453.9L693.0 1454.9L693.0 1455.9L693.0 1456.9L693.0 1457.9L693.0 1458.9L693.0 1459.9L693.0 1460.9L693.0 1461.9L693.0 1462.9L693.1 1463.9L693.1 1464.9L693.1 1465.9L693.1 1466.9L693.1 1467.9L693.1 1468.9L693.1 1469.9L693.1 1470.9L693.1 1471.9L693.1 1472.9L693.1 1473.9L693.1 1474.9L693.2 1475.9L693.2 1476.9L693.2 1477.9L693.2 1478.9L693.2 1479.9L693.2 1480.9L693.2 1481.9L693.2 1482.9L693.2 1483.9L693.2 1484.9L693.2 1485.9L693.3 1486.9L693.3 1487.9L693.3 1488.9L693.3 1489.9L693.3 1490.9L693.3 1491.9L693.3 1492.9L693.3 1493.9L693.3 1494.9L693.3 1495.9L693.3 1496.9L693.4 1497.9L693.4 1498.9L693.4 1499.9L693.4 1500.9L693.4 1501.9L693.4 1502.9L693.4 1503.9L693.4 1504.9L693.4 1505.9L693.4 1506.9L693.4 1507.9L693.4 1508.9L693.5 1509.9L693.5 1510.9L693.5 1511.9L693.5 1512.9L693.5 1513.9L693.5 1514.9L693.5 1515.9L693.5 1516.9L693.5 1517.9L693.5 1518.9L693.6 1519.9L693.6 1520.9L693.6 1521.9L693.6 1522.9L693.6 1523.9L693.6 1524.9L693.6 1525.9L693.6 1526.9L693.6 1527.9L693.6 1528.9L693.6 1529.9L693.7 1530.9L693.7 1531.9L693.7 1532.9L693.7 1533.9L693.7 1534.9L693.7 1535.9L693.7 1536.9L693.7 1537.9L693.7 1538.9L693.7 1539.9L693.8 1540.9L693.8 1541.9L693.8 1542.9L693.8 1543.9L693.8 1544.9L693.8 1545.9L693.8 1546.9L693.8 1547.9L693.8 1548.9L693.9 1549.9L693.9 1550.9L693.9 1551.9L693.9 1552.9L693.9 1553.9L693.9 1554.9L693.9 1555.9L693.9 1556.9L693.9 1557.9L694.0 1558.9L694.0 1559.9L694.0 1560.9L694.0 1561.9L694.0 1562.9L694.0 1563.9L694.0 1564.9L694.0 1565.9L694.1 1566.9L694.1 1567.9L694.1 1568.9L694.1 1569.9L694.1 1570.9L694.1 1571.9L694.1 1572.9L694.1 1573.9L694.2 1574.9L694.2 1575.9L694.2 1576.9L694.2 1577.9L694.2 1578.9L694.2 1579.9L694.2 1580.9L694.3 1581.9L694.3 1582.9L694.3 1583.9L694.3 1584.9L694.3 1585.9L694.3 1586.9L694.3 1587.9L694.4 1588.9L694.4 1589.9L694.4 1590.9L694.4 1591.9L694.4 1592.9L694.4 1593.9L694.4 1594.9L694.5 1595.9L694.5 1596.9L694.5 1597.9L694.5 1598.9L694.5 1599.9L694.5 1600.9L694.6 1601.9L694.6 1602.9L694.6 1603.9L694.6 1604.9L694.6 1605.9L694.6 1606.9L694.6 1607.9L694.7 1608.9L694.7 1609.9L694.7 1610.9L694.7 1611.9L694.7 1612.9L694.7 1613.9L694.7 1614.9L694.8 1615.9L694.8 1616.9L694.8 1617.9L694.8 1618.9L694.8 1619.9L694.8 1620.9L694.8 1621.9L694.9 1622.9L694.9 1623.9L694.9 1624.9L694.9 1625.9L694.9 1626.9L694.9 1627.9L694.9 1628.9L694.9 1629.9L695.0 1630.9L695.0 1631.9L695.0 1632.9L695.0 1633.9L695.0 1634.9L695.0 1635.9L695.0 1636.9L695.1 1637.9L695.1 1638.9L695.1 1639.9L695.1 1640.9L695.1 1641.9L695.1 1642.9L695.1 1643.9L695.2 1644.9L695.2 1645.9L695.2 1646.9L695.2 1647.9L695.2 1648.9L695.2 1649.9L695.3 1650.9L695.3 1651.9L695.3 1652.9L695.3 1653.9L695.3 1654.9L695.3 1655.9L695.4 1656.9L695.4 1657.9L695.4 1658.9L695.4 1659.9L695.4 1660.9L695.5 1661.9L695.5 1662.9L695.5 1663.9L695.5 1664.9L695.5 1665.9L695.6 1666.9L695.6 1667.9L695.6 1668.9L695.6 1669.9L695.7 1670.9L695.7 1671.9L695.7 1672.9L695.7 1673.9L695.8 1674.9L695.8 1675.9L695.8 1676.9L695.9 1677.9L695.9 1678.9L695.9 1679.9L696.0 1680.9L696.0 1681.9L696.0 1682.9L696.1 1683.9L696.1 1684.9L696.2 1685.9L696.2 1686.9L696.2 1687.9L696.3 1688.9L696.3 1689.9L696.4 1690.9L696.5 1691.9L696.5 1692.9L696.6 1693.9L696.6 1694.9L696.7 1695.9L696.8 1696.9L696.8 1697.9L696.9 1698.9L697.0 1699.9L697.0 1700.9L697.1 1701.9L697.2 1702.9L697.3 1703.9L697.4 1704.9L697.4 1705.9L697.5 1706.9L697.6 1707.9L697.7 1708.9L697.8 1709.9L697.9 1710.8L698.1 1711.8L698.2 1712.8L698.3 1713.8L698.5 1714.8L698.7 1715.8L698.9 1716.8L699.1 1717.8L699.3 1718.7L699.5 1719.7L699.8 1720.7L700.1 1721.6L700.4 1722.6L700.8 1723.4L701.3 1723.7L701.9 1724.5L702.7 1723.8L703.5 1723.9L704.2 1724.0L704.9 1723.2L705.5 1722.5L706.0 1721.6L706.5 1720.8L706.9 1719.9L707.3 1718.9L707.6 1718.0L708.0 1717.0L708.2 1716.1L708.5 1715.1L708.8 1714.2L709.0 1713.2L709.3 1712.2L709.5 1711.3L709.8 1710.3L710.0 1709.3L710.2 1708.3L710.5 1707.4L710.7 1706.4L710.9 1705.4L711.1 1704.4L711.4 1703.5L711.6 1702.5L711.8 1701.5L712.1 1700.6L712.3 1699.6L712.6 1698.6L712.8 1697.7L713.1 1696.7L713.4 1695.7L713.6 1694.8L713.9 1693.8L714.1 1692.8L714.4 1691.9L714.6 1690.9L714.9 1689.9L715.2 1689.0L715.4 1688.0L715.7 1687.0L715.9 1686.0L716.1 1685.1L716.4 1684.1L716.6 1683.1L716.9 1682.2L717.1 1681.2L717.3 1680.2L717.6 1679.3L717.8 1678.3L718.0 1677.3L718.2 1676.3L718.4 1675.3L718.7 1674.4L718.9 1673.4L719.1 1672.4L719.3 1671.4L719.4 1670.4L719.6 1669.5L719.8 1668.5L720.0 1667.5L720.2 1666.5L720.4 1665.5L720.5 1664.5L720.7 1663.6L720.9 1662.6L721.0 1661.6L721.2 1660.6L721.4 1659.6L721.5 1658.6L721.7 1657.6L721.8 1656.7L722.0 1655.7L722.1 1654.7L722.2 1653.7L722.4 1652.7L722.5 1651.7L722.6 1650.7L722.8 1649.7L722.9 1648.7L723.0 1647.7L723.2 1646.7L723.3 1645.8L723.4 1644.8L723.5 1643.8L723.6 1642.8L723.7 1641.8L723.9 1640.8L724.0 1639.8L724.1 1638.8L724.2 1637.8L724.3 1636.8L724.4 1635.8L724.5 1634.8L724.5 1633.8L724.6 1632.8L724.7 1631.8L724.8 1630.8L724.9 1629.8L724.9 1628.8L725.0 1627.8L725.1 1626.8L725.1 1625.8L725.2 1624.8L725.3 1623.8L725.3 1622.8L725.4 1621.8L725.4 1620.8L725.5 1619.8L725.5 1618.9L725.5 1617.9L725.6 1616.9L725.6 1615.9L725.7 1614.9L725.7 1613.9L725.7 1612.9L725.7 1611.9L725.8 1610.9L725.8 1609.9L725.8 1608.9L725.8 1607.9L725.8 1606.9L725.9 1605.9L725.9 1604.9L725.9 1603.9L725.9 1602.9L725.9 1601.9L725.9 1600.9L725.9 1599.9L725.9 1598.9L725.9 1597.9L725.9 1596.9L726.0 1595.9L726.0 1594.9L726.0 1593.9L726.0 1592.9L726.0 1591.9L726.0 1590.9L726.0 1589.9L726.0 1588.9L726.0 1587.9L726.0 1586.9L726.0 1585.9L726.0 1584.9L726.0 1583.9L726.0 1582.9L726.0 1581.9L726.0 1580.9L726.0 1579.9L726.0 1578.9L726.0 1577.9L726.0 1576.9L726.0 1575.9L726.0 1574.9L726.0 1573.9L726.0 1572.9L726.1 1571.9L726.1 1570.9L726.1 1569.9L726.1 1568.9L726.1 1567.9L726.1 1566.9L726.1 1565.9L726.1 1564.9L726.1 1563.9L726.1 1562.9L726.1 1561.9L726.1 1560.9L726.2 1559.9L726.2 1558.9L726.2 1557.9L726.2 1556.9L726.2 1555.9L726.2 1554.9L726.2 1553.9L726.2 1552.9L726.2 1551.9L726.2 1550.9L726.2 1549.9L726.3 1548.9L726.3 1547.9L726.3 1546.9L726.3 1545.9L726.3 1544.9L726.3 1543.9L726.3 1542.9L726.3 1541.9L726.3 1540.9L726.3 1539.9L726.3 1538.9L726.3 1537.9L726.3 1536.9L726.4 1535.9L726.4 1534.9L726.4 1533.9L726.4 1532.9L726.4 1531.9L726.4 1530.9L726.4 1529.9L726.4 1528.9L726.4 1527.9L726.4 1526.9L726.4 1525.9L726.4 1524.9L726.4 1523.9L726.5 1522.9L726.5 1521.9L726.5 1520.9L726.5 1519.9L726.5 1518.9L726.5 1517.9L726.5 1516.9L726.5 1515.9L726.5 1514.9L726.5 1513.9L726.5 1512.9L726.5 1511.9L726.5 1510.9L726.5 1509.9L726.5 1508.9L726.6 1507.9L726.6 1506.9L726.6 1505.9L726.6 1504.9L726.6 1503.9L726.6 1502.9L726.6 1501.9L726.6 1500.9L726.6 1499.9L726.6 1498.9L726.6 1497.9L726.6 1496.9L726.6 1495.9L726.6 1494.9L726.6 1493.9L726.7 1492.9L726.7 1491.9L726.7 1490.9L726.7 1489.9L726.7 1488.9L726.7 1487.9L726.7 1486.9L726.7 1485.9L726.7 1484.9L726.7 1483.9L726.7 1482.9L726.7 1481.9L726.7 1480.9L726.7 1479.9L726.7 1478.9L726.7 1477.9L726.8 1476.9L726.8 1475.9L726.8 1474.9L726.8 1473.9L726.8 1472.9L726.8 1471.9L726.8 1470.9L726.8 1469.9L726.8 1468.9L726.8 1467.9L726.8 1466.9L726.8 1465.9L726.8 1464.9L726.8 1463.9L726.8 1462.9L726.8 1461.9L726.8 1460.9L726.9 1459.9L726.9 1458.9L726.9 1457.9L726.9 1456.9L726.9 1455.9L726.9 1454.9L726.9 1453.9L726.9 1452.9L726.9 1451.9L726.9 1450.9L726.9 1449.9L726.9 1448.9L726.9 1447.9L726.9 1446.9L726.9 1445.9L726.9 1444.9L726.9 1443.9L727.0 1442.9L727.0 1441.9L727.0 1440.9L727.0 1439.9L727.0 1438.9L727.0 1437.9L727.0 1436.9L727.0 1435.9L727.0 1434.9L727.0 1433.9L727.0 1432.9L727.0 1431.9L727.0 1430.9L727.0 1429.9L727.0 1428.9L727.0 1427.9L727.0 1426.9L727.1 1425.9L727.1 1424.9L727.1 1423.9L727.1 1422.9L727.1 1421.9L727.1 1420.9L727.1 1419.9L727.1 1418.9L727.1 1417.9L727.1 1416.9L727.1 1415.9L727.1 1414.9L727.1 1413.9L727.1 1412.9L727.1 1411.9L727.1 1410.9L727.1 1409.9L727.1 1408.9L727.1 1407.9L727.1 1406.9L727.2 1405.9L727.2 1404.9L727.2 1403.9L727.2 1402.9L727.2 1401.9L727.2 1400.9L727.2 1399.9L727.2 1398.9L727.2 1397.9L727.2 1396.9L727.2 1395.9L727.2 1394.9L727.2 1393.9L727.2 1392.9L727.2 1391.9L727.2 1390.9L727.2 1389.9L727.2 1388.9L727.2 1387.9L727.2 1386.9L727.2 1385.9L727.2 1384.9L727.2 1383.9L727.2 1382.9L727.2 1381.9L727.3 1380.9L727.3 1379.9L727.3 1378.9L727.3 1377.9L727.3 1376.9L727.3 1375.9L727.3 1374.9L727.3 1373.9L727.3 1372.9L727.3 1371.9L727.3 1370.9L727.3 1369.9L727.3 1368.9L727.3 1367.9L727.3 1366.9L727.3 1365.9L727.3 1364.9L727.3 1363.9L727.3 1362.9L727.3 1361.9L727.3 1360.9L727.3 1359.9L727.3 1358.9L727.3 1357.9L727.3 1356.9L727.3 1355.9L727.3 1354.9L727.4 1353.9L727.4 1352.9L727.4 1351.9L727.4 1350.9L727.4 1349.9L727.4 1348.9L727.4 1347.9L727.4 1346.9L727.4 1345.9L727.4 1344.9L727.4 1343.9L727.4 1342.9L727.4 1341.9L727.4 1340.9L727.4 1339.9L727.4 1338.9L727.4 1337.9L727.4 1336.9L727.4 1335.9L727.4 1334.9L727.4 1333.9L727.4 1332.9L727.4 1331.9L727.4 1330.9L727.4 1329.9L727.4 1328.9L727.5 1327.9L727.5 1326.9L727.5 1325.9L727.5 1324.9L727.5 1323.9L727.5 1322.9L727.5 1321.9L727.5 1320.9L727.5 1319.9L727.5 1318.9L727.5 1317.9L727.5 1316.9L727.5 1315.9L727.5 1314.9L727.5 1313.9L727.5 1312.9L727.5 1311.9L727.5 1310.9L727.5 1309.9L727.5 1308.9L727.5 1307.9L727.5 1306.9L727.5 1305.9L727.5 1304.9L727.6 1303.9L727.6 1302.9L727.6 1301.9L727.6 1300.9L727.6 1299.9L727.6 1298.9L727.6 1297.9L727.6 1296.9L727.6 1295.9L727.6 1294.9L727.6 1293.9L727.6 1292.9L727.6 1291.9L727.6 1290.9L727.6 1289.9L727.6 1288.9L727.6 1287.9L727.6 1286.9L727.6 1285.9L727.6 1284.9L727.7 1283.9L727.7 1282.9L727.7 1281.9L727.7 1280.9L727.7 1279.9L727.7 1278.9L727.7 1277.9L727.7 1276.9L727.7 1275.9L727.7 1274.9L727.7 1273.9L727.7 1272.9L727.7 1271.9L727.7 1270.9L727.7 1269.9L727.7 1268.9L727.8 1267.9L727.8 1266.9L727.8 1265.9L727.8 1264.9L727.8 1263.9L727.8 1262.9L727.8 1261.9L727.8 1260.9L727.8 1259.9L727.8 1258.9L727.8 1257.9L727.8 1256.9L727.8 1255.9L727.9 1254.9L727.9 1253.9L727.9 1252.9L727.9 1251.9L727.9 1250.9L727.9 1249.9L727.9 1248.9L727.9 1247.9L727.9 1246.9L727.9 1245.9L727.9 1244.9L728.0 1243.9L728.0 1242.9L728.0 1241.9L728.0 1240.9L728.0 1239.9L728.0 1238.9L728.0 1237.9L728.0 1236.9L728.1 1235.9L728.1 1234.9L728.1 1233.9L728.1 1232.9L728.1 1231.9L728.1 1230.9L728.1 1229.9L728.2 1228.9L728.2 1227.9L728.2 1226.9L728.2 1225.9L728.2 1224.9L728.2 1223.9L728.3 1222.9L728.3 1221.9L728.3 1220.9L728.3 1219.9L728.3 1218.9L728.4 1217.9L728.4 1216.9L728.4 1215.9L728.4 1214.9L728.5 1213.9L728.5 1212.9L728.5 1211.9L728.5 1210.9L728.5 1209.9L728.6 1208.9L728.6 1207.9L728.6 1206.9L728.6 1205.9L728.7 1204.9L728.7 1203.9L728.7 1202.9L728.7 1201.9L728.7 1200.9L728.8 1199.9L728.8 1198.9L728.8 1197.9L728.8 1196.9L728.8 1195.9L728.9 1194.9L728.9 1193.9L728.9 1192.9L728.9 1191.9L728.9 1190.9L729.0 1189.9L729.0 1188.9L729.0 1187.9L729.0 1186.9L729.0 1185.9L729.0 1184.9L729.0 1183.9L729.1 1182.9L729.1 1181.9L729.1 1180.9L729.1 1179.9L729.1 1178.9L729.1 1177.9L729.1 1176.9L729.2 1175.9L729.2 1174.9L729.2 1173.9L729.2 1172.9L729.2 1171.9L729.2 1170.9L729.2 1169.9L729.2 1168.9L729.3 1167.9L729.3 1166.9L729.3 1165.9L729.3 1164.9L729.3 1163.9L729.3 1162.9L729.4 1161.9L729.4 1160.9L729.4 1159.9L729.4 1158.9L729.4 1157.9L729.4 1156.9L729.5 1155.9L729.5 1154.9L729.5 1153.9L729.5 1152.9L729.5 1151.9L729.5 1150.9L729.6 1149.9L729.6 1148.9L729.6 1147.9L729.6 1146.9L729.7 1145.9L729.7 1144.9L729.7 1143.9L729.7 1142.9L729.8 1141.9L729.8 1140.9L729.8 1139.9L729.8 1138.9L729.9 1137.9L729.9 1136.9L729.9 1135.9L730.0 1134.9L730.0 1133.9L730.0 1132.9L730.0 1131.9L730.1 1130.9L730.1 1129.9L730.1 1128.9L730.2 1127.9L730.2 1126.9L730.2 1125.9L730.3 1124.9L730.3 1123.9L730.3 1122.9L730.3 1121.9L730.4 1120.9L730.4 1119.9L730.4 1118.9L730.5 1117.9L730.5 1116.9L730.5 1115.9L730.6 1114.9L730.6 1113.9L730.6 1112.9L730.7 1111.9L730.7 1110.9L730.7 1109.9L730.8 1108.9L730.8 1107.9L730.8 1106.9L730.9 1105.9L730.9 1104.9L730.9 1103.9L730.9 1102.9L731.0 1101.9L731.0 1100.9L731.0 1099.9L731.0 1098.9L731.1 1097.9L731.1 1096.9L731.1 1095.9L731.2 1094.9L731.2 1093.9L731.2 1092.9L731.3 1091.9L731.3 1090.9L731.4 1089.9L731.4 1088.9L731.5 1087.9L731.6 1086.9L731.6 1085.9L731.7 1084.9L731.7 1083.9L731.8 1082.9L731.9 1081.9L731.9 1080.9L732.0 1079.9L732.1 1078.9L732.1 1077.9L732.2 1076.9L732.3 1075.9L732.3 1074.9L732.4 1073.9L732.5 1072.9L732.5 1071.9L732.6 1070.9L732.7 1070.0L732.8 1069.0L732.9 1068.0L733.0 1067.0L733.2 1066.0L733.3 1065.0L733.4 1064.0L733.6 1063.0L733.8 1062.0L734.0 1061.1L734.2 1060.1L734.5 1059.1L734.8 1058.2L735.1 1057.2L735.5 1056.3L735.8 1055.4L736.3 1054.4L736.7 1053.6L737.2 1052.7L737.8 1051.9L738.4 1051.1L739.1 1050.2L739.8 1050.3L740.6 1048.7L741.4 1049.1L742.3 1048.6L743.2 1048.0L744.2 1046.9L745.1 1047.7L746.1 1048.0L747.1 1047.1L748.1 1046.1L749.1 1047.0L750.1 1047.8L751.1 1046.9L752.1 1045.9L753.1 1046.0L754.1 1047.1L755.1 1045.7L756.1 1045.6L757.1 1046.5L758.1 1046.2L759.1 1046.8L760.1 1045.7L761.1 1046.9L762.1 1047.1L763.1 1046.3L764.1 1046.9L765.1 1046.7L766.1 1047.3L767.1 1046.8L768.1 1046.9L769.1 1046.8L770.1 1047.4L771.1 1045.6L772.1 1045.6L773.1 1047.4L774.1 1047.3L775.1 1045.3L776.1 1047.4L777.1 1046.7L778.1 1047.3L779.1 1046.9L780.1 1046.1L781.1 1045.5L782.1 1047.1L783.1 1046.9L784.1 1046.3L785.1 1045.9L786.1 1046.1L787.1 1047.4L788.1 1046.3L789.1 1045.7L790.1 1047.5L791.1 1047.5L792.1 1045.6L793.1 1045.7L794.1 1046.9L795.1 1046.1L796.1 1046.3L797.1 1046.9L798.1 1045.9L799.1 1046.7L800.1 1045.8L801.1 1045.8L802.1 1046.6L803.1 1046.4L804.1 1047.5L805.1 1045.7L806.1 1047.6L807.1 1046.1L808.1 1046.3L809.1 1045.8L810.1 1046.3L811.1 1048.0L812.1 1046.5L813.1 1047.7L814.1 1048.1L815.1 1047.4L816.1 1046.3L817.1 1046.9L818.1 1046.3L819.1 1046.6L820.1 1046.9L821.1 1046.5L822.1 1047.8L823.1 1047.5L824.1 1047.0L825.1 1047.0L826.1 1046.8L827.1 1046.8L828.1 1047.7L829.0 1046.9L830.0 1048.1L831.0 1047.5L832.0 1048.9L833.0 1047.8L834.0 1049.3L835.0 1049.7L836.0 1049.8L837.0 1048.3L838.0 1050.2L838.9 1049.3L839.9 1050.5L840.9 1049.7L841.9 1050.0L842.9 1049.5L843.9 1050.8L844.9 1050.0L845.8 1051.3L846.8 1051.0L847.8 1050.3L848.8 1049.3L849.8 1049.9L850.8 1050.2L851.8 1050.0L852.8 1050.5L853.8 1049.0L854.8 1050.0L855.8 1050.9L856.8 1050.9L857.8 1050.2L858.8 1050.0L859.8 1049.7L860.8 1050.5L861.8 1049.9L862.8 1048.9L863.7 1048.9L864.7 1049.8L865.7 1048.8L866.7 1048.7L867.7 1047.9L868.7 1048.7L869.7 1048.1L870.7 1049.1L871.7 1049.2L872.7 1049.0L873.7 1048.8L874.7 1046.5L875.7 1046.5L876.7 1047.1L877.7 1048.2L878.7 1047.5L879.7 1046.7L880.7 1046.4L881.7 1046.7L882.7 1046.5L883.7 1046.6L884.7 1048.1L885.7 1046.8L886.7 1046.8L887.6 1048.0L888.6 1046.9L889.6 1048.7L890.6 1048.3L891.6 1049.0L892.6 1048.7L893.6 1048.8L894.6 1047.8L895.6 1048.3L896.6 1048.3L897.6 1048.4L898.6 1049.7L899.6 1048.7L900.6 1049.6L901.6 1049.3L902.6 1048.1L903.6 1048.5L904.6 1049.5L905.6 1050.0L906.6 1048.8L907.6 1048.9L908.6 1049.3L909.6 1049.5L910.6 1049.5L911.6 1050.8L912.6 1050.1L913.6 1049.4L914.6 1049.6L915.5 1050.0L916.5 1049.3L917.5 1049.9L918.5 1049.2L919.5 1050.7L920.5 1051.3L921.5 1051.4L922.5 1050.8L923.5 1050.3L924.5 1050.8L925.5 1050.9L926.5 1050.1L927.5 1051.1L928.5 1051.1L929.5 1050.4L930.5 1051.1L931.5 1052.2L932.5 1051.8L933.5 1051.1L934.5 1051.0L935.5 1052.1L936.5 1052.0L937.5 1051.5L938.5 1052.0L939.4 1052.0L940.4 1052.6L941.4 1053.3L942.4 1052.2L943.4 1052.7L944.4 1052.9L945.4 1053.3L946.4 1052.4L947.4 1052.5L948.4 1054.3L949.4 1052.5L950.4 1053.9L951.4 1053.1L952.4 1053.7L953.3 1053.8L954.3 1053.4L955.3 1053.4L956.3 1055.4L957.3 1053.3L958.3 1053.7L959.3 1055.3L960.3 1054.5L961.3 1054.2L962.3 1055.8L963.3 1056.4L964.2 1054.7L965.2 1056.0L966.2 1055.4L967.2 1057.0L968.2 1056.1L969.2 1057.0L970.2 1056.6L971.2 1055.4L972.2 1056.3L973.2 1057.1L974.1 1055.9L975.1 1055.9L976.1 1058.2L977.1 1058.2L978.1 1057.7L979.1 1056.4L980.1 1058.0L981.1 1058.9L982.1 1058.5L983.1 1058.5L984.1 1057.9L985.1 1058.5L986.0 1059.3L987.0 1058.4L988.0 1057.5L989.0 1057.7L990.0 1059.8L991.0 1059.3L992.0 1059.9L993.0 1058.1L994.0 1058.1L995.0 1059.6L996.0 1059.1L997.0 1059.2L998.0 1058.7L999.0 1060.1L1000.0 1060.2L1001.0 1060.1L1002.0 1059.5L1003.0 1059.7L1004.0 1059.5L1005.0 1059.7L1006.0 1059.4L1007.0 1059.8L1008.0 1061.0L1009.0 1060.6L1010.0 1059.0L1011.0 1060.3L1012.0 1060.6L1013.0 1059.5L1014.0 1060.8L1015.0 1060.9L1016.0 1058.7L1017.0 1060.0L1018.0 1059.4L1019.0 1059.6L1020.0 1059.7L1021.0 1060.4L1022.0 1059.8L1023.0 1060.3L1024.0 1058.7L1025.0 1059.9L1026.0 1058.8L1027.0 1058.2L1027.9 1059.6L1028.9 1059.0L1029.9 1058.0L1030.9 1059.5L1031.9 1058.4L1032.9 1058.7L1033.9 1059.3L1034.9 1057.6L1035.9 1058.0L1036.9 1057.8L1037.9 1057.1L1038.8 1057.5L1039.8 1058.4L1040.8 1057.6L1041.8 1056.4L1042.8 1057.2L1043.8 1056.8L1044.8 1056.1L1045.7 1056.6L1046.7 1055.7L1047.7 1056.5L1048.7 1055.3L1049.7 1056.2L1050.6 1054.7L1051.6 1054.2L1052.6 1054.3L1053.6 1053.6L1054.5 1055.2L1055.5 1055.2L1056.5 1053.5L1057.4 1052.9L1058.4 1054.1L1059.3 1053.8L1060.3 1052.0L1061.3 1051.9L1062.2 1052.1L1063.2 1050.9L1064.1 1050.8L1065.1 1051.0L1066.1 1050.0L1067.0 1049.8L1068.0 1050.7L1069.0 1049.7L1069.9 1050.9L1070.9 1050.8L1071.9 1049.9L1072.8 1048.7L1073.8 1049.6L1074.8 1048.4L1075.8 1049.4L1076.7 1048.1L1077.7 1048.5L1078.7 1048.5L1079.7 1048.1L1080.6 1048.0L1081.6 1046.8L1082.6 1046.2L1083.6 1046.5L1084.6 1047.8L1085.5 1045.4L1086.5 1045.8L1087.5 1045.7L1088.5 1045.9L1089.5 1046.8L1090.5 1045.0L1091.5 1044.7L1092.5 1044.5L1093.5 1045.2L1094.5 1046.0L1095.5 1045.3L1096.5 1045.8L1097.5 1045.4L1098.5 1045.0L1099.5 1045.2L1100.5 1044.3L1101.5 1046.5L1102.5 1046.0L1103.5 1044.5L1104.5 1044.7L1105.5 1046.2L1106.5 1045.5L1107.5 1046.1L1108.5 1046.2L1109.5 1044.7L1110.5 1046.4L1111.5 1044.9L1112.5 1044.8L1113.5 1046.3L1114.5 1046.4L1115.5 1045.2L1116.5 1045.4L1117.5 1046.3L1118.5 1045.2L1119.5 1045.5L1120.5 1046.8L1121.5 1044.8L1122.5 1046.7L1123.5 1046.6L1124.5 1046.8L1125.5 1045.0L1126.5 1044.9L1127.5 1045.4L1128.5 1044.8L1129.5 1046.6L1130.5 1045.7L1131.5 1046.3L1132.5 1045.5L1133.5 1045.5L1134.5 1046.6L1135.5 1044.6L1136.5 1044.8L1137.5 1046.3L1138.5 1045.7L1139.5 1046.1L1140.5 1046.6L1141.5 1046.1L1142.5 1045.7L1143.5 1046.0L1144.5 1045.5L1145.5 1044.7L1146.5 1045.0L1147.5 1046.4L1148.5 1045.5L1149.5 1044.3L1150.5 1045.7L1151.5 1046.6L1152.5 1045.7L1153.5 1045.4L1154.5 1045.3L1155.5 1045.7L1156.5 1045.7L1157.5 1045.4L1158.5 1046.4L1159.5 1046.4L1160.5 1046.1L1161.5 1046.0L1162.5 1046.0L1163.5 1044.7L1164.5 1045.4L1165.5 1044.9L1166.5 1044.8L1167.5 1046.6L1168.5 1044.9L1169.5 1046.3L1170.5 1046.3L1171.5 1045.3L1172.5 1044.4L1173.5 1044.8L1174.5 1045.9L1175.5 1046.1L1176.5 1045.2L1177.5 1045.8L1178.5 1044.8L1179.5 1046.0L1180.5 1046.3L1181.5 1046.3L1182.5 1045.8L1183.5 1045.8L1184.5 1044.4L1185.5 1045.1L1186.5 1045.4L1187.5 1044.6L1188.5 1044.6L1189.5 1046.8L1190.5 1046.1L1191.5 1045.8L1192.5 1046.1L1193.5 1046.6L1193.8 1045.7" fill="none" stroke="#27A6DB" stroke-width="5.8" stroke-linejoin="round" stroke-dasharray="9 17.7" stroke-linecap="round"/>
</g>
<text class="se" x="513.3" y="1921.8" font-size="45">Temperature(<tspan font-size="52" dx="-1.35" dy="3.3">°</tspan><tspan dx="-3.55" dy="-3.3">C</tspan><tspan dx="-1">)</tspan></text>
<text class="se" transform="translate(126.5 1612.9) rotate(-90)" font-size="45" textLength="453.6" lengthAdjust="spacing">Derivative mass/%·<tspan dx="-1">°</tspan><tspan dx="-4">C</tspan><tspan dy="-20">-1</tspan></text>
<text class="se" x="35.5" y="1090.2" font-size="67">(b)</text>
<line x1="176.8" y1="1241.0" x2="259.1" y2="1241.0" stroke="#FD8E2A" stroke-width="6" stroke-dasharray="9.4 17.3" stroke-linecap="round"/>
<text class="se" x="271.3" y="1255.8" font-size="45">AP/HTPB</text>
<line x1="176.8" y1="1296.8" x2="259.1" y2="1296.8" stroke="#FA351C" stroke-width="6" stroke-dasharray="9.4 17.3" stroke-linecap="round"/>
<text class="se" x="271.3" y="1311.6" font-size="45">MOF-235/AP/HTPB</text>
<line x1="176.8" y1="1353.0" x2="259.1" y2="1353.0" stroke="#27A6DB" stroke-width="6" stroke-dasharray="9.4 17.3" stroke-linecap="round"/>
<text class="se" x="271.3" y="1366.7" font-size="45">Fe-MOF/AP/HTPB</text>
</g>
<g id="pc">
<rect x="1364.5" y="20.5" width="1033.2" height="828.9" fill="none" stroke="#000" stroke-width="5.5"/>
<line x1="1504.1" y1="849.4" x2="1504.1" y2="864.7" stroke="#000" stroke-width="5.5"/>
<line x1="1783.3" y1="849.4" x2="1783.3" y2="864.7" stroke="#000" stroke-width="5.5"/>
<line x1="2062.6" y1="849.4" x2="2062.6" y2="864.7" stroke="#000" stroke-width="5.5"/>
<line x1="2341.8" y1="849.4" x2="2341.8" y2="864.7" stroke="#000" stroke-width="5.5"/>
<line x1="1643.7" y1="849.4" x2="1643.7" y2="856.9" stroke="#000" stroke-width="5.5"/>
<line x1="1922.9" y1="849.4" x2="1922.9" y2="856.9" stroke="#000" stroke-width="5.5"/>
<line x1="2202.2" y1="849.4" x2="2202.2" y2="856.9" stroke="#000" stroke-width="5.5"/>
<text class="sa" transform="translate(1504.1 905.0) scale(0.955 1)" font-size="38.7" text-anchor="middle">200</text>
<text class="sa" transform="translate(1783.3 905.0) scale(0.955 1)" font-size="38.7" text-anchor="middle">300</text>
<text class="sa" transform="translate(2062.6 905.0) scale(0.955 1)" font-size="38.7" text-anchor="middle">400</text>
<text class="sa" transform="translate(2341.8 905.0) scale(0.955 1)" font-size="38.7" text-anchor="middle">500</text>
<line x1="1364.5" y1="849.4" x2="1364.5" y2="856.9" stroke="#000" stroke-width="5.5"/>
<clipPath id="cc"><rect x="1364.5" y="0" width="1033.1999999999998" height="900"/></clipPath>
<g clip-path="url(#cc)">
<path d="M1365.1 639.6L1367.1 639.3L1369.1 639.0L1371.0 638.7L1373.0 638.4L1375.0 638.0L1377.0 637.7L1378.9 637.4L1380.9 637.1L1382.9 636.8L1384.9 636.5L1386.8 636.2L1388.8 635.9L1390.8 635.6L1392.8 635.4L1394.8 635.1L1396.7 634.9L1398.7 634.6L1400.7 634.4L1402.7 634.2L1404.7 634.0L1406.7 633.8L1408.7 633.6L1410.7 633.4L1412.7 633.3L1414.7 633.1L1416.6 632.9L1418.6 632.8L1420.6 632.6L1422.6 632.5L1424.6 632.3L1426.6 632.2L1428.6 632.1L1430.6 631.9L1432.6 631.8L1434.6 631.7L1436.6 631.6L1438.6 631.5L1440.6 631.4L1442.6 631.3L1444.6 631.2L1446.6 631.1L1448.6 631.0L1450.6 631.0L1452.6 630.9L1454.6 630.9L1456.6 630.8L1458.6 630.8L1460.6 630.7L1462.6 630.7L1464.6 630.7L1466.6 630.7L1468.6 630.7L1470.6 630.7L1472.6 630.8L1474.6 630.8L1476.6 630.8L1478.6 630.9L1480.6 630.9L1482.6 631.0L1484.6 631.1L1486.6 631.2L1488.6 631.3L1490.6 631.3L1492.6 631.4L1494.6 631.6L1496.6 631.7L1498.6 631.8L1500.6 631.9L1502.6 632.0L1504.6 632.2L1506.5 632.3L1508.5 632.5L1510.5 632.6L1512.5 632.8L1514.5 633.0L1516.5 633.2L1518.5 633.4L1520.5 633.6L1522.5 633.7L1524.5 633.9L1526.5 634.1L1528.5 634.3L1530.4 634.5L1532.4 634.7L1534.4 634.8L1536.4 635.0L1538.4 635.1L1540.4 635.3L1542.4 635.5L1544.4 635.6L1546.4 635.8L1548.4 636.0L1550.4 636.1L1552.4 636.3L1554.4 636.4L1556.4 636.6L1558.4 636.7L1560.4 636.8L1562.4 636.9L1564.4 637.0L1566.3 637.1L1568.3 637.2L1570.3 637.2L1572.3 637.2L1574.3 637.2L1576.3 637.2L1578.3 637.1L1580.3 637.1L1582.3 637.0L1584.3 636.9L1586.3 636.8L1588.3 636.7L1590.3 636.6L1592.3 636.5L1594.3 636.4L1596.3 636.3L1598.3 636.2L1600.3 636.1L1602.3 635.9L1604.3 635.8L1606.3 635.7L1608.3 635.5L1610.3 635.2L1612.3 634.9L1614.2 634.7L1616.2 634.6L1618.2 634.7L1620.1 635.1L1621.9 635.8L1623.6 636.9L1625.1 638.2L1626.6 639.5L1628.0 640.9L1629.4 642.4L1630.7 643.9L1631.9 645.5L1633.2 647.0L1634.5 648.5L1635.9 649.9L1637.4 651.2L1639.1 652.3L1640.8 653.2L1642.7 653.5L1644.5 653.2L1646.2 652.2L1647.7 650.9L1649.0 649.5L1650.3 648.0L1651.5 646.4L1652.6 644.7L1653.7 643.0L1654.7 641.3L1655.8 639.6L1657.0 638.1L1658.4 636.7L1660.0 635.4L1661.7 634.3L1663.4 633.4L1665.2 632.6L1667.1 631.8L1669.0 631.1L1670.8 630.4L1672.7 629.8L1674.7 629.3L1676.6 628.8L1678.5 628.3L1680.5 627.8L1682.4 627.3L1684.3 626.7L1686.2 626.1L1688.1 625.4L1690.0 624.7L1691.8 623.9L1693.6 623.1L1695.4 622.3L1697.3 621.4L1699.1 620.6L1700.9 619.8L1702.8 619.0L1704.6 618.2L1706.4 617.4L1708.3 616.7L1710.1 615.9L1712.0 615.1L1713.8 614.4L1715.7 613.7L1717.6 613.0L1719.5 612.4L1721.4 611.7L1723.3 611.1L1725.2 610.5L1727.1 609.9L1729.0 609.2L1730.8 608.5L1732.7 607.7L1734.5 606.9L1736.3 606.1L1738.1 605.2L1739.8 604.2L1741.5 603.1L1743.1 601.9L1744.7 600.6L1746.1 599.3L1747.5 597.9L1748.9 596.4L1750.2 594.9L1751.4 593.3L1752.6 591.7L1753.7 590.0L1754.7 588.3L1755.7 586.6L1756.7 584.8L1757.6 583.0L1758.5 581.3L1759.4 579.5L1760.3 577.7L1761.2 575.9L1762.0 574.1L1762.8 572.2L1763.6 570.4L1764.4 568.5L1765.1 566.7L1765.9 564.8L1766.6 563.0L1767.4 561.1L1768.2 559.3L1768.9 557.4L1769.6 555.6L1770.4 553.7L1771.2 551.9L1772.2 550.2L1773.3 548.5L1774.6 547.0L1776.1 545.8L1777.8 545.1L1779.6 545.2L1781.2 546.1L1782.7 547.4L1784.0 548.8L1785.2 550.4L1786.4 552.1L1787.4 553.7L1788.5 555.4L1789.6 557.1L1790.6 558.8L1791.7 560.5L1792.8 562.2L1793.8 563.9L1794.9 565.6L1796.0 567.3L1797.1 568.9L1798.2 570.6L1799.4 572.2L1800.7 573.7L1802.0 575.3L1803.3 576.8L1804.7 578.2L1806.1 579.6L1807.7 580.8L1809.3 582.0L1811.0 582.9L1812.9 583.8L1814.7 584.5L1816.6 585.1L1818.5 585.6L1820.5 586.1L1822.4 586.5L1824.4 586.8L1826.4 587.1L1828.4 587.3L1830.4 587.5L1832.4 587.6L1834.4 587.7L1836.4 587.8L1838.4 587.8L1840.4 587.8L1842.4 587.8L1844.4 587.8L1846.4 587.8L1848.4 587.7L1850.4 587.6L1852.4 587.5L1854.4 587.4L1856.4 587.3L1858.4 587.2L1860.4 587.0L1862.3 586.9L1864.3 586.7L1866.3 586.5L1868.3 586.3L1870.3 586.1L1872.3 585.8L1874.3 585.5L1876.2 585.2L1878.2 584.9L1880.2 584.6L1882.2 584.2L1884.1 583.8L1886.1 583.4L1888.0 582.9L1889.9 582.4L1891.9 581.9L1893.8 581.3L1895.7 580.7L1897.6 580.1L1899.5 579.4L1901.4 578.7L1903.2 578.1L1905.1 577.4L1907.0 576.7L1908.9 576.0L1910.7 575.3L1912.6 574.6L1914.5 573.9L1916.4 573.3L1918.3 572.7L1920.2 572.0L1922.1 571.4L1924.0 570.8L1925.9 570.1L1927.8 569.5L1929.7 568.8L1931.5 568.1L1933.4 567.4L1935.3 566.7L1937.1 565.9L1939.0 565.2L1940.8 564.4L1942.7 563.6L1944.5 562.8L1946.3 562.0L1948.1 561.2L1950.0 560.3L1951.8 559.5L1953.6 558.6L1955.3 557.7L1957.1 556.7L1958.9 555.8L1960.6 554.8L1962.3 553.8L1964.1 552.8L1965.8 551.8L1967.5 550.7L1969.1 549.6L1970.8 548.5L1972.5 547.4L1974.1 546.2L1975.7 545.0L1977.2 543.7L1978.8 542.5L1980.3 541.2L1981.8 539.9L1983.3 538.5L1984.8 537.2L1986.3 535.8L1987.8 534.5L1989.2 533.2L1990.8 531.9L1992.2 530.5L1993.7 529.2L1995.2 527.9L1996.7 526.5L1998.2 525.2L1999.7 523.9L2001.2 522.6L2002.8 521.3L2004.4 520.1L2006.0 518.9L2007.6 517.8L2009.3 516.7L2011.0 515.6L2012.7 514.6L2014.5 513.7L2016.3 512.8L2018.1 511.9L2019.9 511.1L2021.8 510.3L2023.6 509.6L2025.5 509.0L2027.4 508.3L2029.3 507.7L2031.2 507.2L2033.2 506.7L2035.1 506.3L2037.1 505.9L2039.1 505.6L2041.1 505.4L2043.1 505.2L2045.0 505.1L2047.0 505.0L2049.0 505.0L2051.0 505.1L2053.0 505.3L2055.0 505.4L2057.0 505.7L2059.0 505.9L2061.0 506.2L2063.0 506.5L2064.9 506.8L2066.9 507.2L2068.9 507.5L2070.8 507.9L2072.8 508.4L2074.7 508.9L2076.6 509.4L2078.5 510.0L2080.4 510.7L2082.3 511.5L2084.1 512.3L2085.9 513.2L2087.6 514.2L2089.3 515.3L2090.8 516.5L2092.3 517.8L2093.7 519.3L2095.0 520.8L2096.2 522.4L2097.3 524.0L2098.3 525.8L2099.2 527.5L2100.0 529.4L2100.8 531.2L2101.5 533.1L2102.2 535.0L2102.8 536.9L2103.5 538.7L2104.1 540.6L2104.7 542.6L2105.3 544.5L2105.9 546.4L2106.4 548.3L2107.0 550.2L2107.6 552.1L2108.1 554.1L2108.7 556.0L2109.3 557.9L2109.8 559.8L2110.4 561.7L2111.1 563.6L2111.7 565.5L2112.5 567.4L2113.2 569.2L2114.0 571.0L2114.9 572.8L2115.9 574.6L2116.9 576.3L2118.0 577.9L2119.3 579.5L2120.6 581.0L2122.1 582.4L2123.6 583.6L2125.3 584.7L2127.1 585.5L2128.9 586.2L2130.9 586.7L2132.8 587.0L2134.8 587.1L2136.8 587.0L2138.8 586.8L2140.7 587.0L2142.6 587.4L2144.5 588.0L2146.4 588.5L2148.4 588.9L2150.4 589.1L2152.4 589.4L2154.4 589.5L2156.4 589.6L2158.4 589.7L2160.4 589.6L2162.4 589.6L2164.4 589.4L2166.3 589.2L2168.3 588.9L2170.3 588.6L2172.3 588.2L2174.2 587.8L2176.2 587.4L2178.1 586.9L2180.0 586.4L2182.0 585.8L2183.9 585.2L2185.8 584.6L2187.7 584.0L2189.6 583.4L2191.5 582.7L2193.4 582.1L2195.2 581.4L2197.1 580.7L2199.0 579.9L2200.8 579.2L2202.7 578.4L2204.5 577.6L2206.3 576.9L2208.2 576.1L2210.0 575.3L2211.8 574.4L2213.6 573.6L2215.4 572.7L2217.2 571.8L2219.0 571.0L2220.8 570.1L2222.6 569.2L2224.4 568.3L2226.2 567.5L2228.0 566.6L2229.9 565.8L2231.7 564.9L2233.5 564.1L2235.3 563.3L2237.2 562.5L2239.0 561.7L2240.8 560.9L2242.6 560.0L2244.5 559.2L2246.3 558.4L2248.1 557.5L2249.9 556.7L2251.7 555.9L2253.5 555.0L2255.3 554.2L2257.2 553.3L2259.0 552.5L2260.8 551.6L2262.6 550.7L2264.3 549.8L2266.1 548.9L2267.9 548.0L2269.7 547.0L2271.4 546.1L2273.2 545.1L2274.9 544.1L2276.7 543.2L2278.4 542.2L2280.2 541.2L2281.9 540.2L2283.6 539.3L2285.4 538.3L2287.1 537.3L2288.9 536.3L2290.6 535.3L2292.3 534.3L2294.1 533.3L2295.8 532.3L2297.5 531.3L2299.3 530.3L2301.0 529.3L2302.7 528.3L2304.5 527.3L2306.2 526.3L2307.9 525.3L2309.6 524.3L2311.4 523.3L2313.1 522.3L2314.8 521.2L2316.5 520.3L2318.3 519.3L2320.0 518.3L2321.8 517.3L2323.6 516.4L2325.3 515.5L2327.1 514.5L2328.9 513.6L2330.7 512.7L2332.4 511.8L2334.2 511.0L2336.1 510.1L2337.9 509.3L2339.7 508.5L2341.6 507.8L2343.5 507.1L2345.3 506.4L2347.2 505.7L2349.1 505.1L2351.0 504.4L2352.9 503.8L2354.8 503.2L2356.7 502.6L2358.6 502.0L2360.5 501.4L2362.4 500.8L2364.4 500.2L2366.3 499.6L2368.2 499.1L2370.1 498.5L2372.0 497.9L2373.9 497.4L2375.9 496.8L2377.8 496.2L2379.7 495.7L2381.6 495.1L2383.5 494.5L2385.4 493.9L2387.4 493.4L2389.3 492.8L2391.2 492.2L2393.1 491.7L2395.0 491.1L2396.9 490.5L2398.0 490.2" fill="none" stroke="#FFAE5F" stroke-width="5.6" stroke-linejoin="round"/>
<path d="M1365.1 705.4L1367.1 705.4L1369.1 705.5L1371.1 705.5L1373.1 705.5L1375.1 705.5L1377.1 705.6L1379.1 705.6L1381.1 705.6L1383.1 705.7L1385.1 705.7L1387.1 705.7L1389.1 705.7L1391.1 705.8L1393.1 705.8L1395.1 705.8L1397.1 705.9L1399.1 705.9L1401.1 705.9L1403.1 705.9L1405.1 706.0L1407.1 706.0L1409.1 706.0L1411.1 706.1L1413.1 706.1L1415.1 706.1L1417.1 706.1L1419.1 706.2L1421.1 706.2L1423.1 706.2L1425.1 706.3L1427.1 706.3L1429.1 706.3L1431.1 706.3L1433.1 706.4L1435.1 706.4L1437.1 706.4L1439.1 706.5L1441.1 706.5L1443.1 706.5L1445.1 706.5L1447.1 706.6L1449.1 706.6L1451.1 706.6L1453.1 706.6L1455.1 706.7L1457.1 706.7L1459.1 706.7L1461.1 706.7L1463.1 706.8L1465.1 706.8L1467.1 706.8L1469.1 706.8L1471.1 706.9L1473.1 706.9L1475.1 706.9L1477.1 706.9L1479.1 707.0L1481.1 707.0L1483.1 707.0L1485.1 707.0L1487.1 707.1L1489.1 707.1L1491.1 707.1L1493.1 707.2L1495.1 707.2L1497.1 707.2L1499.1 707.2L1501.1 707.3L1503.1 707.3L1505.1 707.3L1507.1 707.3L1509.1 707.4L1511.1 707.4L1513.1 707.4L1515.1 707.4L1517.1 707.5L1519.1 707.5L1521.1 707.5L1523.1 707.5L1525.1 707.6L1527.1 707.6L1529.1 707.6L1531.1 707.6L1533.1 707.6L1535.1 707.6L1537.1 707.7L1539.1 707.7L1541.1 707.7L1543.1 707.7L1545.1 707.7L1547.1 707.7L1549.1 707.7L1551.1 707.7L1553.1 707.7L1555.1 707.7L1557.1 707.7L1559.1 707.7L1561.1 707.7L1563.1 707.7L1565.1 707.7L1567.1 707.6L1569.1 707.6L1571.1 707.6L1573.1 707.6L1575.1 707.6L1577.1 707.6L1579.1 707.5L1581.1 707.5L1583.1 707.5L1585.1 707.4L1587.1 707.4L1589.1 707.4L1591.1 707.3L1593.1 707.3L1595.1 707.2L1597.1 707.1L1599.1 707.1L1601.1 707.0L1603.1 706.9L1605.1 706.8L1607.1 706.6L1609.0 706.3L1611.0 706.0L1613.0 705.7L1615.0 705.4L1616.9 705.3L1618.9 705.4L1620.8 705.8L1622.7 706.5L1624.4 707.5L1625.9 708.7L1627.4 710.1L1628.9 711.5L1630.2 713.0L1631.4 714.6L1632.6 716.2L1633.7 717.8L1634.9 719.4L1636.2 720.9L1637.5 722.4L1638.9 723.8L1640.5 725.0L1642.1 725.7L1643.8 725.4L1645.4 724.4L1646.7 723.0L1648.0 721.5L1649.3 719.9L1650.5 718.3L1651.7 716.7L1652.8 715.1L1654.0 713.5L1655.2 711.9L1656.5 710.3L1657.9 709.0L1659.5 707.7L1661.1 706.6L1662.9 705.7L1664.7 704.9L1666.6 704.2L1668.5 703.6L1670.4 703.0L1672.4 702.6L1674.3 702.3L1676.3 702.0L1678.3 701.9L1680.3 701.7L1682.3 701.6L1684.3 701.6L1686.3 701.5L1688.3 701.5L1690.3 701.5L1692.3 701.6L1694.3 701.7L1696.3 701.8L1698.3 701.9L1700.3 702.0L1702.3 702.1L1704.3 702.2L1706.3 702.2L1708.3 702.2L1710.3 702.2L1712.3 702.1L1714.3 702.0L1716.3 702.0L1718.3 701.9L1720.3 701.7L1722.3 701.6L1724.3 701.3L1726.2 701.1L1728.2 700.7L1730.2 700.3L1732.1 699.8L1734.0 699.3L1735.9 698.7L1737.8 698.0L1739.6 697.2L1741.4 696.3L1743.1 695.2L1744.7 694.0L1746.1 692.6L1747.5 691.2L1748.7 689.6L1749.9 688.0L1750.9 686.3L1751.9 684.6L1752.9 682.8L1753.9 681.0L1754.7 679.3L1755.6 677.4L1756.3 675.6L1757.0 673.7L1757.7 671.8L1758.4 670.0L1759.1 668.1L1759.7 666.2L1760.4 664.3L1761.1 662.4L1761.7 660.5L1762.4 658.7L1763.1 656.8L1763.8 654.9L1764.5 653.0L1765.2 651.1L1765.9 649.3L1766.6 647.4L1767.3 645.5L1768.0 643.7L1768.8 641.8L1769.6 640.0L1770.4 638.2L1771.3 636.4L1772.3 634.6L1773.4 633.0L1774.8 631.7L1776.3 631.1L1777.9 631.4L1779.3 632.6L1780.5 634.2L1781.6 635.8L1782.6 637.6L1783.6 639.3L1784.4 641.1L1785.3 642.9L1786.1 644.8L1787.0 646.6L1787.8 648.4L1788.8 650.1L1789.7 651.9L1790.6 653.7L1791.6 655.4L1792.5 657.2L1793.5 658.9L1794.5 660.7L1795.6 662.4L1796.6 664.1L1797.8 665.7L1798.9 667.3L1800.1 668.9L1801.4 670.5L1802.7 672.0L1804.0 673.5L1805.5 674.8L1807.1 676.0L1808.8 677.1L1810.6 678.0L1812.4 678.7L1814.3 679.4L1816.2 680.0L1818.1 680.5L1820.1 680.9L1822.0 681.3L1824.0 681.7L1826.0 681.9L1828.0 682.1L1830.0 682.3L1832.0 682.4L1834.0 682.4L1836.0 682.3L1838.0 682.2L1840.0 682.1L1841.9 681.8L1843.9 681.6L1845.9 681.2L1847.9 680.8L1849.8 680.4L1851.7 679.9L1853.6 679.3L1855.5 678.7L1857.4 677.9L1859.2 677.1L1861.0 676.2L1862.7 675.2L1864.4 674.1L1866.0 672.9L1867.6 671.6L1869.1 670.3L1870.5 669.0L1871.9 667.6L1873.3 666.1L1874.6 664.6L1875.8 663.0L1877.0 661.3L1878.0 659.7L1879.0 657.9L1880.0 656.2L1880.9 654.4L1881.8 652.6L1882.6 650.8L1883.3 648.9L1884.0 647.0L1884.7 645.2L1885.3 643.3L1885.9 641.3L1886.4 639.4L1886.9 637.5L1887.4 635.5L1887.8 633.6L1888.2 631.6L1888.6 629.7L1889.0 627.7L1889.3 625.7L1889.7 623.8L1890.0 621.8L1890.3 619.8L1890.6 617.8L1890.9 615.9L1891.2 613.9L1891.4 611.9L1891.6 609.9L1891.8 607.9L1892.0 605.9L1892.2 603.9L1892.4 601.9L1892.6 599.9L1892.8 598.0L1892.9 596.0L1893.1 594.0L1893.2 592.0L1893.4 590.0L1893.5 588.0L1893.6 586.0L1893.7 584.0L1893.8 582.0L1893.9 580.0L1894.0 578.0L1894.1 576.0L1894.2 574.0L1894.3 572.0L1894.4 570.0L1894.4 568.0L1894.5 566.0L1894.6 564.0L1894.7 562.0L1894.7 560.0L1894.8 558.0L1894.9 556.0L1894.9 554.0L1895.0 552.0L1895.0 550.0L1895.1 548.0L1895.2 546.0L1895.2 544.0L1895.2 542.0L1895.3 540.0L1895.3 538.0L1895.4 536.0L1895.4 534.0L1895.4 532.0L1895.5 530.0L1895.5 528.0L1895.5 526.0L1895.6 524.0L1895.6 522.0L1895.6 520.0L1895.7 518.0L1895.7 516.0L1895.7 514.0L1895.7 512.0L1895.8 510.0L1895.8 508.0L1895.8 506.0L1895.8 504.0L1895.8 502.0L1895.9 500.0L1895.9 498.0L1895.9 496.0L1895.9 494.0L1896.0 492.0L1896.0 490.0L1896.0 488.0L1896.0 486.0L1896.1 484.0L1896.1 482.0L1896.1 480.0L1896.1 478.0L1896.1 476.0L1896.2 474.0L1896.2 472.0L1896.2 470.0L1896.2 468.0L1896.2 466.0L1896.3 464.0L1896.3 462.0L1896.3 460.0L1896.3 458.0L1896.3 456.0L1896.3 454.0L1896.3 452.0L1896.4 450.0L1896.4 448.0L1896.4 446.0L1896.4 444.0L1896.4 442.0L1896.4 440.0L1896.4 438.0L1896.5 436.0L1896.5 434.0L1896.5 432.0L1896.5 430.0L1896.5 428.0L1896.5 426.0L1896.5 424.0L1896.6 422.0L1896.6 420.0L1896.6 418.0L1896.6 416.0L1896.6 414.0L1896.6 412.0L1896.6 410.0L1896.6 408.0L1896.7 406.0L1896.7 404.0L1896.7 402.0L1896.7 400.0L1896.7 398.0L1896.7 396.0L1896.7 394.0L1896.8 392.0L1896.8 390.0L1896.8 388.0L1896.8 386.0L1896.8 384.0L1896.8 382.0L1896.8 380.0L1896.8 378.0L1896.9 376.0L1896.9 374.0L1896.9 372.0L1896.9 370.0L1896.9 368.0L1896.9 366.0L1896.9 364.0L1896.9 362.0L1896.9 360.0L1897.0 358.0L1897.0 356.0L1897.0 354.0L1897.0 352.0L1897.0 350.0L1897.0 348.0L1897.0 346.0L1897.0 344.0L1897.0 342.0L1897.1 340.0L1897.1 338.0L1897.1 336.0L1897.1 334.0L1897.1 332.0L1897.1 330.0L1897.1 328.0L1897.1 326.0L1897.1 324.0L1897.2 322.0L1897.2 320.0L1897.2 318.0L1897.2 316.0L1897.2 314.0L1897.2 312.0L1897.2 310.0L1897.2 308.0L1897.2 306.0L1897.3 304.0L1897.3 302.0L1897.3 300.0L1897.3 298.0L1897.3 296.0L1897.3 294.0L1897.3 292.0L1897.3 290.0L1897.3 288.0L1897.3 286.0L1897.4 284.0L1897.4 282.0L1897.4 280.0L1897.4 278.0L1897.4 276.0L1897.4 274.0L1897.4 272.0L1897.4 270.0L1897.4 268.0L1897.5 266.0L1897.5 264.0L1897.5 262.0L1897.5 260.0L1897.5 258.0L1897.5 256.0L1897.5 254.0L1897.5 252.0L1897.5 250.0L1897.6 248.0L1897.6 246.0L1897.6 244.0L1897.6 242.0L1897.6 240.0L1897.6 238.0L1897.6 236.0L1897.6 234.0L1897.6 232.0L1897.7 230.0L1897.7 228.0L1897.7 226.0L1897.7 224.0L1897.7 222.0L1897.7 220.0L1897.7 218.0L1897.7 216.0L1897.7 214.0L1897.8 212.0L1897.8 210.0L1897.8 208.0L1897.8 206.0L1897.8 204.0L1897.8 202.0L1897.8 200.0L1897.8 198.0L1897.9 196.0L1897.9 194.0L1897.9 192.0L1897.9 190.0L1897.9 188.0L1897.9 186.0L1897.9 184.0L1897.9 182.0L1897.9 180.0L1898.0 178.0L1898.0 176.0L1898.0 174.0L1898.0 172.0L1898.0 170.0L1898.0 168.0L1898.0 166.0L1898.0 164.0L1898.1 162.0L1898.1 160.0L1898.1 158.0L1898.1 156.0L1898.1 154.0L1898.1 152.0L1898.1 150.0L1898.1 148.0L1898.1 146.0L1898.2 144.0L1898.2 142.0L1898.2 140.0L1898.2 138.0L1898.2 136.0L1898.2 134.0L1898.2 132.0L1898.2 130.0L1898.3 128.0L1898.3 126.0L1898.3 124.0L1898.3 122.0L1898.3 120.0L1898.3 118.0L1898.3 116.0L1898.3 114.0L1898.3 112.0L1898.4 110.0L1898.4 108.0L1898.4 106.0L1898.4 104.0L1898.4 102.0L1898.4 100.0L1898.4 98.0L1898.4 96.0L1898.5 94.0L1898.5 92.0L1898.5 90.0L1898.5 88.0L1898.5 86.0L1898.5 85.8L1898.5 85.8L1898.6 87.8L1898.6 89.8L1898.7 91.8L1898.7 93.8L1898.8 95.8L1898.8 97.8L1898.9 99.8L1899.0 101.8L1899.0 103.8L1899.1 105.8L1899.1 107.8L1899.2 109.8L1899.3 111.8L1899.3 113.8L1899.4 115.8L1899.4 117.8L1899.5 119.8L1899.5 121.8L1899.6 123.8L1899.7 125.8L1899.7 127.8L1899.8 129.8L1899.8 131.8L1899.9 133.8L1900.0 135.8L1900.0 137.8L1900.1 139.8L1900.1 141.8L1900.2 143.8L1900.2 145.8L1900.3 147.8L1900.4 149.8L1900.4 151.8L1900.5 153.8L1900.5 155.8L1900.6 157.8L1900.7 159.8L1900.7 161.8L1900.8 163.8L1900.8 165.8L1900.9 167.8L1900.9 169.8L1901.0 171.8L1901.1 173.8L1901.1 175.8L1901.2 177.8L1901.2 179.8L1901.3 181.8L1901.4 183.8L1901.4 185.8L1901.5 187.8L1901.5 189.8L1901.6 191.8L1901.6 193.8L1901.7 195.8L1901.8 197.8L1901.8 199.8L1901.9 201.8L1901.9 203.7L1902.0 205.7L1902.1 207.7L1902.1 209.7L1902.2 211.7L1902.2 213.7L1902.3 215.7L1902.3 217.7L1902.4 219.7L1902.5 221.7L1902.5 223.7L1902.6 225.7L1902.6 227.7L1902.7 229.7L1902.8 231.7L1902.8 233.7L1902.9 235.7L1902.9 237.7L1903.0 239.7L1903.1 241.7L1903.1 243.7L1903.2 245.7L1903.2 247.7L1903.3 249.7L1903.3 251.7L1903.4 253.7L1903.5 255.7L1903.5 257.7L1903.6 259.7L1903.6 261.7L1903.7 263.7L1903.7 265.7L1903.8 267.7L1903.9 269.7L1903.9 271.7L1904.0 273.7L1904.0 275.7L1904.1 277.7L1904.1 279.7L1904.2 281.7L1904.2 283.7L1904.3 285.7L1904.4 287.7L1904.4 289.7L1904.5 291.7L1904.5 293.7L1904.6 295.7L1904.6 297.7L1904.7 299.7L1904.7 301.7L1904.8 303.7L1904.9 305.7L1904.9 307.7L1905.0 309.7L1905.0 311.7L1905.1 313.7L1905.1 315.7L1905.2 317.7L1905.3 319.7L1905.3 321.7L1905.4 323.7L1905.4 325.7L1905.5 327.7L1905.5 329.7L1905.6 331.7L1905.7 333.7L1905.7 335.7L1905.8 337.7L1905.8 339.7L1905.9 341.7L1905.9 343.7L1906.0 345.7L1906.1 347.7L1906.1 349.7L1906.2 351.7L1906.2 353.7L1906.3 355.7L1906.4 357.7L1906.4 359.7L1906.5 361.7L1906.5 363.7L1906.6 365.7L1906.7 367.7L1906.7 369.7L1906.8 371.7L1906.8 373.7L1906.9 375.7L1907.0 377.7L1907.0 379.7L1907.1 381.7L1907.2 383.7L1907.2 385.7L1907.3 387.7L1907.3 389.7L1907.4 391.7L1907.5 393.7L1907.6 395.7L1907.6 397.7L1907.7 399.7L1907.8 401.7L1907.8 403.7L1907.9 405.7L1908.0 407.7L1908.0 409.7L1908.1 411.7L1908.2 413.7L1908.3 415.7L1908.3 417.7L1908.4 419.7L1908.5 421.7L1908.6 423.6L1908.7 425.6L1908.7 427.6L1908.8 429.6L1908.9 431.6L1909.0 433.6L1909.1 435.6L1909.1 437.6L1909.2 439.6L1909.3 441.6L1909.4 443.6L1909.5 445.6L1909.6 447.6L1909.7 449.6L1909.7 451.6L1909.8 453.6L1909.9 455.6L1910.0 457.6L1910.1 459.6L1910.2 461.6L1910.3 463.6L1910.4 465.6L1910.5 467.6L1910.6 469.6L1910.6 471.6L1910.7 473.6L1910.8 475.6L1910.9 477.6L1911.0 479.6L1911.1 481.6L1911.2 483.6L1911.3 485.6L1911.4 487.6L1911.5 489.6L1911.6 491.6L1911.7 493.6L1911.8 495.6L1911.9 497.6L1912.0 499.6L1912.1 501.6L1912.2 503.6L1912.4 505.6L1912.5 507.6L1912.6 509.6L1912.7 511.6L1912.7 513.6L1912.8 515.5L1912.9 517.5L1913.0 519.5L1913.1 521.5L1913.2 523.5L1913.3 525.5L1913.4 527.5L1913.5 529.5L1913.6 531.5L1913.7 533.5L1913.8 535.5L1913.9 537.5L1914.0 539.5L1914.1 541.5L1914.2 543.5L1914.3 545.5L1914.4 547.5L1914.5 549.5L1914.6 551.5L1914.7 553.5L1914.9 555.5L1915.0 557.5L1915.1 559.5L1915.2 561.5L1915.4 563.5L1915.5 565.5L1915.6 567.5L1915.8 569.5L1915.9 571.5L1916.1 573.5L1916.2 575.5L1916.4 577.4L1916.5 579.4L1916.7 581.4L1916.8 583.4L1917.0 585.4L1917.1 587.4L1917.3 589.4L1917.5 591.4L1917.6 593.4L1917.8 595.4L1918.0 597.4L1918.1 599.4L1918.3 601.4L1918.5 603.4L1918.7 605.4L1918.8 607.3L1919.0 609.3L1919.2 611.3L1919.4 613.3L1919.6 615.3L1919.8 617.3L1920.0 619.3L1920.2 621.3L1920.4 623.3L1920.6 625.3L1920.8 627.2L1921.1 629.2L1921.3 631.2L1921.6 633.2L1921.8 635.2L1922.1 637.2L1922.4 639.1L1922.6 641.1L1922.9 643.1L1923.2 645.1L1923.5 647.1L1923.8 649.0L1924.2 651.0L1924.5 653.0L1924.8 655.0L1925.2 656.9L1925.5 658.9L1925.9 660.9L1926.3 662.8L1926.6 664.8L1927.0 666.8L1927.3 668.7L1927.7 670.7L1928.1 672.7L1928.5 674.6L1928.9 676.6L1929.4 678.5L1929.9 680.4L1930.5 682.4L1931.1 684.2L1931.8 686.1L1932.6 687.9L1933.5 689.8L1934.4 691.5L1935.4 693.3L1936.5 694.9L1937.7 696.5L1939.0 698.0L1940.4 699.4L1942.0 700.7L1943.6 701.8L1945.4 702.7L1947.2 703.5L1949.1 704.2L1951.0 704.7L1953.0 705.1L1954.9 705.4L1956.9 705.6L1958.9 705.8L1960.9 705.9L1962.9 706.1L1964.9 706.2L1966.9 706.2L1968.9 706.3L1970.9 706.3L1972.9 706.3L1974.9 706.2L1976.9 706.2L1978.9 706.1L1980.9 706.1L1982.9 706.0L1984.9 705.9L1986.9 705.9L1988.9 705.8L1990.9 705.7L1992.9 705.6L1994.9 705.6L1996.9 705.5L1998.9 705.5L2000.9 705.4L2002.9 705.4L2004.9 705.3L2006.9 705.3L2008.9 705.3L2010.9 705.2L2012.9 705.2L2014.9 705.2L2016.9 705.1L2018.9 705.1L2020.9 705.0L2022.9 705.0L2024.9 705.0L2026.9 704.9L2028.9 704.9L2030.9 704.9L2032.9 704.8L2034.9 704.8L2036.9 704.7L2038.9 704.7L2040.9 704.6L2042.9 704.6L2044.9 704.5L2046.9 704.4L2048.9 704.3L2050.9 704.2L2052.9 704.1L2054.9 704.0L2056.9 703.9L2058.9 703.8L2060.9 703.8L2062.9 703.7L2064.9 703.7L2066.9 703.7L2068.9 703.6L2070.9 703.6L2072.9 703.6L2074.9 703.6L2076.9 703.5L2078.9 703.5L2080.9 703.5L2082.9 703.5L2084.9 703.5L2086.9 703.4L2088.9 703.4L2090.9 703.4L2092.9 703.3L2094.9 703.3L2096.9 703.2L2098.9 703.1L2100.9 703.1L2102.8 703.0L2104.8 702.9L2106.8 702.8L2108.8 702.7L2110.8 702.6L2112.8 702.5L2114.8 702.4L2116.8 702.3L2118.8 702.2L2120.8 702.1L2122.8 702.0L2124.8 701.9L2126.8 701.7L2128.8 701.6L2130.8 701.5L2132.8 701.4L2134.8 701.3L2136.8 701.2L2138.8 701.1L2140.8 700.9L2142.8 700.8L2144.8 700.7L2146.8 700.6L2148.8 700.5L2150.8 700.4L2152.8 700.3L2154.8 700.2L2156.8 700.0L2158.8 699.9L2160.8 699.8L2162.8 699.6L2164.7 699.5L2166.7 699.3L2168.7 699.2L2170.7 699.0L2172.7 698.8L2174.7 698.6L2176.7 698.4L2178.7 698.1L2180.7 697.9L2182.7 697.6L2184.6 697.4L2186.6 697.1L2188.6 696.8L2190.6 696.5L2192.6 696.3L2194.5 696.0L2196.5 695.7L2198.5 695.4L2200.5 695.0L2202.4 694.7L2204.4 694.4L2206.4 694.1L2208.4 693.8L2210.3 693.4L2212.3 693.1L2214.3 692.7L2216.2 692.4L2218.2 692.0L2220.2 691.6L2222.1 691.3L2224.1 690.9L2226.1 690.5L2228.0 690.1L2230.0 689.7L2231.9 689.2L2233.9 688.8L2235.8 688.4L2237.8 687.9L2239.7 687.5L2241.7 687.0L2243.6 686.6L2245.6 686.1L2247.5 685.6L2249.5 685.2L2251.4 684.7L2253.3 684.2L2255.3 683.7L2257.2 683.2L2259.1 682.7L2261.1 682.2L2263.0 681.6L2264.9 681.1L2266.9 680.5L2268.8 680.0L2270.7 679.4L2272.6 678.9L2274.5 678.3L2276.5 677.8L2278.4 677.2L2280.3 676.7L2282.2 676.2L2284.2 675.6L2286.1 675.1L2288.0 674.6L2290.0 674.0L2291.9 673.5L2293.8 673.0L2295.7 672.5L2297.7 671.9L2299.6 671.4L2301.5 670.9L2303.5 670.4L2305.4 669.9L2307.3 669.4L2309.3 668.9L2311.2 668.4L2313.2 667.9L2315.1 667.4L2317.0 666.9L2319.0 666.4L2320.9 666.0L2322.9 665.5L2324.8 665.0L2326.7 664.5L2328.7 664.1L2330.6 663.6L2332.6 663.2L2334.5 662.7L2336.5 662.3L2338.4 661.8L2340.4 661.4L2342.3 661.0L2344.3 660.5L2346.2 660.1L2348.2 659.7L2350.2 659.3L2352.1 658.9L2354.1 658.5L2356.0 658.1L2358.0 657.7L2360.0 657.2L2361.9 656.8L2363.9 656.4L2365.8 656.0L2367.8 655.6L2369.7 655.2L2371.7 654.8L2373.7 654.4L2375.6 654.0L2377.6 653.6L2379.5 653.2L2381.5 652.7L2383.4 652.3L2385.4 651.9L2387.4 651.5L2389.3 651.1L2391.3 650.7L2393.2 650.3L2395.2 649.9L2397.2 649.5L2398.0 649.3" fill="none" stroke="#FC351E" stroke-width="5.6" stroke-linejoin="round"/>
<path d="M1365.1 711.4L1367.1 711.4L1369.1 711.5L1371.1 711.5L1373.1 711.5L1375.1 711.6L1377.1 711.6L1379.1 711.6L1381.1 711.7L1383.1 711.7L1385.1 711.7L1387.1 711.8L1389.1 711.8L1391.1 711.9L1393.1 711.9L1395.1 711.9L1397.1 712.0L1399.1 712.0L1401.1 712.0L1403.1 712.1L1405.1 712.1L1407.1 712.1L1409.1 712.2L1411.1 712.2L1413.1 712.2L1415.1 712.3L1417.1 712.3L1419.1 712.3L1421.1 712.4L1423.1 712.4L1425.1 712.4L1427.1 712.5L1429.1 712.5L1431.1 712.5L1433.1 712.6L1435.1 712.6L1437.1 712.6L1439.1 712.7L1441.1 712.7L1443.1 712.7L1445.1 712.8L1447.1 712.8L1449.1 712.8L1451.1 712.9L1453.1 712.9L1455.1 712.9L1457.1 713.0L1459.1 713.0L1461.1 713.0L1463.1 713.1L1465.1 713.1L1467.1 713.1L1469.1 713.1L1471.1 713.2L1473.1 713.2L1475.1 713.2L1477.1 713.3L1479.1 713.3L1481.1 713.3L1483.1 713.4L1485.1 713.4L1487.1 713.4L1489.1 713.5L1491.1 713.5L1493.1 713.6L1495.1 713.6L1497.1 713.6L1499.1 713.7L1501.1 713.7L1503.1 713.7L1505.1 713.8L1507.1 713.8L1509.1 713.8L1511.1 713.9L1513.1 713.9L1515.1 713.9L1517.1 714.0L1519.1 714.0L1521.1 714.0L1523.1 714.1L1525.1 714.1L1527.1 714.1L1529.1 714.1L1531.1 714.2L1533.1 714.2L1535.1 714.2L1537.1 714.2L1539.1 714.2L1541.1 714.2L1543.1 714.2L1545.1 714.2L1547.1 714.3L1549.1 714.3L1551.1 714.2L1553.1 714.2L1555.1 714.2L1557.1 714.2L1559.1 714.2L1561.1 714.2L1563.1 714.1L1565.1 714.1L1567.1 714.1L1569.1 714.0L1571.1 714.0L1573.1 714.0L1575.1 713.9L1577.1 713.9L1579.1 713.8L1581.1 713.8L1583.1 713.7L1585.1 713.6L1587.1 713.6L1589.1 713.5L1591.1 713.4L1593.1 713.3L1595.1 713.2L1597.1 713.1L1599.1 713.0L1601.1 712.9L1603.0 712.7L1605.0 712.6L1607.0 712.3L1609.0 712.0L1611.0 711.7L1612.9 711.3L1614.9 710.9L1616.9 710.7L1618.8 710.8L1620.8 711.2L1622.6 711.9L1624.2 713.0L1625.8 714.2L1627.3 715.6L1628.7 717.0L1630.0 718.4L1631.3 720.0L1632.5 721.6L1633.7 723.2L1635.0 724.7L1636.3 726.2L1637.8 727.6L1639.2 728.9L1640.9 729.9L1642.6 730.4L1644.4 730.0L1646.0 728.9L1647.4 727.6L1648.8 726.2L1650.2 724.7L1651.5 723.2L1652.7 721.6L1654.0 720.0L1655.2 718.5L1656.6 717.1L1658.1 715.8L1659.7 714.6L1661.5 713.6L1663.3 712.8L1665.1 712.1L1667.1 711.5L1669.0 711.1L1671.0 710.7L1673.0 710.6L1675.0 710.6L1676.9 710.7L1678.9 710.8L1680.9 711.0L1682.9 711.2L1684.9 711.3L1686.9 711.4L1688.9 711.5L1690.9 711.7L1692.9 711.8L1694.9 711.9L1696.9 712.1L1698.9 712.2L1700.9 712.3L1702.9 712.4L1704.9 712.5L1706.9 712.6L1708.9 712.6L1710.9 712.6L1712.9 712.6L1714.9 712.5L1716.9 712.5L1718.9 712.4L1720.9 712.3L1722.9 712.2L1724.9 712.1L1726.9 711.9L1728.8 711.6L1730.8 711.3L1732.8 711.0L1734.7 710.6L1736.7 710.1L1738.6 709.6L1740.5 709.0L1742.3 708.2L1744.1 707.3L1745.8 706.2L1747.4 705.0L1748.9 703.7L1750.3 702.3L1751.7 700.9L1753.0 699.3L1754.3 697.8L1755.4 696.2L1756.5 694.5L1757.5 692.8L1758.5 691.0L1759.3 689.2L1760.1 687.4L1760.9 685.5L1761.7 683.7L1762.4 681.8L1763.1 679.9L1763.8 678.1L1764.5 676.2L1765.3 674.3L1766.0 672.5L1766.7 670.6L1767.4 668.7L1768.0 666.8L1768.7 664.9L1769.3 663.1L1770.0 661.2L1770.8 659.3L1771.6 657.5L1772.4 655.7L1773.4 653.9L1774.3 652.2L1775.4 650.5L1776.6 648.9L1778.1 647.7L1779.7 647.0L1781.4 647.3L1782.9 648.3L1784.2 649.8L1785.4 651.4L1786.4 653.1L1787.4 654.9L1788.3 656.7L1789.2 658.4L1790.1 660.2L1791.1 662.0L1792.1 663.7L1793.2 665.4L1794.2 667.1L1795.3 668.8L1796.4 670.4L1797.6 672.0L1798.9 673.6L1800.2 675.1L1801.6 676.5L1803.1 677.8L1804.6 679.1L1806.2 680.3L1807.9 681.4L1809.6 682.3L1811.5 683.2L1813.3 683.9L1815.2 684.5L1817.1 685.1L1819.1 685.5L1821.0 685.9L1823.0 686.3L1825.0 686.5L1827.0 686.8L1829.0 686.9L1831.0 686.9L1833.0 686.9L1835.0 686.7L1837.0 686.5L1838.9 686.2L1840.9 685.9L1842.9 685.5L1844.8 685.0L1846.7 684.5L1848.6 683.9L1850.5 683.2L1852.4 682.5L1854.2 681.7L1856.0 680.8L1857.8 679.9L1859.5 678.9L1861.1 677.7L1862.7 676.5L1864.2 675.2L1865.7 673.9L1867.1 672.4L1868.4 671.0L1869.7 669.4L1870.9 667.8L1872.1 666.2L1873.2 664.5L1874.2 662.8L1875.1 661.0L1875.9 659.2L1876.7 657.4L1877.4 655.5L1878.1 653.6L1878.7 651.7L1879.3 649.8L1879.9 647.9L1880.5 646.0L1881.0 644.1L1881.5 642.1L1882.0 640.2L1882.4 638.2L1882.8 636.3L1883.2 634.3L1883.5 632.3L1883.8 630.3L1884.1 628.4L1884.3 626.4L1884.6 624.4L1884.8 622.4L1884.9 620.4L1885.1 618.4L1885.2 616.4L1885.3 614.4L1885.5 612.4L1885.6 610.4L1885.7 608.4L1885.8 606.4L1885.8 604.4L1885.9 602.4L1886.0 600.4L1886.1 598.4L1886.2 596.4L1886.3 594.4L1886.4 592.5L1886.4 590.5L1886.5 588.5L1886.6 586.5L1886.6 584.5L1886.7 582.5L1886.7 580.5L1886.8 578.5L1886.8 576.5L1886.9 574.5L1886.9 572.5L1886.9 570.5L1887.0 568.5L1887.0 566.5L1887.0 564.5L1887.1 562.5L1887.1 560.5L1887.1 558.5L1887.2 556.5L1887.2 554.5L1887.2 552.5L1887.3 550.5L1887.3 548.5L1887.3 546.5L1887.3 544.5L1887.4 542.5L1887.4 540.5L1887.4 538.5L1887.4 536.5L1887.5 534.5L1887.5 532.5L1887.5 530.5L1887.5 528.5L1887.5 526.5L1887.5 524.5L1887.6 522.5L1887.6 520.5L1887.6 518.5L1887.6 516.5L1887.6 514.5L1887.6 512.5L1887.7 510.5L1887.7 508.5L1887.7 506.5L1887.7 504.5L1887.7 502.5L1887.7 500.5L1887.7 498.5L1887.7 496.5L1887.8 494.5L1887.8 492.5L1887.8 490.5L1887.8 488.5L1887.8 486.5L1887.8 484.5L1887.8 482.5L1887.9 480.5L1887.9 478.5L1887.9 476.5L1887.9 474.5L1887.9 472.5L1887.9 470.5L1887.9 468.5L1887.9 466.5L1887.9 464.5L1888.0 462.5L1888.0 460.5L1888.0 458.5L1888.0 456.5L1888.0 454.5L1888.0 452.5L1888.0 450.5L1888.0 448.5L1888.0 446.5L1888.0 444.5L1888.1 442.5L1888.1 440.5L1888.1 438.5L1888.1 436.5L1888.1 434.5L1888.1 432.5L1888.1 430.5L1888.1 428.5L1888.1 426.5L1888.1 424.5L1888.2 422.5L1888.2 420.5L1888.2 418.5L1888.2 416.5L1888.2 414.5L1888.2 412.5L1888.2 410.5L1888.2 408.5L1888.3 406.5L1888.3 404.5L1888.3 402.5L1888.3 400.5L1888.3 398.5L1888.3 396.5L1888.3 394.5L1888.4 392.5L1888.4 390.5L1888.4 388.5L1888.4 386.5L1888.4 384.5L1888.4 382.5L1888.5 380.5L1888.5 378.5L1888.5 376.5L1888.5 374.5L1888.5 372.5L1888.5 370.5L1888.6 368.5L1888.6 366.5L1888.6 364.5L1888.6 362.5L1888.6 360.5L1888.6 358.5L1888.7 356.5L1888.7 354.5L1888.7 352.5L1888.7 350.5L1888.7 348.5L1888.8 346.5L1888.8 344.5L1888.8 342.5L1888.8 340.5L1888.8 338.5L1888.8 336.5L1888.9 334.5L1888.9 332.5L1888.9 330.5L1888.9 328.5L1888.9 326.5L1889.0 324.5L1889.0 322.5L1889.0 320.5L1889.0 318.5L1889.0 316.5L1889.1 314.5L1889.1 312.5L1889.1 310.5L1889.1 308.5L1889.1 306.5L1889.1 304.5L1889.2 302.5L1889.2 300.5L1889.2 298.5L1889.2 296.5L1889.2 294.5L1889.3 292.5L1889.3 290.5L1889.3 288.5L1889.3 286.5L1889.3 284.5L1889.4 282.5L1889.4 280.5L1889.4 278.5L1889.4 276.5L1889.4 274.5L1889.5 272.5L1889.5 270.5L1889.5 268.5L1889.5 266.5L1889.6 264.5L1889.6 262.5L1889.6 260.5L1889.6 258.5L1889.6 256.5L1889.7 254.5L1889.7 252.5L1889.7 250.5L1889.7 248.5L1889.7 246.5L1889.8 244.5L1889.8 242.5L1889.8 240.5L1889.8 238.5L1889.8 236.5L1889.9 234.5L1889.9 232.5L1889.9 230.5L1889.9 228.5L1890.0 226.5L1890.0 224.5L1890.0 222.5L1890.0 220.5L1890.0 218.5L1890.1 216.5L1890.1 214.5L1890.1 212.5L1890.1 210.5L1890.2 208.5L1890.2 206.5L1890.2 204.5L1890.2 202.5L1890.2 200.5L1890.3 198.5L1890.3 196.5L1890.3 194.5L1890.3 192.5L1890.4 190.5L1890.4 188.5L1890.4 186.5L1890.4 184.5L1890.4 182.5L1890.5 180.5L1890.5 178.5L1890.5 176.5L1890.5 174.5L1890.6 172.5L1890.6 170.5L1890.6 168.5L1890.6 166.5L1890.7 164.5L1890.7 162.5L1890.7 160.5L1890.7 158.5L1890.8 156.5L1890.8 154.5L1890.8 152.5L1890.8 150.5L1890.8 148.5L1890.9 146.5L1890.9 144.5L1890.9 142.5L1890.9 140.5L1891.0 138.5L1891.0 136.5L1891.0 134.5L1891.0 132.5L1891.1 130.5L1891.1 128.5L1891.1 126.5L1891.1 124.5L1891.2 122.5L1891.2 120.5L1891.2 118.5L1891.2 116.5L1891.2 114.5L1891.3 112.5L1891.3 110.5L1891.3 108.5L1891.3 106.5L1891.4 104.5L1891.4 102.5L1891.4 101.0L1891.4 101.0L1891.5 103.0L1891.5 105.0L1891.6 107.0L1891.6 109.0L1891.7 111.0L1891.7 113.0L1891.8 115.0L1891.9 117.0L1891.9 119.0L1892.0 121.0L1892.0 123.0L1892.1 125.0L1892.1 127.0L1892.2 129.0L1892.2 131.0L1892.3 133.0L1892.4 135.0L1892.4 137.0L1892.5 139.0L1892.5 141.0L1892.6 143.0L1892.6 145.0L1892.7 147.0L1892.8 149.0L1892.8 151.0L1892.9 153.0L1892.9 155.0L1893.0 157.0L1893.0 159.0L1893.1 161.0L1893.1 163.0L1893.2 165.0L1893.3 167.0L1893.3 169.0L1893.4 171.0L1893.4 173.0L1893.5 175.0L1893.5 177.0L1893.6 179.0L1893.7 181.0L1893.7 183.0L1893.8 185.0L1893.8 187.0L1893.9 189.0L1893.9 191.0L1894.0 193.0L1894.1 195.0L1894.1 197.0L1894.2 199.0L1894.2 201.0L1894.3 203.0L1894.3 205.0L1894.4 207.0L1894.4 209.0L1894.5 211.0L1894.6 213.0L1894.6 215.0L1894.7 217.0L1894.7 219.0L1894.8 221.0L1894.8 223.0L1894.9 225.0L1895.0 226.9L1895.0 228.9L1895.1 230.9L1895.1 232.9L1895.2 234.9L1895.2 236.9L1895.3 238.9L1895.3 240.9L1895.4 242.9L1895.5 244.9L1895.5 246.9L1895.6 248.9L1895.6 250.9L1895.7 252.9L1895.7 254.9L1895.8 256.9L1895.9 258.9L1895.9 260.9L1896.0 262.9L1896.0 264.9L1896.1 266.9L1896.1 268.9L1896.2 270.9L1896.2 272.9L1896.3 274.9L1896.4 276.9L1896.4 278.9L1896.5 280.9L1896.5 282.9L1896.6 284.9L1896.6 286.9L1896.7 288.9L1896.8 290.9L1896.8 292.9L1896.9 294.9L1896.9 296.9L1897.0 298.9L1897.0 300.9L1897.1 302.9L1897.2 304.9L1897.2 306.9L1897.3 308.9L1897.3 310.9L1897.4 312.9L1897.4 314.9L1897.5 316.9L1897.5 318.9L1897.6 320.9L1897.7 322.9L1897.7 324.9L1897.8 326.9L1897.8 328.9L1897.9 330.9L1897.9 332.9L1898.0 334.9L1898.1 336.9L1898.1 338.9L1898.2 340.9L1898.2 342.9L1898.3 344.9L1898.3 346.9L1898.4 348.9L1898.4 350.9L1898.5 352.9L1898.6 354.9L1898.6 356.9L1898.7 358.9L1898.7 360.9L1898.8 362.9L1898.8 364.9L1898.9 366.9L1898.9 368.9L1899.0 370.9L1899.1 372.9L1899.1 374.9L1899.2 376.9L1899.2 378.9L1899.3 380.9L1899.3 382.9L1899.4 384.9L1899.4 386.9L1899.5 388.9L1899.6 390.9L1899.6 392.9L1899.7 394.9L1899.7 396.9L1899.8 398.9L1899.8 400.9L1899.9 402.9L1899.9 404.9L1900.0 406.9L1900.0 408.9L1900.1 410.9L1900.1 412.9L1900.2 414.9L1900.2 416.9L1900.3 418.9L1900.3 420.9L1900.3 422.9L1900.4 424.9L1900.4 426.9L1900.5 428.9L1900.5 430.9L1900.6 432.9L1900.6 434.9L1900.7 436.9L1900.7 438.9L1900.7 440.9L1900.8 442.9L1900.8 444.9L1900.9 446.9L1900.9 448.9L1901.0 450.9L1901.1 452.9L1901.1 454.9L1901.2 456.9L1901.2 458.9L1901.3 460.9L1901.4 462.9L1901.4 464.9L1901.5 466.9L1901.6 468.9L1901.7 470.9L1901.8 472.9L1901.9 474.9L1902.0 476.8L1902.1 478.8L1902.2 480.8L1902.3 482.8L1902.4 484.8L1902.5 486.8L1902.6 488.8L1902.7 490.8L1902.8 492.8L1902.9 494.8L1903.0 496.8L1903.1 498.8L1903.3 500.8L1903.4 502.8L1903.5 504.8L1903.6 506.8L1903.7 508.8L1903.8 510.8L1903.9 512.8L1904.0 514.8L1904.2 516.8L1904.3 518.8L1904.4 520.8L1904.5 522.8L1904.6 524.8L1904.7 526.8L1904.8 528.8L1905.0 530.8L1905.1 532.8L1905.2 534.8L1905.3 536.8L1905.4 538.8L1905.5 540.7L1905.7 542.7L1905.8 544.7L1905.9 546.7L1906.0 548.7L1906.2 550.7L1906.3 552.7L1906.4 554.7L1906.5 556.7L1906.6 558.7L1906.8 560.7L1906.9 562.7L1907.0 564.7L1907.1 566.7L1907.2 568.7L1907.4 570.7L1907.5 572.7L1907.6 574.7L1907.7 576.7L1907.9 578.7L1908.0 580.7L1908.1 582.7L1908.3 584.7L1908.4 586.7L1908.5 588.7L1908.7 590.7L1908.8 592.6L1909.0 594.6L1909.1 596.6L1909.3 598.6L1909.4 600.6L1909.6 602.6L1909.8 604.6L1910.0 606.6L1910.1 608.6L1910.3 610.6L1910.5 612.6L1910.7 614.6L1910.9 616.6L1911.1 618.5L1911.3 620.5L1911.5 622.5L1911.8 624.5L1912.0 626.5L1912.2 628.5L1912.4 630.5L1912.7 632.5L1912.9 634.4L1913.1 636.4L1913.3 638.4L1913.6 640.4L1913.8 642.4L1914.0 644.4L1914.3 646.4L1914.5 648.3L1914.8 650.3L1915.0 652.3L1915.3 654.3L1915.6 656.3L1915.9 658.3L1916.2 660.2L1916.5 662.2L1916.8 664.2L1917.2 666.1L1917.5 668.1L1917.9 670.1L1918.2 672.1L1918.6 674.0L1919.0 676.0L1919.4 677.9L1919.8 679.9L1920.3 681.8L1920.8 683.8L1921.3 685.7L1921.9 687.6L1922.5 689.5L1923.2 691.4L1923.9 693.3L1924.7 695.1L1925.5 696.9L1926.4 698.7L1927.3 700.5L1928.4 702.2L1929.5 703.8L1930.7 705.4L1932.1 706.9L1933.6 708.2L1935.2 709.4L1936.9 710.4L1938.6 711.3L1940.5 712.0L1942.4 712.6L1944.4 713.1L1946.3 713.4L1948.3 713.6L1950.3 713.8L1952.3 714.0L1954.3 714.1L1956.3 714.3L1958.3 714.4L1960.3 714.4L1962.3 714.5L1964.3 714.5L1966.3 714.5L1968.3 714.5L1970.3 714.4L1972.3 714.4L1974.3 714.3L1976.3 714.3L1978.3 714.2L1980.3 714.1L1982.3 714.0L1984.3 714.0L1986.3 713.9L1988.3 713.8L1990.3 713.7L1992.3 713.7L1994.3 713.6L1996.3 713.5L1998.3 713.5L2000.3 713.4L2002.3 713.4L2004.3 713.3L2006.3 713.3L2008.3 713.3L2010.3 713.2L2012.3 713.2L2014.3 713.1L2016.3 713.1L2018.3 713.0L2020.3 713.0L2022.3 712.9L2024.3 712.9L2026.3 712.9L2028.3 712.8L2030.3 712.8L2032.3 712.7L2034.3 712.7L2036.3 712.7L2038.3 712.7L2040.3 712.7L2042.3 712.7L2044.3 712.7L2046.3 712.7L2048.3 712.8L2050.2 712.9L2052.2 713.0L2054.2 713.1L2056.2 713.2L2058.2 713.3L2060.2 713.4L2062.2 713.5L2064.2 713.5L2066.2 713.6L2068.2 713.6L2070.2 713.6L2072.2 713.7L2074.2 713.7L2076.2 713.7L2078.2 713.8L2080.2 713.8L2082.2 713.8L2084.2 713.9L2086.2 713.9L2088.2 713.9L2090.2 713.9L2092.2 714.0L2094.2 714.0L2096.2 714.0L2098.2 714.1L2100.2 714.1L2102.2 714.1L2104.2 714.2L2106.2 714.2L2108.2 714.2L2110.2 714.3L2112.2 714.3L2114.2 714.4L2116.2 714.4L2118.2 714.5L2120.2 714.5L2122.2 714.6L2124.2 714.6L2126.2 714.7L2128.2 714.8L2130.2 714.8L2132.2 714.9L2134.2 714.9L2136.2 715.0L2138.2 715.1L2140.2 715.1L2142.2 715.2L2144.2 715.3L2146.2 715.4L2148.2 715.4L2150.2 715.5L2152.2 715.6L2154.2 715.6L2156.2 715.7L2158.2 715.8L2160.2 715.8L2162.2 715.9L2164.2 716.0L2166.2 716.0L2168.2 716.1L2170.2 716.2L2172.2 716.2L2174.2 716.3L2176.2 716.3L2178.2 716.4L2180.2 716.5L2182.2 716.5L2184.2 716.6L2186.2 716.7L2188.2 716.7L2190.2 716.8L2192.2 716.9L2194.2 716.9L2196.2 717.0L2198.2 717.0L2200.2 717.1L2202.2 717.1L2204.2 717.2L2206.2 717.2L2208.2 717.2L2210.2 717.2L2212.2 717.2L2214.2 717.2L2216.2 717.2L2218.2 717.1L2220.2 717.1L2222.2 717.0L2224.2 717.0L2226.2 716.9L2228.2 716.9L2230.2 716.8L2232.2 716.8L2234.2 716.7L2236.2 716.6L2238.2 716.5L2240.2 716.5L2242.2 716.4L2244.2 716.3L2246.2 716.3L2248.2 716.2L2250.2 716.1L2252.2 716.0L2254.2 715.9L2256.2 715.8L2258.2 715.7L2260.1 715.6L2262.1 715.5L2264.1 715.3L2266.1 715.2L2268.1 715.0L2270.1 714.8L2272.1 714.6L2274.1 714.5L2276.1 714.3L2278.1 714.0L2280.1 713.8L2282.1 713.6L2284.0 713.4L2286.0 713.2L2288.0 713.0L2290.0 712.8L2292.0 712.6L2294.0 712.3L2296.0 712.1L2298.0 711.9L2300.0 711.7L2301.9 711.5L2303.9 711.3L2305.9 711.1L2307.9 710.9L2309.9 710.7L2311.9 710.5L2313.9 710.3L2315.9 710.1L2317.9 709.9L2319.9 709.8L2321.9 709.6L2323.8 709.4L2325.8 709.2L2327.8 709.1L2329.8 708.9L2331.8 708.8L2333.8 708.6L2335.8 708.5L2337.8 708.3L2339.8 708.2L2341.8 708.0L2343.8 707.9L2345.8 707.7L2347.8 707.6L2349.8 707.5L2351.8 707.3L2353.8 707.2L2355.8 707.0L2357.8 706.9L2359.7 706.7L2361.7 706.6L2363.7 706.5L2365.7 706.3L2367.7 706.2L2369.7 706.0L2371.7 705.9L2373.7 705.8L2375.7 705.6L2377.7 705.5L2379.7 705.4L2381.7 705.2L2383.7 705.1L2385.7 704.9L2387.7 704.8L2389.7 704.7L2391.7 704.5L2393.7 704.4L2395.7 704.3L2397.7 704.1L2398.0 704.1" fill="none" stroke="#28A7DB" stroke-width="5.6" stroke-linejoin="round"/>
</g>
<text class="se" x="1714.3" y="953.2" font-size="45">Temperature(<tspan font-size="52" dx="-1.35" dy="3.3">°</tspan><tspan dx="-3.55" dy="-3.3">C</tspan><tspan dx="-1">)</tspan></text>
<text class="se" transform="translate(1301.5 605.0) rotate(-90)" font-size="45">Heat Flow/W·g<tspan dy="-18.5" font-size="29">-1</tspan></text>
<text class="se" transform="translate(1327.6 288.2) rotate(-90)" font-size="41.5">EXO</text>
<line x1="1309.7" y1="210.0" x2="1309.7" y2="142.0" stroke="#000" stroke-width="5"/>
<path d="M1309.7 104.7L1320.3 145.3L1299.1 145.3Z" fill="#000"/>
<text class="se" x="1283.0" y="98.8" font-size="67">(c)</text>
<line x1="1373.5" y1="160.0" x2="1454.1" y2="160.0" stroke="#FFAE5F" stroke-width="5.6" stroke-linecap="round"/>
<text class="se" x="1466.5" y="174.4" font-size="45">AP/HTPB</text>
<line x1="1373.5" y1="216.3" x2="1454.1" y2="216.3" stroke="#FC351E" stroke-width="5.6" stroke-linecap="round"/>
<text class="se" x="1466.5" y="230.2" font-size="45">MOF-235/AP/HTPB</text>
<line x1="1373.5" y1="271.6" x2="1454.1" y2="271.6" stroke="#28A7DB" stroke-width="5.6" stroke-linecap="round"/>
<text class="se" x="1466.5" y="286.5" font-size="45">Fe-MOF/AP/HTPB</text>
<text class="se" x="1773.3" y="140.5" font-size="45">342.7</text>
<text class="se" x="1919.8" y="131.4" font-size="45">345.9</text>
<text class="se" x="1722.8" y="532.2" font-size="45">298.0</text>
<text class="se" x="2022.7" y="489.5" font-size="45">396.3</text>
<text class="se" x="1670.5" y="659.7" font-size="45">297.8</text>
<text class="se" x="1768.1" y="756.0" font-size="45">298.9</text>
</g>
<g id="pd">
<rect x="1354.6" y="1058.6" width="776.0" height="110.5" fill="#FFC897" stroke="#C1C1C2" stroke-width="5.5" stroke-linejoin="round" clip-path="url(#cd)"/>
<rect x="1354.6" y="1335.3" width="780.5" height="110.5" fill="#FFC897" stroke="#C1C1C2" stroke-width="5.5" stroke-linejoin="round" clip-path="url(#cd)"/>
<rect x="1354.6" y="1612.0" width="948.5" height="110.5" fill="#FFC897" stroke="#C1C1C2" stroke-width="5.5" stroke-linejoin="round" clip-path="url(#cd)"/>
<rect x="1367.3" y="1696.3" width="939" height="28.8" fill="#fff" opacity="0.1"/>
<line x1="1370.6" y1="1528.7" x2="2393.8" y2="1528.7" stroke="#CDCDCD" stroke-width="1.3" stroke-dasharray="5 4"/>
<line x1="1370.6" y1="1252.0" x2="2393.8" y2="1252.0" stroke="#CDCDCD" stroke-width="1.3" stroke-dasharray="5 4"/>
<rect x="1364.6" y="976.2" width="1032.2" height="829.0" fill="none" stroke="#000" stroke-width="5.5"/>
<line x1="1364.6" y1="1805.2" x2="1364.6" y2="1820.0" stroke="#000" stroke-width="5.5"/>
<line x1="1512.1" y1="1805.2" x2="1512.1" y2="1820.0" stroke="#000" stroke-width="5.5"/>
<line x1="1659.6" y1="1805.2" x2="1659.6" y2="1820.0" stroke="#000" stroke-width="5.5"/>
<line x1="1807.1" y1="1805.2" x2="1807.1" y2="1820.0" stroke="#000" stroke-width="5.5"/>
<line x1="1954.6" y1="1805.2" x2="1954.6" y2="1820.0" stroke="#000" stroke-width="5.5"/>
<line x1="2102.1" y1="1805.2" x2="2102.1" y2="1820.0" stroke="#000" stroke-width="5.5"/>
<line x1="2249.6" y1="1805.2" x2="2249.6" y2="1820.0" stroke="#000" stroke-width="5.5"/>
<line x1="2397.1" y1="1805.2" x2="2397.1" y2="1820.0" stroke="#000" stroke-width="5.5"/>
<text class="sa" transform="translate(1364.6 1861.4) scale(0.955 1)" font-size="37.6" text-anchor="middle">0</text>
<text class="sa" transform="translate(1512.1 1861.4) scale(0.955 1)" font-size="37.6" text-anchor="middle">200</text>
<text class="sa" transform="translate(1659.6 1861.4) scale(0.955 1)" font-size="37.6" text-anchor="middle">400</text>
<text class="sa" transform="translate(1807.1 1861.4) scale(0.955 1)" font-size="37.6" text-anchor="middle">600</text>
<text class="sa" transform="translate(1954.6 1861.4) scale(0.955 1)" font-size="37.6" text-anchor="middle">800</text>
<text class="sa" transform="translate(2102.1 1861.4) scale(0.955 1)" font-size="37.6" text-anchor="middle">1000</text>
<text class="sa" transform="translate(2249.6 1861.4) scale(0.955 1)" font-size="37.6" text-anchor="middle">1200</text>
<text class="sa" transform="translate(2397.1 1861.4) scale(0.955 1)" font-size="37.6" text-anchor="middle">1400</text>
<line x1="1349.2" y1="1667.0" x2="1364.6" y2="1667.0" stroke="#000" stroke-width="5.5"/>
<text class="sa" transform="translate(1338.6 1679.0) scale(0.955 1)" font-size="37.6" text-anchor="end">1</text>
<line x1="1349.2" y1="1390.3" x2="1364.6" y2="1390.3" stroke="#000" stroke-width="5.5"/>
<text class="sa" transform="translate(1338.6 1402.3) scale(0.955 1)" font-size="37.6" text-anchor="end">2</text>
<line x1="1349.2" y1="1113.6" x2="1364.6" y2="1113.6" stroke="#000" stroke-width="5.5"/>
<text class="sa" transform="translate(1338.6 1125.6) scale(0.955 1)" font-size="37.6" text-anchor="end">3</text>
<line x1="1357.3" y1="1805.3" x2="1364.6" y2="1805.3" stroke="#000" stroke-width="5.5"/>
<line x1="1357.3" y1="1528.7" x2="1364.6" y2="1528.7" stroke="#000" stroke-width="5.5"/>
<line x1="1357.3" y1="1252.0" x2="1364.6" y2="1252.0" stroke="#000" stroke-width="5.5"/>
<line x1="1357.3" y1="975.2" x2="1364.6" y2="975.2" stroke="#000" stroke-width="5.5"/>
<text class="se" transform="translate(1299.1 1462.0) rotate(-90)" font-size="45">Sample</text>
<text class="se" x="1285.0" y="1089.0" font-size="67">(d)</text>
<text class="se" x="1719.8" y="1929.1" font-size="45">Heat release(J/g)</text>
<text class="se" x="1448.3" y="1131.5" font-size="45" fill="#FFFF00">Fe-MOF/AP/HTPB</text>
<text class="se" x="1891.6" y="1131.5" font-size="45" fill="#FFFF00">1038.7 J/g</text>
<text class="se" x="1448.3" y="1408.2" font-size="45" fill="#FFFF00">MOF-235/AP/HTPB</text>
<text class="se" x="1910.4" y="1408.2" font-size="45" fill="#FFFF00">1044.8 J/g</text>
<text class="se" x="1436.8" y="1679.6" font-size="45" fill="#FFFF00">AP/HTPB</text>
<text class="se" x="1698.4" y="1679.6" font-size="45" fill="#FFFF00">1272.5 J/g</text>
</g>
</svg>
</body></html>
